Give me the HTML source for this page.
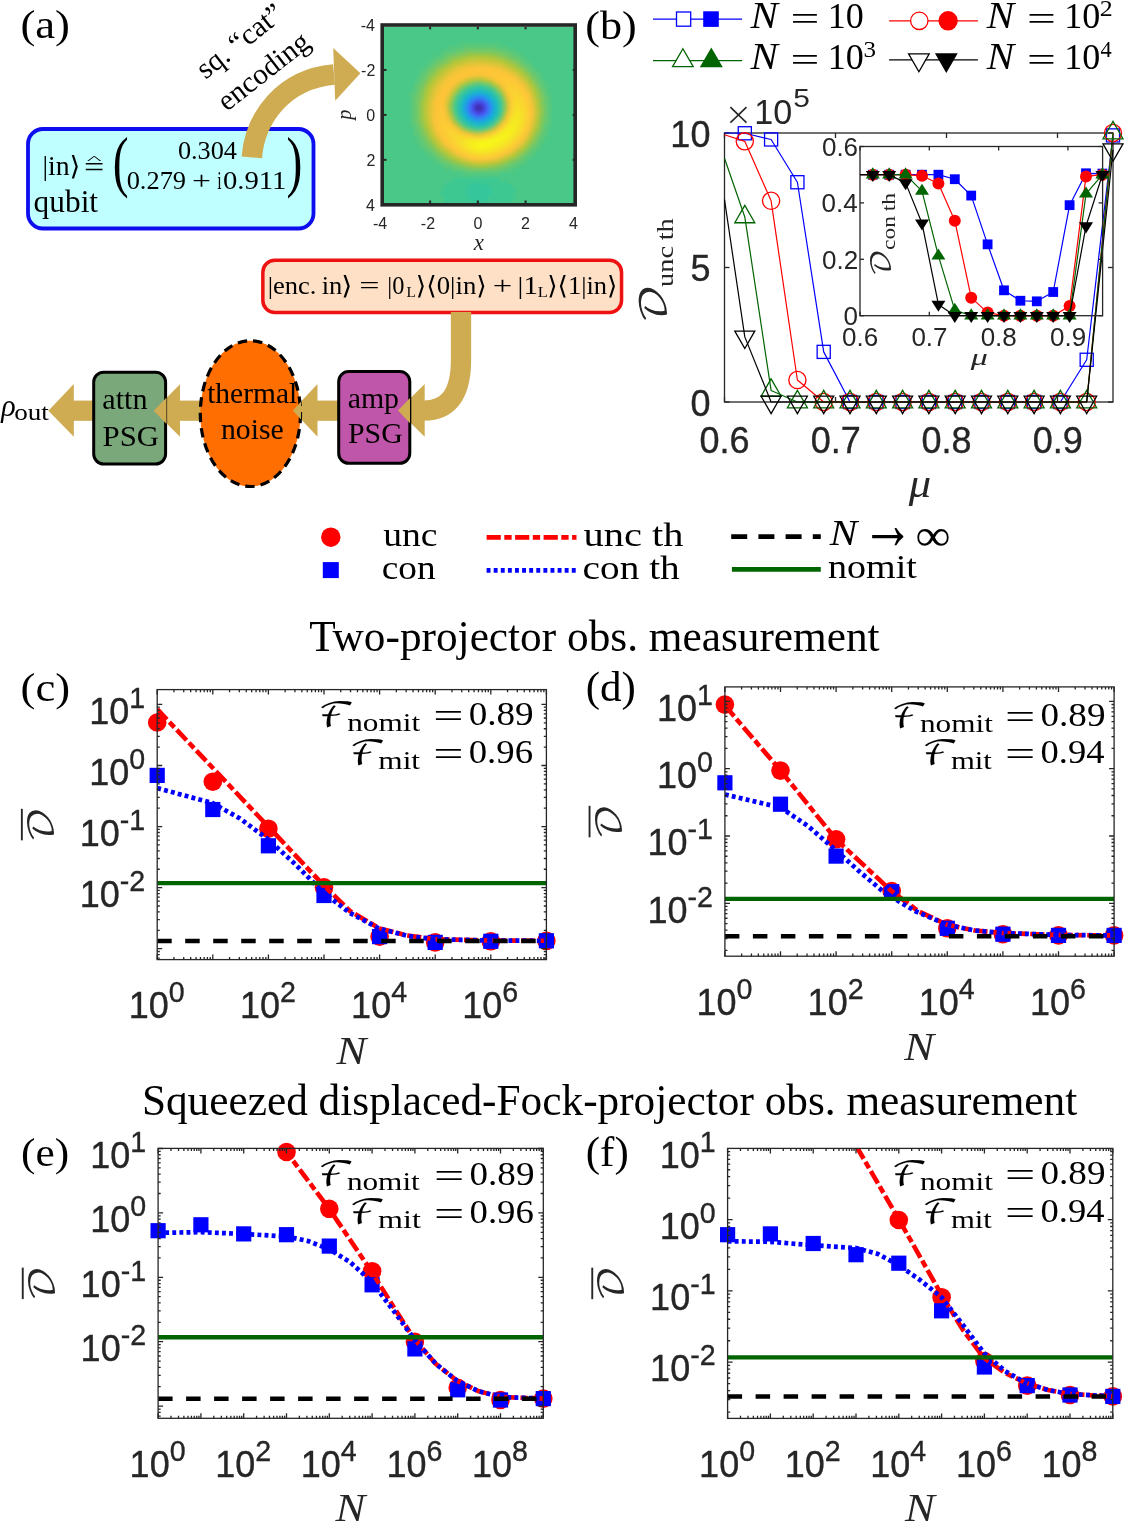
<!DOCTYPE html>
<html><head><meta charset="utf-8"><title>figure</title>
<style>html,body{margin:0;padding:0;background:#fff;overflow:hidden;}svg{display:block;}</style>
</head><body>
<svg width="1125" height="1522" viewBox="0 0 1125 1522">
<rect width="1125" height="1522" fill="#fff"/>
<text transform="translate(20.41 38.36) scale(1.099 1.000)" font-family="'Liberation Serif','DejaVu Serif',serif" font-size="40.66">(a)</text>
<defs><clipPath id="hmclip"><rect x="384" y="26.8" width="191.2" height="178.1"/></clipPath><filter id="hmblur" x="-5%" y="-5%" width="110%" height="110%"><feGaussianBlur stdDeviation="1.6"/></filter></defs>
<g clip-path="url(#hmclip)"><g filter="url(#hmblur)">
<path fill="#3e26a8" d="M476 106h3.5v3.5h-3.5z"/>
<path fill="#3f2bb1" d="M479 106h3.5v3.5h-3.5z"/>
<path fill="#4030b9" d="M476 103h3.5v3.5h-3.5zM476 109h3.5v3.5h-3.5zM479 109h3.5v3.5h-3.5z"/>
<path fill="#4135c2" d="M479 103h3.5v3.5h-3.5zM473 106h3.5v3.5h-3.5z"/>
<path fill="#433aca" d="M482 106h3.5v3.5h-3.5z"/>
<path fill="#443fd3" d="M473 103h3.5v3.5h-3.5zM473 109h3.5v3.5h-3.5zM482 109h3.5v3.5h-3.5z"/>
<path fill="#4544db" d="M482 103h3.5v3.5h-3.5z"/>
<path fill="#4649e4" d="M476 100h3.5v3.5h-3.5zM476 112h3.5v3.5h-3.5zM479 112h3.5v3.5h-3.5z"/>
<path fill="#474eec" d="M479 100h3.5v3.5h-3.5z"/>
<path fill="#4853f4" d="M470 106h3.5v3.5h-3.5zM485 106h3.5v3.5h-3.5zM473 112h3.5v3.5h-3.5zM482 112h3.5v3.5h-3.5z"/>
<path fill="#4559f4" d="M473 100h3.5v3.5h-3.5zM482 100h3.5v3.5h-3.5zM470 103h3.5v3.5h-3.5zM470 109h3.5v3.5h-3.5z"/>
<path fill="#425ff5" d="M485 103h3.5v3.5h-3.5zM485 109h3.5v3.5h-3.5z"/>
<path fill="#3c6bf5" d="M470 112h3.5v3.5h-3.5zM476 115h3.5v3.5h-3.5zM479 115h3.5v3.5h-3.5z"/>
<path fill="#3971f6" d="M476 97h3.5v3.5h-3.5zM479 97h3.5v3.5h-3.5zM470 100h3.5v3.5h-3.5zM485 112h3.5v3.5h-3.5z"/>
<path fill="#3677f6" d="M485 100h3.5v3.5h-3.5zM467 106h3.5v3.5h-3.5zM473 115h3.5v3.5h-3.5zM482 115h3.5v3.5h-3.5z"/>
<path fill="#337cf6" d="M473 97h3.5v3.5h-3.5zM482 97h3.5v3.5h-3.5zM467 103h3.5v3.5h-3.5zM488 106h3.5v3.5h-3.5zM467 109h3.5v3.5h-3.5z"/>
<path fill="#3082f7" d="M488 103h3.5v3.5h-3.5zM488 109h3.5v3.5h-3.5z"/>
<path fill="#2d88f6" d="M470 115h3.5v3.5h-3.5z"/>
<path fill="#2a8df2" d="M470 97h3.5v3.5h-3.5zM467 100h3.5v3.5h-3.5zM467 112h3.5v3.5h-3.5zM488 112h3.5v3.5h-3.5zM485 115h3.5v3.5h-3.5z"/>
<path fill="#2792ef" d="M485 97h3.5v3.5h-3.5zM488 100h3.5v3.5h-3.5zM476 118h3.5v3.5h-3.5zM479 118h3.5v3.5h-3.5z"/>
<path fill="#2496eb" d="M476 94h3.5v3.5h-3.5zM479 94h3.5v3.5h-3.5zM464 106h3.5v3.5h-3.5zM473 118h3.5v3.5h-3.5z"/>
<path fill="#219be7" d="M473 94h3.5v3.5h-3.5zM482 94h3.5v3.5h-3.5zM464 103h3.5v3.5h-3.5zM491 106h3.5v3.5h-3.5zM464 109h3.5v3.5h-3.5zM482 118h3.5v3.5h-3.5z"/>
<path fill="#1da0e4" d="M467 97h3.5v3.5h-3.5zM491 103h3.5v3.5h-3.5zM491 109h3.5v3.5h-3.5zM467 115h3.5v3.5h-3.5zM488 115h3.5v3.5h-3.5z"/>
<path fill="#1aa5e0" d="M470 94h3.5v3.5h-3.5zM488 97h3.5v3.5h-3.5zM464 100h3.5v3.5h-3.5zM464 112h3.5v3.5h-3.5zM470 118h3.5v3.5h-3.5zM485 118h3.5v3.5h-3.5z"/>
<path fill="#17a9dc" d="M485 94h3.5v3.5h-3.5zM491 100h3.5v3.5h-3.5zM491 112h3.5v3.5h-3.5z"/>
<path fill="#14aed8" d="M476 121h3.5v3.5h-3.5zM479 121h3.5v3.5h-3.5z"/>
<path fill="#14b2d3" d="M476 91h3.5v3.5h-3.5zM479 91h3.5v3.5h-3.5zM467 94h3.5v3.5h-3.5zM464 97h3.5v3.5h-3.5zM461 103h3.5v3.5h-3.5zM461 106h3.5v3.5h-3.5zM461 109h3.5v3.5h-3.5zM464 115h3.5v3.5h-3.5zM491 115h3.5v3.5h-3.5zM467 118h3.5v3.5h-3.5zM488 118h3.5v3.5h-3.5zM473 121h3.5v3.5h-3.5zM482 121h3.5v3.5h-3.5z"/>
<path fill="#18b5cc" d="M473 91h3.5v3.5h-3.5zM482 91h3.5v3.5h-3.5zM488 94h3.5v3.5h-3.5zM491 97h3.5v3.5h-3.5zM494 103h3.5v3.5h-3.5zM494 106h3.5v3.5h-3.5zM494 109h3.5v3.5h-3.5z"/>
<path fill="#1cb7c5" d="M470 91h3.5v3.5h-3.5zM485 91h3.5v3.5h-3.5zM461 100h3.5v3.5h-3.5zM494 100h3.5v3.5h-3.5zM461 112h3.5v3.5h-3.5zM494 112h3.5v3.5h-3.5zM470 121h3.5v3.5h-3.5zM485 121h3.5v3.5h-3.5z"/>
<path fill="#20babe" d="M464 94h3.5v3.5h-3.5zM464 118h3.5v3.5h-3.5zM491 118h3.5v3.5h-3.5z"/>
<path fill="#24bcb7" d="M476 88h3.5v3.5h-3.5zM479 88h3.5v3.5h-3.5zM467 91h3.5v3.5h-3.5zM488 91h3.5v3.5h-3.5zM491 94h3.5v3.5h-3.5zM461 97h3.5v3.5h-3.5zM494 97h3.5v3.5h-3.5zM458 106h3.5v3.5h-3.5zM458 109h3.5v3.5h-3.5zM461 115h3.5v3.5h-3.5zM494 115h3.5v3.5h-3.5zM467 121h3.5v3.5h-3.5zM488 121h3.5v3.5h-3.5zM473 124h3.5v3.5h-3.5zM476 124h3.5v3.5h-3.5zM479 124h3.5v3.5h-3.5z"/>
<path fill="#28bfb0" d="M473 88h3.5v3.5h-3.5zM482 88h3.5v3.5h-3.5zM458 100h3.5v3.5h-3.5zM458 103h3.5v3.5h-3.5zM497 103h3.5v3.5h-3.5zM497 106h3.5v3.5h-3.5zM497 109h3.5v3.5h-3.5zM458 112h3.5v3.5h-3.5zM482 124h3.5v3.5h-3.5z"/>
<path fill="#2cc1a9" d="M470 88h3.5v3.5h-3.5zM485 88h3.5v3.5h-3.5zM464 91h3.5v3.5h-3.5zM491 91h3.5v3.5h-3.5zM461 94h3.5v3.5h-3.5zM494 94h3.5v3.5h-3.5zM497 100h3.5v3.5h-3.5zM497 112h3.5v3.5h-3.5zM461 118h3.5v3.5h-3.5zM464 121h3.5v3.5h-3.5zM470 124h3.5v3.5h-3.5zM485 124h3.5v3.5h-3.5z"/>
<path fill="#31c4a2" d="M467 88h3.5v3.5h-3.5zM488 88h3.5v3.5h-3.5zM458 97h3.5v3.5h-3.5zM458 115h3.5v3.5h-3.5zM494 118h3.5v3.5h-3.5zM491 121h3.5v3.5h-3.5zM467 124h3.5v3.5h-3.5z"/>
<path fill="#35c79b" d="M473 85h3.5v3.5h-3.5zM476 85h3.5v3.5h-3.5zM479 85h3.5v3.5h-3.5zM482 85h3.5v3.5h-3.5zM461 91h3.5v3.5h-3.5zM458 94h3.5v3.5h-3.5zM497 97h3.5v3.5h-3.5zM455 100h3.5v3.5h-3.5zM455 103h3.5v3.5h-3.5zM455 106h3.5v3.5h-3.5zM455 109h3.5v3.5h-3.5zM497 115h3.5v3.5h-3.5zM461 121h3.5v3.5h-3.5zM488 124h3.5v3.5h-3.5zM476 127h3.5v3.5h-3.5zM479 127h3.5v3.5h-3.5zM476 181h3.5v3.5h-3.5zM467 184h3.5v3.5h-3.5zM470 184h3.5v3.5h-3.5zM473 184h3.5v3.5h-3.5zM476 184h3.5v3.5h-3.5zM479 184h3.5v3.5h-3.5zM482 184h3.5v3.5h-3.5zM485 184h3.5v3.5h-3.5zM467 187h3.5v3.5h-3.5zM470 187h3.5v3.5h-3.5zM473 187h3.5v3.5h-3.5zM476 187h3.5v3.5h-3.5zM479 187h3.5v3.5h-3.5zM482 187h3.5v3.5h-3.5zM485 187h3.5v3.5h-3.5zM488 187h3.5v3.5h-3.5zM464 190h3.5v3.5h-3.5zM467 190h3.5v3.5h-3.5zM470 190h3.5v3.5h-3.5zM473 190h3.5v3.5h-3.5zM476 190h3.5v3.5h-3.5zM479 190h3.5v3.5h-3.5zM482 190h3.5v3.5h-3.5zM485 190h3.5v3.5h-3.5zM488 190h3.5v3.5h-3.5zM467 193h3.5v3.5h-3.5zM470 193h3.5v3.5h-3.5zM473 193h3.5v3.5h-3.5zM476 193h3.5v3.5h-3.5zM479 193h3.5v3.5h-3.5zM482 193h3.5v3.5h-3.5zM485 193h3.5v3.5h-3.5zM488 193h3.5v3.5h-3.5zM467 196h3.5v3.5h-3.5zM470 196h3.5v3.5h-3.5zM473 196h3.5v3.5h-3.5zM476 196h3.5v3.5h-3.5zM479 196h3.5v3.5h-3.5zM482 196h3.5v3.5h-3.5zM485 196h3.5v3.5h-3.5zM470 199h3.5v3.5h-3.5zM473 199h3.5v3.5h-3.5zM476 199h3.5v3.5h-3.5zM479 199h3.5v3.5h-3.5zM482 199h3.5v3.5h-3.5z"/>
<path fill="#3dc892" d="M470 85h3.5v3.5h-3.5zM485 85h3.5v3.5h-3.5zM464 88h3.5v3.5h-3.5zM491 88h3.5v3.5h-3.5zM494 91h3.5v3.5h-3.5zM497 94h3.5v3.5h-3.5zM500 103h3.5v3.5h-3.5zM500 106h3.5v3.5h-3.5zM500 109h3.5v3.5h-3.5zM455 112h3.5v3.5h-3.5zM458 118h3.5v3.5h-3.5zM464 124h3.5v3.5h-3.5zM473 127h3.5v3.5h-3.5zM482 127h3.5v3.5h-3.5zM452 178h3.5v3.5h-3.5zM455 178h3.5v3.5h-3.5zM458 178h3.5v3.5h-3.5zM461 178h3.5v3.5h-3.5zM464 178h3.5v3.5h-3.5zM467 178h3.5v3.5h-3.5zM470 178h3.5v3.5h-3.5zM473 178h3.5v3.5h-3.5zM476 178h3.5v3.5h-3.5zM479 178h3.5v3.5h-3.5zM482 178h3.5v3.5h-3.5zM485 178h3.5v3.5h-3.5zM488 178h3.5v3.5h-3.5zM491 178h3.5v3.5h-3.5zM494 178h3.5v3.5h-3.5zM497 178h3.5v3.5h-3.5zM446 181h3.5v3.5h-3.5zM449 181h3.5v3.5h-3.5zM452 181h3.5v3.5h-3.5zM455 181h3.5v3.5h-3.5zM458 181h3.5v3.5h-3.5zM461 181h3.5v3.5h-3.5zM464 181h3.5v3.5h-3.5zM467 181h3.5v3.5h-3.5zM470 181h3.5v3.5h-3.5zM473 181h3.5v3.5h-3.5zM479 181h3.5v3.5h-3.5zM482 181h3.5v3.5h-3.5zM485 181h3.5v3.5h-3.5zM488 181h3.5v3.5h-3.5zM491 181h3.5v3.5h-3.5zM494 181h3.5v3.5h-3.5zM497 181h3.5v3.5h-3.5zM500 181h3.5v3.5h-3.5zM503 181h3.5v3.5h-3.5zM506 181h3.5v3.5h-3.5zM443 184h3.5v3.5h-3.5zM446 184h3.5v3.5h-3.5zM449 184h3.5v3.5h-3.5zM452 184h3.5v3.5h-3.5zM455 184h3.5v3.5h-3.5zM458 184h3.5v3.5h-3.5zM461 184h3.5v3.5h-3.5zM464 184h3.5v3.5h-3.5zM488 184h3.5v3.5h-3.5zM491 184h3.5v3.5h-3.5zM494 184h3.5v3.5h-3.5zM497 184h3.5v3.5h-3.5zM500 184h3.5v3.5h-3.5zM503 184h3.5v3.5h-3.5zM506 184h3.5v3.5h-3.5zM509 184h3.5v3.5h-3.5zM443 187h3.5v3.5h-3.5zM446 187h3.5v3.5h-3.5zM449 187h3.5v3.5h-3.5zM452 187h3.5v3.5h-3.5zM455 187h3.5v3.5h-3.5zM458 187h3.5v3.5h-3.5zM461 187h3.5v3.5h-3.5zM464 187h3.5v3.5h-3.5zM491 187h3.5v3.5h-3.5zM494 187h3.5v3.5h-3.5zM497 187h3.5v3.5h-3.5zM500 187h3.5v3.5h-3.5zM503 187h3.5v3.5h-3.5zM506 187h3.5v3.5h-3.5zM509 187h3.5v3.5h-3.5zM512 187h3.5v3.5h-3.5zM440 190h3.5v3.5h-3.5zM443 190h3.5v3.5h-3.5zM446 190h3.5v3.5h-3.5zM449 190h3.5v3.5h-3.5zM452 190h3.5v3.5h-3.5zM455 190h3.5v3.5h-3.5zM458 190h3.5v3.5h-3.5zM461 190h3.5v3.5h-3.5zM491 190h3.5v3.5h-3.5zM494 190h3.5v3.5h-3.5zM497 190h3.5v3.5h-3.5zM500 190h3.5v3.5h-3.5zM503 190h3.5v3.5h-3.5zM506 190h3.5v3.5h-3.5zM509 190h3.5v3.5h-3.5zM512 190h3.5v3.5h-3.5zM440 193h3.5v3.5h-3.5zM443 193h3.5v3.5h-3.5zM446 193h3.5v3.5h-3.5zM449 193h3.5v3.5h-3.5zM452 193h3.5v3.5h-3.5zM455 193h3.5v3.5h-3.5zM458 193h3.5v3.5h-3.5zM461 193h3.5v3.5h-3.5zM464 193h3.5v3.5h-3.5zM491 193h3.5v3.5h-3.5zM494 193h3.5v3.5h-3.5zM497 193h3.5v3.5h-3.5zM500 193h3.5v3.5h-3.5zM503 193h3.5v3.5h-3.5zM506 193h3.5v3.5h-3.5zM509 193h3.5v3.5h-3.5zM512 193h3.5v3.5h-3.5zM443 196h3.5v3.5h-3.5zM446 196h3.5v3.5h-3.5zM449 196h3.5v3.5h-3.5zM452 196h3.5v3.5h-3.5zM455 196h3.5v3.5h-3.5zM458 196h3.5v3.5h-3.5zM461 196h3.5v3.5h-3.5zM464 196h3.5v3.5h-3.5zM488 196h3.5v3.5h-3.5zM491 196h3.5v3.5h-3.5zM494 196h3.5v3.5h-3.5zM497 196h3.5v3.5h-3.5zM500 196h3.5v3.5h-3.5zM503 196h3.5v3.5h-3.5zM506 196h3.5v3.5h-3.5zM509 196h3.5v3.5h-3.5zM512 196h3.5v3.5h-3.5zM443 199h3.5v3.5h-3.5zM446 199h3.5v3.5h-3.5zM449 199h3.5v3.5h-3.5zM452 199h3.5v3.5h-3.5zM455 199h3.5v3.5h-3.5zM458 199h3.5v3.5h-3.5zM461 199h3.5v3.5h-3.5zM464 199h3.5v3.5h-3.5zM467 199h3.5v3.5h-3.5zM485 199h3.5v3.5h-3.5zM488 199h3.5v3.5h-3.5zM491 199h3.5v3.5h-3.5zM494 199h3.5v3.5h-3.5zM497 199h3.5v3.5h-3.5zM500 199h3.5v3.5h-3.5zM503 199h3.5v3.5h-3.5zM506 199h3.5v3.5h-3.5zM509 199h3.5v3.5h-3.5zM443 202h3.5v3.5h-3.5zM446 202h3.5v3.5h-3.5zM449 202h3.5v3.5h-3.5zM452 202h3.5v3.5h-3.5zM455 202h3.5v3.5h-3.5zM458 202h3.5v3.5h-3.5zM461 202h3.5v3.5h-3.5zM464 202h3.5v3.5h-3.5zM467 202h3.5v3.5h-3.5zM470 202h3.5v3.5h-3.5zM473 202h3.5v3.5h-3.5zM476 202h3.5v3.5h-3.5zM479 202h3.5v3.5h-3.5zM482 202h3.5v3.5h-3.5zM485 202h3.5v3.5h-3.5zM488 202h3.5v3.5h-3.5zM491 202h3.5v3.5h-3.5zM494 202h3.5v3.5h-3.5zM497 202h3.5v3.5h-3.5zM500 202h3.5v3.5h-3.5zM503 202h3.5v3.5h-3.5zM506 202h3.5v3.5h-3.5zM509 202h3.5v3.5h-3.5zM446 205h3.5v3.5h-3.5zM449 205h3.5v3.5h-3.5zM452 205h3.5v3.5h-3.5zM455 205h3.5v3.5h-3.5zM458 205h3.5v3.5h-3.5zM461 205h3.5v3.5h-3.5zM464 205h3.5v3.5h-3.5zM467 205h3.5v3.5h-3.5zM470 205h3.5v3.5h-3.5zM473 205h3.5v3.5h-3.5zM476 205h3.5v3.5h-3.5zM479 205h3.5v3.5h-3.5zM482 205h3.5v3.5h-3.5zM485 205h3.5v3.5h-3.5zM488 205h3.5v3.5h-3.5zM491 205h3.5v3.5h-3.5zM494 205h3.5v3.5h-3.5zM497 205h3.5v3.5h-3.5zM500 205h3.5v3.5h-3.5zM503 205h3.5v3.5h-3.5zM506 205h3.5v3.5h-3.5z"/>
<path fill="#4ac887" d="M380 22h3.5v3.5h-3.5zM383 22h3.5v3.5h-3.5zM386 22h3.5v3.5h-3.5zM389 22h3.5v3.5h-3.5zM392 22h3.5v3.5h-3.5zM395 22h3.5v3.5h-3.5zM398 22h3.5v3.5h-3.5zM401 22h3.5v3.5h-3.5zM404 22h3.5v3.5h-3.5zM407 22h3.5v3.5h-3.5zM410 22h3.5v3.5h-3.5zM413 22h3.5v3.5h-3.5zM416 22h3.5v3.5h-3.5zM419 22h3.5v3.5h-3.5zM422 22h3.5v3.5h-3.5zM425 22h3.5v3.5h-3.5zM428 22h3.5v3.5h-3.5zM431 22h3.5v3.5h-3.5zM434 22h3.5v3.5h-3.5zM437 22h3.5v3.5h-3.5zM440 22h3.5v3.5h-3.5zM443 22h3.5v3.5h-3.5zM446 22h3.5v3.5h-3.5zM449 22h3.5v3.5h-3.5zM452 22h3.5v3.5h-3.5zM455 22h3.5v3.5h-3.5zM458 22h3.5v3.5h-3.5zM461 22h3.5v3.5h-3.5zM464 22h3.5v3.5h-3.5zM467 22h3.5v3.5h-3.5zM470 22h3.5v3.5h-3.5zM473 22h3.5v3.5h-3.5zM476 22h3.5v3.5h-3.5zM479 22h3.5v3.5h-3.5zM482 22h3.5v3.5h-3.5zM485 22h3.5v3.5h-3.5zM488 22h3.5v3.5h-3.5zM491 22h3.5v3.5h-3.5zM494 22h3.5v3.5h-3.5zM497 22h3.5v3.5h-3.5zM500 22h3.5v3.5h-3.5zM503 22h3.5v3.5h-3.5zM506 22h3.5v3.5h-3.5zM509 22h3.5v3.5h-3.5zM512 22h3.5v3.5h-3.5zM515 22h3.5v3.5h-3.5zM518 22h3.5v3.5h-3.5zM521 22h3.5v3.5h-3.5zM524 22h3.5v3.5h-3.5zM527 22h3.5v3.5h-3.5zM530 22h3.5v3.5h-3.5zM533 22h3.5v3.5h-3.5zM536 22h3.5v3.5h-3.5zM539 22h3.5v3.5h-3.5zM542 22h3.5v3.5h-3.5zM545 22h3.5v3.5h-3.5zM548 22h3.5v3.5h-3.5zM551 22h3.5v3.5h-3.5zM554 22h3.5v3.5h-3.5zM557 22h3.5v3.5h-3.5zM560 22h3.5v3.5h-3.5zM563 22h3.5v3.5h-3.5zM566 22h3.5v3.5h-3.5zM569 22h3.5v3.5h-3.5zM572 22h3.5v3.5h-3.5zM575 22h3.5v3.5h-3.5zM380 25h3.5v3.5h-3.5zM383 25h3.5v3.5h-3.5zM386 25h3.5v3.5h-3.5zM389 25h3.5v3.5h-3.5zM392 25h3.5v3.5h-3.5zM395 25h3.5v3.5h-3.5zM398 25h3.5v3.5h-3.5zM401 25h3.5v3.5h-3.5zM404 25h3.5v3.5h-3.5zM407 25h3.5v3.5h-3.5zM410 25h3.5v3.5h-3.5zM413 25h3.5v3.5h-3.5zM416 25h3.5v3.5h-3.5zM419 25h3.5v3.5h-3.5zM422 25h3.5v3.5h-3.5zM425 25h3.5v3.5h-3.5zM428 25h3.5v3.5h-3.5zM431 25h3.5v3.5h-3.5zM434 25h3.5v3.5h-3.5zM437 25h3.5v3.5h-3.5zM440 25h3.5v3.5h-3.5zM443 25h3.5v3.5h-3.5zM446 25h3.5v3.5h-3.5zM449 25h3.5v3.5h-3.5zM452 25h3.5v3.5h-3.5zM455 25h3.5v3.5h-3.5zM458 25h3.5v3.5h-3.5zM461 25h3.5v3.5h-3.5zM464 25h3.5v3.5h-3.5zM467 25h3.5v3.5h-3.5zM470 25h3.5v3.5h-3.5zM473 25h3.5v3.5h-3.5zM476 25h3.5v3.5h-3.5zM479 25h3.5v3.5h-3.5zM482 25h3.5v3.5h-3.5zM485 25h3.5v3.5h-3.5zM488 25h3.5v3.5h-3.5zM491 25h3.5v3.5h-3.5zM494 25h3.5v3.5h-3.5zM497 25h3.5v3.5h-3.5zM500 25h3.5v3.5h-3.5zM503 25h3.5v3.5h-3.5zM506 25h3.5v3.5h-3.5zM509 25h3.5v3.5h-3.5zM512 25h3.5v3.5h-3.5zM515 25h3.5v3.5h-3.5zM518 25h3.5v3.5h-3.5zM521 25h3.5v3.5h-3.5zM524 25h3.5v3.5h-3.5zM527 25h3.5v3.5h-3.5zM530 25h3.5v3.5h-3.5zM533 25h3.5v3.5h-3.5zM536 25h3.5v3.5h-3.5zM539 25h3.5v3.5h-3.5zM542 25h3.5v3.5h-3.5zM545 25h3.5v3.5h-3.5zM548 25h3.5v3.5h-3.5zM551 25h3.5v3.5h-3.5zM554 25h3.5v3.5h-3.5zM557 25h3.5v3.5h-3.5zM560 25h3.5v3.5h-3.5zM563 25h3.5v3.5h-3.5zM566 25h3.5v3.5h-3.5zM569 25h3.5v3.5h-3.5zM572 25h3.5v3.5h-3.5zM575 25h3.5v3.5h-3.5zM380 28h3.5v3.5h-3.5zM383 28h3.5v3.5h-3.5zM386 28h3.5v3.5h-3.5zM389 28h3.5v3.5h-3.5zM392 28h3.5v3.5h-3.5zM395 28h3.5v3.5h-3.5zM398 28h3.5v3.5h-3.5zM401 28h3.5v3.5h-3.5zM404 28h3.5v3.5h-3.5zM407 28h3.5v3.5h-3.5zM410 28h3.5v3.5h-3.5zM413 28h3.5v3.5h-3.5zM416 28h3.5v3.5h-3.5zM419 28h3.5v3.5h-3.5zM422 28h3.5v3.5h-3.5zM425 28h3.5v3.5h-3.5zM428 28h3.5v3.5h-3.5zM431 28h3.5v3.5h-3.5zM434 28h3.5v3.5h-3.5zM437 28h3.5v3.5h-3.5zM440 28h3.5v3.5h-3.5zM443 28h3.5v3.5h-3.5zM446 28h3.5v3.5h-3.5zM449 28h3.5v3.5h-3.5zM452 28h3.5v3.5h-3.5zM455 28h3.5v3.5h-3.5zM458 28h3.5v3.5h-3.5zM461 28h3.5v3.5h-3.5zM464 28h3.5v3.5h-3.5zM467 28h3.5v3.5h-3.5zM470 28h3.5v3.5h-3.5zM473 28h3.5v3.5h-3.5zM476 28h3.5v3.5h-3.5zM479 28h3.5v3.5h-3.5zM482 28h3.5v3.5h-3.5zM485 28h3.5v3.5h-3.5zM488 28h3.5v3.5h-3.5zM491 28h3.5v3.5h-3.5zM494 28h3.5v3.5h-3.5zM497 28h3.5v3.5h-3.5zM500 28h3.5v3.5h-3.5zM503 28h3.5v3.5h-3.5zM506 28h3.5v3.5h-3.5zM509 28h3.5v3.5h-3.5zM512 28h3.5v3.5h-3.5zM515 28h3.5v3.5h-3.5zM518 28h3.5v3.5h-3.5zM521 28h3.5v3.5h-3.5zM524 28h3.5v3.5h-3.5zM527 28h3.5v3.5h-3.5zM530 28h3.5v3.5h-3.5zM533 28h3.5v3.5h-3.5zM536 28h3.5v3.5h-3.5zM539 28h3.5v3.5h-3.5zM542 28h3.5v3.5h-3.5zM545 28h3.5v3.5h-3.5zM548 28h3.5v3.5h-3.5zM551 28h3.5v3.5h-3.5zM554 28h3.5v3.5h-3.5zM557 28h3.5v3.5h-3.5zM560 28h3.5v3.5h-3.5zM563 28h3.5v3.5h-3.5zM566 28h3.5v3.5h-3.5zM569 28h3.5v3.5h-3.5zM572 28h3.5v3.5h-3.5zM575 28h3.5v3.5h-3.5zM380 31h3.5v3.5h-3.5zM383 31h3.5v3.5h-3.5zM386 31h3.5v3.5h-3.5zM389 31h3.5v3.5h-3.5zM392 31h3.5v3.5h-3.5zM395 31h3.5v3.5h-3.5zM398 31h3.5v3.5h-3.5zM401 31h3.5v3.5h-3.5zM404 31h3.5v3.5h-3.5zM407 31h3.5v3.5h-3.5zM410 31h3.5v3.5h-3.5zM413 31h3.5v3.5h-3.5zM416 31h3.5v3.5h-3.5zM419 31h3.5v3.5h-3.5zM422 31h3.5v3.5h-3.5zM425 31h3.5v3.5h-3.5zM428 31h3.5v3.5h-3.5zM431 31h3.5v3.5h-3.5zM434 31h3.5v3.5h-3.5zM437 31h3.5v3.5h-3.5zM440 31h3.5v3.5h-3.5zM443 31h3.5v3.5h-3.5zM446 31h3.5v3.5h-3.5zM449 31h3.5v3.5h-3.5zM452 31h3.5v3.5h-3.5zM455 31h3.5v3.5h-3.5zM458 31h3.5v3.5h-3.5zM461 31h3.5v3.5h-3.5zM464 31h3.5v3.5h-3.5zM467 31h3.5v3.5h-3.5zM470 31h3.5v3.5h-3.5zM473 31h3.5v3.5h-3.5zM476 31h3.5v3.5h-3.5zM479 31h3.5v3.5h-3.5zM482 31h3.5v3.5h-3.5zM485 31h3.5v3.5h-3.5zM488 31h3.5v3.5h-3.5zM491 31h3.5v3.5h-3.5zM494 31h3.5v3.5h-3.5zM497 31h3.5v3.5h-3.5zM500 31h3.5v3.5h-3.5zM503 31h3.5v3.5h-3.5zM506 31h3.5v3.5h-3.5zM509 31h3.5v3.5h-3.5zM512 31h3.5v3.5h-3.5zM515 31h3.5v3.5h-3.5zM518 31h3.5v3.5h-3.5zM521 31h3.5v3.5h-3.5zM524 31h3.5v3.5h-3.5zM527 31h3.5v3.5h-3.5zM530 31h3.5v3.5h-3.5zM533 31h3.5v3.5h-3.5zM536 31h3.5v3.5h-3.5zM539 31h3.5v3.5h-3.5zM542 31h3.5v3.5h-3.5zM545 31h3.5v3.5h-3.5zM548 31h3.5v3.5h-3.5zM551 31h3.5v3.5h-3.5zM554 31h3.5v3.5h-3.5zM557 31h3.5v3.5h-3.5zM560 31h3.5v3.5h-3.5zM563 31h3.5v3.5h-3.5zM566 31h3.5v3.5h-3.5zM569 31h3.5v3.5h-3.5zM572 31h3.5v3.5h-3.5zM575 31h3.5v3.5h-3.5zM380 34h3.5v3.5h-3.5zM383 34h3.5v3.5h-3.5zM386 34h3.5v3.5h-3.5zM389 34h3.5v3.5h-3.5zM392 34h3.5v3.5h-3.5zM395 34h3.5v3.5h-3.5zM398 34h3.5v3.5h-3.5zM401 34h3.5v3.5h-3.5zM404 34h3.5v3.5h-3.5zM407 34h3.5v3.5h-3.5zM410 34h3.5v3.5h-3.5zM413 34h3.5v3.5h-3.5zM416 34h3.5v3.5h-3.5zM419 34h3.5v3.5h-3.5zM422 34h3.5v3.5h-3.5zM425 34h3.5v3.5h-3.5zM428 34h3.5v3.5h-3.5zM431 34h3.5v3.5h-3.5zM434 34h3.5v3.5h-3.5zM437 34h3.5v3.5h-3.5zM440 34h3.5v3.5h-3.5zM443 34h3.5v3.5h-3.5zM446 34h3.5v3.5h-3.5zM449 34h3.5v3.5h-3.5zM452 34h3.5v3.5h-3.5zM455 34h3.5v3.5h-3.5zM458 34h3.5v3.5h-3.5zM461 34h3.5v3.5h-3.5zM464 34h3.5v3.5h-3.5zM467 34h3.5v3.5h-3.5zM470 34h3.5v3.5h-3.5zM473 34h3.5v3.5h-3.5zM476 34h3.5v3.5h-3.5zM479 34h3.5v3.5h-3.5zM482 34h3.5v3.5h-3.5zM485 34h3.5v3.5h-3.5zM488 34h3.5v3.5h-3.5zM491 34h3.5v3.5h-3.5zM494 34h3.5v3.5h-3.5zM497 34h3.5v3.5h-3.5zM500 34h3.5v3.5h-3.5zM503 34h3.5v3.5h-3.5zM506 34h3.5v3.5h-3.5zM509 34h3.5v3.5h-3.5zM512 34h3.5v3.5h-3.5zM515 34h3.5v3.5h-3.5zM518 34h3.5v3.5h-3.5zM521 34h3.5v3.5h-3.5zM524 34h3.5v3.5h-3.5zM527 34h3.5v3.5h-3.5zM530 34h3.5v3.5h-3.5zM533 34h3.5v3.5h-3.5zM536 34h3.5v3.5h-3.5zM539 34h3.5v3.5h-3.5zM542 34h3.5v3.5h-3.5zM545 34h3.5v3.5h-3.5zM548 34h3.5v3.5h-3.5zM551 34h3.5v3.5h-3.5zM554 34h3.5v3.5h-3.5zM557 34h3.5v3.5h-3.5zM560 34h3.5v3.5h-3.5zM563 34h3.5v3.5h-3.5zM566 34h3.5v3.5h-3.5zM569 34h3.5v3.5h-3.5zM572 34h3.5v3.5h-3.5zM575 34h3.5v3.5h-3.5zM380 37h3.5v3.5h-3.5zM383 37h3.5v3.5h-3.5zM386 37h3.5v3.5h-3.5zM389 37h3.5v3.5h-3.5zM392 37h3.5v3.5h-3.5zM395 37h3.5v3.5h-3.5zM398 37h3.5v3.5h-3.5zM401 37h3.5v3.5h-3.5zM404 37h3.5v3.5h-3.5zM407 37h3.5v3.5h-3.5zM410 37h3.5v3.5h-3.5zM413 37h3.5v3.5h-3.5zM416 37h3.5v3.5h-3.5zM419 37h3.5v3.5h-3.5zM422 37h3.5v3.5h-3.5zM425 37h3.5v3.5h-3.5zM428 37h3.5v3.5h-3.5zM431 37h3.5v3.5h-3.5zM434 37h3.5v3.5h-3.5zM437 37h3.5v3.5h-3.5zM440 37h3.5v3.5h-3.5zM443 37h3.5v3.5h-3.5zM446 37h3.5v3.5h-3.5zM449 37h3.5v3.5h-3.5zM452 37h3.5v3.5h-3.5zM455 37h3.5v3.5h-3.5zM458 37h3.5v3.5h-3.5zM461 37h3.5v3.5h-3.5zM464 37h3.5v3.5h-3.5zM467 37h3.5v3.5h-3.5zM470 37h3.5v3.5h-3.5zM473 37h3.5v3.5h-3.5zM476 37h3.5v3.5h-3.5zM479 37h3.5v3.5h-3.5zM482 37h3.5v3.5h-3.5zM485 37h3.5v3.5h-3.5zM488 37h3.5v3.5h-3.5zM491 37h3.5v3.5h-3.5zM494 37h3.5v3.5h-3.5zM497 37h3.5v3.5h-3.5zM500 37h3.5v3.5h-3.5zM503 37h3.5v3.5h-3.5zM506 37h3.5v3.5h-3.5zM509 37h3.5v3.5h-3.5zM512 37h3.5v3.5h-3.5zM515 37h3.5v3.5h-3.5zM518 37h3.5v3.5h-3.5zM521 37h3.5v3.5h-3.5zM524 37h3.5v3.5h-3.5zM527 37h3.5v3.5h-3.5zM530 37h3.5v3.5h-3.5zM533 37h3.5v3.5h-3.5zM536 37h3.5v3.5h-3.5zM539 37h3.5v3.5h-3.5zM542 37h3.5v3.5h-3.5zM545 37h3.5v3.5h-3.5zM548 37h3.5v3.5h-3.5zM551 37h3.5v3.5h-3.5zM554 37h3.5v3.5h-3.5zM557 37h3.5v3.5h-3.5zM560 37h3.5v3.5h-3.5zM563 37h3.5v3.5h-3.5zM566 37h3.5v3.5h-3.5zM569 37h3.5v3.5h-3.5zM572 37h3.5v3.5h-3.5zM575 37h3.5v3.5h-3.5zM380 40h3.5v3.5h-3.5zM383 40h3.5v3.5h-3.5zM386 40h3.5v3.5h-3.5zM389 40h3.5v3.5h-3.5zM392 40h3.5v3.5h-3.5zM395 40h3.5v3.5h-3.5zM398 40h3.5v3.5h-3.5zM401 40h3.5v3.5h-3.5zM404 40h3.5v3.5h-3.5zM407 40h3.5v3.5h-3.5zM410 40h3.5v3.5h-3.5zM413 40h3.5v3.5h-3.5zM416 40h3.5v3.5h-3.5zM419 40h3.5v3.5h-3.5zM422 40h3.5v3.5h-3.5zM425 40h3.5v3.5h-3.5zM428 40h3.5v3.5h-3.5zM431 40h3.5v3.5h-3.5zM434 40h3.5v3.5h-3.5zM437 40h3.5v3.5h-3.5zM440 40h3.5v3.5h-3.5zM443 40h3.5v3.5h-3.5zM446 40h3.5v3.5h-3.5zM449 40h3.5v3.5h-3.5zM452 40h3.5v3.5h-3.5zM455 40h3.5v3.5h-3.5zM458 40h3.5v3.5h-3.5zM461 40h3.5v3.5h-3.5zM464 40h3.5v3.5h-3.5zM467 40h3.5v3.5h-3.5zM470 40h3.5v3.5h-3.5zM473 40h3.5v3.5h-3.5zM476 40h3.5v3.5h-3.5zM479 40h3.5v3.5h-3.5zM482 40h3.5v3.5h-3.5zM485 40h3.5v3.5h-3.5zM488 40h3.5v3.5h-3.5zM491 40h3.5v3.5h-3.5zM494 40h3.5v3.5h-3.5zM497 40h3.5v3.5h-3.5zM500 40h3.5v3.5h-3.5zM503 40h3.5v3.5h-3.5zM506 40h3.5v3.5h-3.5zM509 40h3.5v3.5h-3.5zM512 40h3.5v3.5h-3.5zM515 40h3.5v3.5h-3.5zM518 40h3.5v3.5h-3.5zM521 40h3.5v3.5h-3.5zM524 40h3.5v3.5h-3.5zM527 40h3.5v3.5h-3.5zM530 40h3.5v3.5h-3.5zM533 40h3.5v3.5h-3.5zM536 40h3.5v3.5h-3.5zM539 40h3.5v3.5h-3.5zM542 40h3.5v3.5h-3.5zM545 40h3.5v3.5h-3.5zM548 40h3.5v3.5h-3.5zM551 40h3.5v3.5h-3.5zM554 40h3.5v3.5h-3.5zM557 40h3.5v3.5h-3.5zM560 40h3.5v3.5h-3.5zM563 40h3.5v3.5h-3.5zM566 40h3.5v3.5h-3.5zM569 40h3.5v3.5h-3.5zM572 40h3.5v3.5h-3.5zM575 40h3.5v3.5h-3.5zM380 43h3.5v3.5h-3.5zM383 43h3.5v3.5h-3.5zM386 43h3.5v3.5h-3.5zM389 43h3.5v3.5h-3.5zM392 43h3.5v3.5h-3.5zM395 43h3.5v3.5h-3.5zM398 43h3.5v3.5h-3.5zM401 43h3.5v3.5h-3.5zM404 43h3.5v3.5h-3.5zM407 43h3.5v3.5h-3.5zM410 43h3.5v3.5h-3.5zM413 43h3.5v3.5h-3.5zM416 43h3.5v3.5h-3.5zM419 43h3.5v3.5h-3.5zM422 43h3.5v3.5h-3.5zM425 43h3.5v3.5h-3.5zM428 43h3.5v3.5h-3.5zM431 43h3.5v3.5h-3.5zM434 43h3.5v3.5h-3.5zM437 43h3.5v3.5h-3.5zM440 43h3.5v3.5h-3.5zM443 43h3.5v3.5h-3.5zM446 43h3.5v3.5h-3.5zM449 43h3.5v3.5h-3.5zM452 43h3.5v3.5h-3.5zM455 43h3.5v3.5h-3.5zM500 43h3.5v3.5h-3.5zM503 43h3.5v3.5h-3.5zM506 43h3.5v3.5h-3.5zM509 43h3.5v3.5h-3.5zM512 43h3.5v3.5h-3.5zM515 43h3.5v3.5h-3.5zM518 43h3.5v3.5h-3.5zM521 43h3.5v3.5h-3.5zM524 43h3.5v3.5h-3.5zM527 43h3.5v3.5h-3.5zM530 43h3.5v3.5h-3.5zM533 43h3.5v3.5h-3.5zM536 43h3.5v3.5h-3.5zM539 43h3.5v3.5h-3.5zM542 43h3.5v3.5h-3.5zM545 43h3.5v3.5h-3.5zM548 43h3.5v3.5h-3.5zM551 43h3.5v3.5h-3.5zM554 43h3.5v3.5h-3.5zM557 43h3.5v3.5h-3.5zM560 43h3.5v3.5h-3.5zM563 43h3.5v3.5h-3.5zM566 43h3.5v3.5h-3.5zM569 43h3.5v3.5h-3.5zM572 43h3.5v3.5h-3.5zM575 43h3.5v3.5h-3.5zM380 46h3.5v3.5h-3.5zM383 46h3.5v3.5h-3.5zM386 46h3.5v3.5h-3.5zM389 46h3.5v3.5h-3.5zM392 46h3.5v3.5h-3.5zM395 46h3.5v3.5h-3.5zM398 46h3.5v3.5h-3.5zM401 46h3.5v3.5h-3.5zM404 46h3.5v3.5h-3.5zM407 46h3.5v3.5h-3.5zM410 46h3.5v3.5h-3.5zM413 46h3.5v3.5h-3.5zM416 46h3.5v3.5h-3.5zM419 46h3.5v3.5h-3.5zM422 46h3.5v3.5h-3.5zM425 46h3.5v3.5h-3.5zM428 46h3.5v3.5h-3.5zM431 46h3.5v3.5h-3.5zM434 46h3.5v3.5h-3.5zM437 46h3.5v3.5h-3.5zM440 46h3.5v3.5h-3.5zM443 46h3.5v3.5h-3.5zM446 46h3.5v3.5h-3.5zM509 46h3.5v3.5h-3.5zM512 46h3.5v3.5h-3.5zM515 46h3.5v3.5h-3.5zM518 46h3.5v3.5h-3.5zM521 46h3.5v3.5h-3.5zM524 46h3.5v3.5h-3.5zM527 46h3.5v3.5h-3.5zM530 46h3.5v3.5h-3.5zM533 46h3.5v3.5h-3.5zM536 46h3.5v3.5h-3.5zM539 46h3.5v3.5h-3.5zM542 46h3.5v3.5h-3.5zM545 46h3.5v3.5h-3.5zM548 46h3.5v3.5h-3.5zM551 46h3.5v3.5h-3.5zM554 46h3.5v3.5h-3.5zM557 46h3.5v3.5h-3.5zM560 46h3.5v3.5h-3.5zM563 46h3.5v3.5h-3.5zM566 46h3.5v3.5h-3.5zM569 46h3.5v3.5h-3.5zM572 46h3.5v3.5h-3.5zM575 46h3.5v3.5h-3.5zM380 49h3.5v3.5h-3.5zM383 49h3.5v3.5h-3.5zM386 49h3.5v3.5h-3.5zM389 49h3.5v3.5h-3.5zM392 49h3.5v3.5h-3.5zM395 49h3.5v3.5h-3.5zM398 49h3.5v3.5h-3.5zM401 49h3.5v3.5h-3.5zM404 49h3.5v3.5h-3.5zM407 49h3.5v3.5h-3.5zM410 49h3.5v3.5h-3.5zM413 49h3.5v3.5h-3.5zM416 49h3.5v3.5h-3.5zM419 49h3.5v3.5h-3.5zM422 49h3.5v3.5h-3.5zM425 49h3.5v3.5h-3.5zM428 49h3.5v3.5h-3.5zM431 49h3.5v3.5h-3.5zM434 49h3.5v3.5h-3.5zM437 49h3.5v3.5h-3.5zM440 49h3.5v3.5h-3.5zM515 49h3.5v3.5h-3.5zM518 49h3.5v3.5h-3.5zM521 49h3.5v3.5h-3.5zM524 49h3.5v3.5h-3.5zM527 49h3.5v3.5h-3.5zM530 49h3.5v3.5h-3.5zM533 49h3.5v3.5h-3.5zM536 49h3.5v3.5h-3.5zM539 49h3.5v3.5h-3.5zM542 49h3.5v3.5h-3.5zM545 49h3.5v3.5h-3.5zM548 49h3.5v3.5h-3.5zM551 49h3.5v3.5h-3.5zM554 49h3.5v3.5h-3.5zM557 49h3.5v3.5h-3.5zM560 49h3.5v3.5h-3.5zM563 49h3.5v3.5h-3.5zM566 49h3.5v3.5h-3.5zM569 49h3.5v3.5h-3.5zM572 49h3.5v3.5h-3.5zM575 49h3.5v3.5h-3.5zM380 52h3.5v3.5h-3.5zM383 52h3.5v3.5h-3.5zM386 52h3.5v3.5h-3.5zM389 52h3.5v3.5h-3.5zM392 52h3.5v3.5h-3.5zM395 52h3.5v3.5h-3.5zM398 52h3.5v3.5h-3.5zM401 52h3.5v3.5h-3.5zM404 52h3.5v3.5h-3.5zM407 52h3.5v3.5h-3.5zM410 52h3.5v3.5h-3.5zM413 52h3.5v3.5h-3.5zM416 52h3.5v3.5h-3.5zM419 52h3.5v3.5h-3.5zM422 52h3.5v3.5h-3.5zM425 52h3.5v3.5h-3.5zM428 52h3.5v3.5h-3.5zM431 52h3.5v3.5h-3.5zM434 52h3.5v3.5h-3.5zM437 52h3.5v3.5h-3.5zM521 52h3.5v3.5h-3.5zM524 52h3.5v3.5h-3.5zM527 52h3.5v3.5h-3.5zM530 52h3.5v3.5h-3.5zM533 52h3.5v3.5h-3.5zM536 52h3.5v3.5h-3.5zM539 52h3.5v3.5h-3.5zM542 52h3.5v3.5h-3.5zM545 52h3.5v3.5h-3.5zM548 52h3.5v3.5h-3.5zM551 52h3.5v3.5h-3.5zM554 52h3.5v3.5h-3.5zM557 52h3.5v3.5h-3.5zM560 52h3.5v3.5h-3.5zM563 52h3.5v3.5h-3.5zM566 52h3.5v3.5h-3.5zM569 52h3.5v3.5h-3.5zM572 52h3.5v3.5h-3.5zM575 52h3.5v3.5h-3.5zM380 55h3.5v3.5h-3.5zM383 55h3.5v3.5h-3.5zM386 55h3.5v3.5h-3.5zM389 55h3.5v3.5h-3.5zM392 55h3.5v3.5h-3.5zM395 55h3.5v3.5h-3.5zM398 55h3.5v3.5h-3.5zM401 55h3.5v3.5h-3.5zM404 55h3.5v3.5h-3.5zM407 55h3.5v3.5h-3.5zM410 55h3.5v3.5h-3.5zM413 55h3.5v3.5h-3.5zM416 55h3.5v3.5h-3.5zM419 55h3.5v3.5h-3.5zM422 55h3.5v3.5h-3.5zM425 55h3.5v3.5h-3.5zM428 55h3.5v3.5h-3.5zM431 55h3.5v3.5h-3.5zM524 55h3.5v3.5h-3.5zM527 55h3.5v3.5h-3.5zM530 55h3.5v3.5h-3.5zM533 55h3.5v3.5h-3.5zM536 55h3.5v3.5h-3.5zM539 55h3.5v3.5h-3.5zM542 55h3.5v3.5h-3.5zM545 55h3.5v3.5h-3.5zM548 55h3.5v3.5h-3.5zM551 55h3.5v3.5h-3.5zM554 55h3.5v3.5h-3.5zM557 55h3.5v3.5h-3.5zM560 55h3.5v3.5h-3.5zM563 55h3.5v3.5h-3.5zM566 55h3.5v3.5h-3.5zM569 55h3.5v3.5h-3.5zM572 55h3.5v3.5h-3.5zM575 55h3.5v3.5h-3.5zM380 58h3.5v3.5h-3.5zM383 58h3.5v3.5h-3.5zM386 58h3.5v3.5h-3.5zM389 58h3.5v3.5h-3.5zM392 58h3.5v3.5h-3.5zM395 58h3.5v3.5h-3.5zM398 58h3.5v3.5h-3.5zM401 58h3.5v3.5h-3.5zM404 58h3.5v3.5h-3.5zM407 58h3.5v3.5h-3.5zM410 58h3.5v3.5h-3.5zM413 58h3.5v3.5h-3.5zM416 58h3.5v3.5h-3.5zM419 58h3.5v3.5h-3.5zM422 58h3.5v3.5h-3.5zM425 58h3.5v3.5h-3.5zM428 58h3.5v3.5h-3.5zM527 58h3.5v3.5h-3.5zM530 58h3.5v3.5h-3.5zM533 58h3.5v3.5h-3.5zM536 58h3.5v3.5h-3.5zM539 58h3.5v3.5h-3.5zM542 58h3.5v3.5h-3.5zM545 58h3.5v3.5h-3.5zM548 58h3.5v3.5h-3.5zM551 58h3.5v3.5h-3.5zM554 58h3.5v3.5h-3.5zM557 58h3.5v3.5h-3.5zM560 58h3.5v3.5h-3.5zM563 58h3.5v3.5h-3.5zM566 58h3.5v3.5h-3.5zM569 58h3.5v3.5h-3.5zM572 58h3.5v3.5h-3.5zM575 58h3.5v3.5h-3.5zM380 61h3.5v3.5h-3.5zM383 61h3.5v3.5h-3.5zM386 61h3.5v3.5h-3.5zM389 61h3.5v3.5h-3.5zM392 61h3.5v3.5h-3.5zM395 61h3.5v3.5h-3.5zM398 61h3.5v3.5h-3.5zM401 61h3.5v3.5h-3.5zM404 61h3.5v3.5h-3.5zM407 61h3.5v3.5h-3.5zM410 61h3.5v3.5h-3.5zM413 61h3.5v3.5h-3.5zM416 61h3.5v3.5h-3.5zM419 61h3.5v3.5h-3.5zM422 61h3.5v3.5h-3.5zM425 61h3.5v3.5h-3.5zM530 61h3.5v3.5h-3.5zM533 61h3.5v3.5h-3.5zM536 61h3.5v3.5h-3.5zM539 61h3.5v3.5h-3.5zM542 61h3.5v3.5h-3.5zM545 61h3.5v3.5h-3.5zM548 61h3.5v3.5h-3.5zM551 61h3.5v3.5h-3.5zM554 61h3.5v3.5h-3.5zM557 61h3.5v3.5h-3.5zM560 61h3.5v3.5h-3.5zM563 61h3.5v3.5h-3.5zM566 61h3.5v3.5h-3.5zM569 61h3.5v3.5h-3.5zM572 61h3.5v3.5h-3.5zM575 61h3.5v3.5h-3.5zM380 64h3.5v3.5h-3.5zM383 64h3.5v3.5h-3.5zM386 64h3.5v3.5h-3.5zM389 64h3.5v3.5h-3.5zM392 64h3.5v3.5h-3.5zM395 64h3.5v3.5h-3.5zM398 64h3.5v3.5h-3.5zM401 64h3.5v3.5h-3.5zM404 64h3.5v3.5h-3.5zM407 64h3.5v3.5h-3.5zM410 64h3.5v3.5h-3.5zM413 64h3.5v3.5h-3.5zM416 64h3.5v3.5h-3.5zM419 64h3.5v3.5h-3.5zM422 64h3.5v3.5h-3.5zM533 64h3.5v3.5h-3.5zM536 64h3.5v3.5h-3.5zM539 64h3.5v3.5h-3.5zM542 64h3.5v3.5h-3.5zM545 64h3.5v3.5h-3.5zM548 64h3.5v3.5h-3.5zM551 64h3.5v3.5h-3.5zM554 64h3.5v3.5h-3.5zM557 64h3.5v3.5h-3.5zM560 64h3.5v3.5h-3.5zM563 64h3.5v3.5h-3.5zM566 64h3.5v3.5h-3.5zM569 64h3.5v3.5h-3.5zM572 64h3.5v3.5h-3.5zM575 64h3.5v3.5h-3.5zM380 67h3.5v3.5h-3.5zM383 67h3.5v3.5h-3.5zM386 67h3.5v3.5h-3.5zM389 67h3.5v3.5h-3.5zM392 67h3.5v3.5h-3.5zM395 67h3.5v3.5h-3.5zM398 67h3.5v3.5h-3.5zM401 67h3.5v3.5h-3.5zM404 67h3.5v3.5h-3.5zM407 67h3.5v3.5h-3.5zM410 67h3.5v3.5h-3.5zM413 67h3.5v3.5h-3.5zM416 67h3.5v3.5h-3.5zM419 67h3.5v3.5h-3.5zM536 67h3.5v3.5h-3.5zM539 67h3.5v3.5h-3.5zM542 67h3.5v3.5h-3.5zM545 67h3.5v3.5h-3.5zM548 67h3.5v3.5h-3.5zM551 67h3.5v3.5h-3.5zM554 67h3.5v3.5h-3.5zM557 67h3.5v3.5h-3.5zM560 67h3.5v3.5h-3.5zM563 67h3.5v3.5h-3.5zM566 67h3.5v3.5h-3.5zM569 67h3.5v3.5h-3.5zM572 67h3.5v3.5h-3.5zM575 67h3.5v3.5h-3.5zM380 70h3.5v3.5h-3.5zM383 70h3.5v3.5h-3.5zM386 70h3.5v3.5h-3.5zM389 70h3.5v3.5h-3.5zM392 70h3.5v3.5h-3.5zM395 70h3.5v3.5h-3.5zM398 70h3.5v3.5h-3.5zM401 70h3.5v3.5h-3.5zM404 70h3.5v3.5h-3.5zM407 70h3.5v3.5h-3.5zM410 70h3.5v3.5h-3.5zM413 70h3.5v3.5h-3.5zM416 70h3.5v3.5h-3.5zM539 70h3.5v3.5h-3.5zM542 70h3.5v3.5h-3.5zM545 70h3.5v3.5h-3.5zM548 70h3.5v3.5h-3.5zM551 70h3.5v3.5h-3.5zM554 70h3.5v3.5h-3.5zM557 70h3.5v3.5h-3.5zM560 70h3.5v3.5h-3.5zM563 70h3.5v3.5h-3.5zM566 70h3.5v3.5h-3.5zM569 70h3.5v3.5h-3.5zM572 70h3.5v3.5h-3.5zM575 70h3.5v3.5h-3.5zM380 73h3.5v3.5h-3.5zM383 73h3.5v3.5h-3.5zM386 73h3.5v3.5h-3.5zM389 73h3.5v3.5h-3.5zM392 73h3.5v3.5h-3.5zM395 73h3.5v3.5h-3.5zM398 73h3.5v3.5h-3.5zM401 73h3.5v3.5h-3.5zM404 73h3.5v3.5h-3.5zM407 73h3.5v3.5h-3.5zM410 73h3.5v3.5h-3.5zM413 73h3.5v3.5h-3.5zM416 73h3.5v3.5h-3.5zM542 73h3.5v3.5h-3.5zM545 73h3.5v3.5h-3.5zM548 73h3.5v3.5h-3.5zM551 73h3.5v3.5h-3.5zM554 73h3.5v3.5h-3.5zM557 73h3.5v3.5h-3.5zM560 73h3.5v3.5h-3.5zM563 73h3.5v3.5h-3.5zM566 73h3.5v3.5h-3.5zM569 73h3.5v3.5h-3.5zM572 73h3.5v3.5h-3.5zM575 73h3.5v3.5h-3.5zM380 76h3.5v3.5h-3.5zM383 76h3.5v3.5h-3.5zM386 76h3.5v3.5h-3.5zM389 76h3.5v3.5h-3.5zM392 76h3.5v3.5h-3.5zM395 76h3.5v3.5h-3.5zM398 76h3.5v3.5h-3.5zM401 76h3.5v3.5h-3.5zM404 76h3.5v3.5h-3.5zM407 76h3.5v3.5h-3.5zM410 76h3.5v3.5h-3.5zM413 76h3.5v3.5h-3.5zM542 76h3.5v3.5h-3.5zM545 76h3.5v3.5h-3.5zM548 76h3.5v3.5h-3.5zM551 76h3.5v3.5h-3.5zM554 76h3.5v3.5h-3.5zM557 76h3.5v3.5h-3.5zM560 76h3.5v3.5h-3.5zM563 76h3.5v3.5h-3.5zM566 76h3.5v3.5h-3.5zM569 76h3.5v3.5h-3.5zM572 76h3.5v3.5h-3.5zM575 76h3.5v3.5h-3.5zM380 79h3.5v3.5h-3.5zM383 79h3.5v3.5h-3.5zM386 79h3.5v3.5h-3.5zM389 79h3.5v3.5h-3.5zM392 79h3.5v3.5h-3.5zM395 79h3.5v3.5h-3.5zM398 79h3.5v3.5h-3.5zM401 79h3.5v3.5h-3.5zM404 79h3.5v3.5h-3.5zM407 79h3.5v3.5h-3.5zM410 79h3.5v3.5h-3.5zM413 79h3.5v3.5h-3.5zM545 79h3.5v3.5h-3.5zM548 79h3.5v3.5h-3.5zM551 79h3.5v3.5h-3.5zM554 79h3.5v3.5h-3.5zM557 79h3.5v3.5h-3.5zM560 79h3.5v3.5h-3.5zM563 79h3.5v3.5h-3.5zM566 79h3.5v3.5h-3.5zM569 79h3.5v3.5h-3.5zM572 79h3.5v3.5h-3.5zM575 79h3.5v3.5h-3.5zM380 82h3.5v3.5h-3.5zM383 82h3.5v3.5h-3.5zM386 82h3.5v3.5h-3.5zM389 82h3.5v3.5h-3.5zM392 82h3.5v3.5h-3.5zM395 82h3.5v3.5h-3.5zM398 82h3.5v3.5h-3.5zM401 82h3.5v3.5h-3.5zM404 82h3.5v3.5h-3.5zM407 82h3.5v3.5h-3.5zM410 82h3.5v3.5h-3.5zM545 82h3.5v3.5h-3.5zM548 82h3.5v3.5h-3.5zM551 82h3.5v3.5h-3.5zM554 82h3.5v3.5h-3.5zM557 82h3.5v3.5h-3.5zM560 82h3.5v3.5h-3.5zM563 82h3.5v3.5h-3.5zM566 82h3.5v3.5h-3.5zM569 82h3.5v3.5h-3.5zM572 82h3.5v3.5h-3.5zM575 82h3.5v3.5h-3.5zM380 85h3.5v3.5h-3.5zM383 85h3.5v3.5h-3.5zM386 85h3.5v3.5h-3.5zM389 85h3.5v3.5h-3.5zM392 85h3.5v3.5h-3.5zM395 85h3.5v3.5h-3.5zM398 85h3.5v3.5h-3.5zM401 85h3.5v3.5h-3.5zM404 85h3.5v3.5h-3.5zM407 85h3.5v3.5h-3.5zM410 85h3.5v3.5h-3.5zM467 85h3.5v3.5h-3.5zM548 85h3.5v3.5h-3.5zM551 85h3.5v3.5h-3.5zM554 85h3.5v3.5h-3.5zM557 85h3.5v3.5h-3.5zM560 85h3.5v3.5h-3.5zM563 85h3.5v3.5h-3.5zM566 85h3.5v3.5h-3.5zM569 85h3.5v3.5h-3.5zM572 85h3.5v3.5h-3.5zM575 85h3.5v3.5h-3.5zM380 88h3.5v3.5h-3.5zM383 88h3.5v3.5h-3.5zM386 88h3.5v3.5h-3.5zM389 88h3.5v3.5h-3.5zM392 88h3.5v3.5h-3.5zM395 88h3.5v3.5h-3.5zM398 88h3.5v3.5h-3.5zM401 88h3.5v3.5h-3.5zM404 88h3.5v3.5h-3.5zM407 88h3.5v3.5h-3.5zM410 88h3.5v3.5h-3.5zM548 88h3.5v3.5h-3.5zM551 88h3.5v3.5h-3.5zM554 88h3.5v3.5h-3.5zM557 88h3.5v3.5h-3.5zM560 88h3.5v3.5h-3.5zM563 88h3.5v3.5h-3.5zM566 88h3.5v3.5h-3.5zM569 88h3.5v3.5h-3.5zM572 88h3.5v3.5h-3.5zM575 88h3.5v3.5h-3.5zM380 91h3.5v3.5h-3.5zM383 91h3.5v3.5h-3.5zM386 91h3.5v3.5h-3.5zM389 91h3.5v3.5h-3.5zM392 91h3.5v3.5h-3.5zM395 91h3.5v3.5h-3.5zM398 91h3.5v3.5h-3.5zM401 91h3.5v3.5h-3.5zM404 91h3.5v3.5h-3.5zM407 91h3.5v3.5h-3.5zM548 91h3.5v3.5h-3.5zM551 91h3.5v3.5h-3.5zM554 91h3.5v3.5h-3.5zM557 91h3.5v3.5h-3.5zM560 91h3.5v3.5h-3.5zM563 91h3.5v3.5h-3.5zM566 91h3.5v3.5h-3.5zM569 91h3.5v3.5h-3.5zM572 91h3.5v3.5h-3.5zM575 91h3.5v3.5h-3.5zM380 94h3.5v3.5h-3.5zM383 94h3.5v3.5h-3.5zM386 94h3.5v3.5h-3.5zM389 94h3.5v3.5h-3.5zM392 94h3.5v3.5h-3.5zM395 94h3.5v3.5h-3.5zM398 94h3.5v3.5h-3.5zM401 94h3.5v3.5h-3.5zM404 94h3.5v3.5h-3.5zM407 94h3.5v3.5h-3.5zM551 94h3.5v3.5h-3.5zM554 94h3.5v3.5h-3.5zM557 94h3.5v3.5h-3.5zM560 94h3.5v3.5h-3.5zM563 94h3.5v3.5h-3.5zM566 94h3.5v3.5h-3.5zM569 94h3.5v3.5h-3.5zM572 94h3.5v3.5h-3.5zM575 94h3.5v3.5h-3.5zM380 97h3.5v3.5h-3.5zM383 97h3.5v3.5h-3.5zM386 97h3.5v3.5h-3.5zM389 97h3.5v3.5h-3.5zM392 97h3.5v3.5h-3.5zM395 97h3.5v3.5h-3.5zM398 97h3.5v3.5h-3.5zM401 97h3.5v3.5h-3.5zM404 97h3.5v3.5h-3.5zM407 97h3.5v3.5h-3.5zM455 97h3.5v3.5h-3.5zM551 97h3.5v3.5h-3.5zM554 97h3.5v3.5h-3.5zM557 97h3.5v3.5h-3.5zM560 97h3.5v3.5h-3.5zM563 97h3.5v3.5h-3.5zM566 97h3.5v3.5h-3.5zM569 97h3.5v3.5h-3.5zM572 97h3.5v3.5h-3.5zM575 97h3.5v3.5h-3.5zM380 100h3.5v3.5h-3.5zM383 100h3.5v3.5h-3.5zM386 100h3.5v3.5h-3.5zM389 100h3.5v3.5h-3.5zM392 100h3.5v3.5h-3.5zM395 100h3.5v3.5h-3.5zM398 100h3.5v3.5h-3.5zM401 100h3.5v3.5h-3.5zM404 100h3.5v3.5h-3.5zM407 100h3.5v3.5h-3.5zM500 100h3.5v3.5h-3.5zM551 100h3.5v3.5h-3.5zM554 100h3.5v3.5h-3.5zM557 100h3.5v3.5h-3.5zM560 100h3.5v3.5h-3.5zM563 100h3.5v3.5h-3.5zM566 100h3.5v3.5h-3.5zM569 100h3.5v3.5h-3.5zM572 100h3.5v3.5h-3.5zM575 100h3.5v3.5h-3.5zM380 103h3.5v3.5h-3.5zM383 103h3.5v3.5h-3.5zM386 103h3.5v3.5h-3.5zM389 103h3.5v3.5h-3.5zM392 103h3.5v3.5h-3.5zM395 103h3.5v3.5h-3.5zM398 103h3.5v3.5h-3.5zM401 103h3.5v3.5h-3.5zM404 103h3.5v3.5h-3.5zM407 103h3.5v3.5h-3.5zM551 103h3.5v3.5h-3.5zM554 103h3.5v3.5h-3.5zM557 103h3.5v3.5h-3.5zM560 103h3.5v3.5h-3.5zM563 103h3.5v3.5h-3.5zM566 103h3.5v3.5h-3.5zM569 103h3.5v3.5h-3.5zM572 103h3.5v3.5h-3.5zM575 103h3.5v3.5h-3.5zM380 106h3.5v3.5h-3.5zM383 106h3.5v3.5h-3.5zM386 106h3.5v3.5h-3.5zM389 106h3.5v3.5h-3.5zM392 106h3.5v3.5h-3.5zM395 106h3.5v3.5h-3.5zM398 106h3.5v3.5h-3.5zM401 106h3.5v3.5h-3.5zM404 106h3.5v3.5h-3.5zM407 106h3.5v3.5h-3.5zM551 106h3.5v3.5h-3.5zM554 106h3.5v3.5h-3.5zM557 106h3.5v3.5h-3.5zM560 106h3.5v3.5h-3.5zM563 106h3.5v3.5h-3.5zM566 106h3.5v3.5h-3.5zM569 106h3.5v3.5h-3.5zM572 106h3.5v3.5h-3.5zM575 106h3.5v3.5h-3.5zM380 109h3.5v3.5h-3.5zM383 109h3.5v3.5h-3.5zM386 109h3.5v3.5h-3.5zM389 109h3.5v3.5h-3.5zM392 109h3.5v3.5h-3.5zM395 109h3.5v3.5h-3.5zM398 109h3.5v3.5h-3.5zM401 109h3.5v3.5h-3.5zM404 109h3.5v3.5h-3.5zM407 109h3.5v3.5h-3.5zM551 109h3.5v3.5h-3.5zM554 109h3.5v3.5h-3.5zM557 109h3.5v3.5h-3.5zM560 109h3.5v3.5h-3.5zM563 109h3.5v3.5h-3.5zM566 109h3.5v3.5h-3.5zM569 109h3.5v3.5h-3.5zM572 109h3.5v3.5h-3.5zM575 109h3.5v3.5h-3.5zM380 112h3.5v3.5h-3.5zM383 112h3.5v3.5h-3.5zM386 112h3.5v3.5h-3.5zM389 112h3.5v3.5h-3.5zM392 112h3.5v3.5h-3.5zM395 112h3.5v3.5h-3.5zM398 112h3.5v3.5h-3.5zM401 112h3.5v3.5h-3.5zM404 112h3.5v3.5h-3.5zM407 112h3.5v3.5h-3.5zM500 112h3.5v3.5h-3.5zM551 112h3.5v3.5h-3.5zM554 112h3.5v3.5h-3.5zM557 112h3.5v3.5h-3.5zM560 112h3.5v3.5h-3.5zM563 112h3.5v3.5h-3.5zM566 112h3.5v3.5h-3.5zM569 112h3.5v3.5h-3.5zM572 112h3.5v3.5h-3.5zM575 112h3.5v3.5h-3.5zM380 115h3.5v3.5h-3.5zM383 115h3.5v3.5h-3.5zM386 115h3.5v3.5h-3.5zM389 115h3.5v3.5h-3.5zM392 115h3.5v3.5h-3.5zM395 115h3.5v3.5h-3.5zM398 115h3.5v3.5h-3.5zM401 115h3.5v3.5h-3.5zM404 115h3.5v3.5h-3.5zM407 115h3.5v3.5h-3.5zM455 115h3.5v3.5h-3.5zM551 115h3.5v3.5h-3.5zM554 115h3.5v3.5h-3.5zM557 115h3.5v3.5h-3.5zM560 115h3.5v3.5h-3.5zM563 115h3.5v3.5h-3.5zM566 115h3.5v3.5h-3.5zM569 115h3.5v3.5h-3.5zM572 115h3.5v3.5h-3.5zM575 115h3.5v3.5h-3.5zM380 118h3.5v3.5h-3.5zM383 118h3.5v3.5h-3.5zM386 118h3.5v3.5h-3.5zM389 118h3.5v3.5h-3.5zM392 118h3.5v3.5h-3.5zM395 118h3.5v3.5h-3.5zM398 118h3.5v3.5h-3.5zM401 118h3.5v3.5h-3.5zM404 118h3.5v3.5h-3.5zM407 118h3.5v3.5h-3.5zM497 118h3.5v3.5h-3.5zM551 118h3.5v3.5h-3.5zM554 118h3.5v3.5h-3.5zM557 118h3.5v3.5h-3.5zM560 118h3.5v3.5h-3.5zM563 118h3.5v3.5h-3.5zM566 118h3.5v3.5h-3.5zM569 118h3.5v3.5h-3.5zM572 118h3.5v3.5h-3.5zM575 118h3.5v3.5h-3.5zM380 121h3.5v3.5h-3.5zM383 121h3.5v3.5h-3.5zM386 121h3.5v3.5h-3.5zM389 121h3.5v3.5h-3.5zM392 121h3.5v3.5h-3.5zM395 121h3.5v3.5h-3.5zM398 121h3.5v3.5h-3.5zM401 121h3.5v3.5h-3.5zM404 121h3.5v3.5h-3.5zM407 121h3.5v3.5h-3.5zM494 121h3.5v3.5h-3.5zM551 121h3.5v3.5h-3.5zM554 121h3.5v3.5h-3.5zM557 121h3.5v3.5h-3.5zM560 121h3.5v3.5h-3.5zM563 121h3.5v3.5h-3.5zM566 121h3.5v3.5h-3.5zM569 121h3.5v3.5h-3.5zM572 121h3.5v3.5h-3.5zM575 121h3.5v3.5h-3.5zM380 124h3.5v3.5h-3.5zM383 124h3.5v3.5h-3.5zM386 124h3.5v3.5h-3.5zM389 124h3.5v3.5h-3.5zM392 124h3.5v3.5h-3.5zM395 124h3.5v3.5h-3.5zM398 124h3.5v3.5h-3.5zM401 124h3.5v3.5h-3.5zM404 124h3.5v3.5h-3.5zM407 124h3.5v3.5h-3.5zM491 124h3.5v3.5h-3.5zM551 124h3.5v3.5h-3.5zM554 124h3.5v3.5h-3.5zM557 124h3.5v3.5h-3.5zM560 124h3.5v3.5h-3.5zM563 124h3.5v3.5h-3.5zM566 124h3.5v3.5h-3.5zM569 124h3.5v3.5h-3.5zM572 124h3.5v3.5h-3.5zM575 124h3.5v3.5h-3.5zM380 127h3.5v3.5h-3.5zM383 127h3.5v3.5h-3.5zM386 127h3.5v3.5h-3.5zM389 127h3.5v3.5h-3.5zM392 127h3.5v3.5h-3.5zM395 127h3.5v3.5h-3.5zM398 127h3.5v3.5h-3.5zM401 127h3.5v3.5h-3.5zM404 127h3.5v3.5h-3.5zM407 127h3.5v3.5h-3.5zM410 127h3.5v3.5h-3.5zM470 127h3.5v3.5h-3.5zM485 127h3.5v3.5h-3.5zM548 127h3.5v3.5h-3.5zM551 127h3.5v3.5h-3.5zM554 127h3.5v3.5h-3.5zM557 127h3.5v3.5h-3.5zM560 127h3.5v3.5h-3.5zM563 127h3.5v3.5h-3.5zM566 127h3.5v3.5h-3.5zM569 127h3.5v3.5h-3.5zM572 127h3.5v3.5h-3.5zM575 127h3.5v3.5h-3.5zM380 130h3.5v3.5h-3.5zM383 130h3.5v3.5h-3.5zM386 130h3.5v3.5h-3.5zM389 130h3.5v3.5h-3.5zM392 130h3.5v3.5h-3.5zM395 130h3.5v3.5h-3.5zM398 130h3.5v3.5h-3.5zM401 130h3.5v3.5h-3.5zM404 130h3.5v3.5h-3.5zM407 130h3.5v3.5h-3.5zM410 130h3.5v3.5h-3.5zM548 130h3.5v3.5h-3.5zM551 130h3.5v3.5h-3.5zM554 130h3.5v3.5h-3.5zM557 130h3.5v3.5h-3.5zM560 130h3.5v3.5h-3.5zM563 130h3.5v3.5h-3.5zM566 130h3.5v3.5h-3.5zM569 130h3.5v3.5h-3.5zM572 130h3.5v3.5h-3.5zM575 130h3.5v3.5h-3.5zM380 133h3.5v3.5h-3.5zM383 133h3.5v3.5h-3.5zM386 133h3.5v3.5h-3.5zM389 133h3.5v3.5h-3.5zM392 133h3.5v3.5h-3.5zM395 133h3.5v3.5h-3.5zM398 133h3.5v3.5h-3.5zM401 133h3.5v3.5h-3.5zM404 133h3.5v3.5h-3.5zM407 133h3.5v3.5h-3.5zM410 133h3.5v3.5h-3.5zM548 133h3.5v3.5h-3.5zM551 133h3.5v3.5h-3.5zM554 133h3.5v3.5h-3.5zM557 133h3.5v3.5h-3.5zM560 133h3.5v3.5h-3.5zM563 133h3.5v3.5h-3.5zM566 133h3.5v3.5h-3.5zM569 133h3.5v3.5h-3.5zM572 133h3.5v3.5h-3.5zM575 133h3.5v3.5h-3.5zM380 136h3.5v3.5h-3.5zM383 136h3.5v3.5h-3.5zM386 136h3.5v3.5h-3.5zM389 136h3.5v3.5h-3.5zM392 136h3.5v3.5h-3.5zM395 136h3.5v3.5h-3.5zM398 136h3.5v3.5h-3.5zM401 136h3.5v3.5h-3.5zM404 136h3.5v3.5h-3.5zM407 136h3.5v3.5h-3.5zM410 136h3.5v3.5h-3.5zM413 136h3.5v3.5h-3.5zM545 136h3.5v3.5h-3.5zM548 136h3.5v3.5h-3.5zM551 136h3.5v3.5h-3.5zM554 136h3.5v3.5h-3.5zM557 136h3.5v3.5h-3.5zM560 136h3.5v3.5h-3.5zM563 136h3.5v3.5h-3.5zM566 136h3.5v3.5h-3.5zM569 136h3.5v3.5h-3.5zM572 136h3.5v3.5h-3.5zM575 136h3.5v3.5h-3.5zM380 139h3.5v3.5h-3.5zM383 139h3.5v3.5h-3.5zM386 139h3.5v3.5h-3.5zM389 139h3.5v3.5h-3.5zM392 139h3.5v3.5h-3.5zM395 139h3.5v3.5h-3.5zM398 139h3.5v3.5h-3.5zM401 139h3.5v3.5h-3.5zM404 139h3.5v3.5h-3.5zM407 139h3.5v3.5h-3.5zM410 139h3.5v3.5h-3.5zM413 139h3.5v3.5h-3.5zM545 139h3.5v3.5h-3.5zM548 139h3.5v3.5h-3.5zM551 139h3.5v3.5h-3.5zM554 139h3.5v3.5h-3.5zM557 139h3.5v3.5h-3.5zM560 139h3.5v3.5h-3.5zM563 139h3.5v3.5h-3.5zM566 139h3.5v3.5h-3.5zM569 139h3.5v3.5h-3.5zM572 139h3.5v3.5h-3.5zM575 139h3.5v3.5h-3.5zM380 142h3.5v3.5h-3.5zM383 142h3.5v3.5h-3.5zM386 142h3.5v3.5h-3.5zM389 142h3.5v3.5h-3.5zM392 142h3.5v3.5h-3.5zM395 142h3.5v3.5h-3.5zM398 142h3.5v3.5h-3.5zM401 142h3.5v3.5h-3.5zM404 142h3.5v3.5h-3.5zM407 142h3.5v3.5h-3.5zM410 142h3.5v3.5h-3.5zM413 142h3.5v3.5h-3.5zM416 142h3.5v3.5h-3.5zM542 142h3.5v3.5h-3.5zM545 142h3.5v3.5h-3.5zM548 142h3.5v3.5h-3.5zM551 142h3.5v3.5h-3.5zM554 142h3.5v3.5h-3.5zM557 142h3.5v3.5h-3.5zM560 142h3.5v3.5h-3.5zM563 142h3.5v3.5h-3.5zM566 142h3.5v3.5h-3.5zM569 142h3.5v3.5h-3.5zM572 142h3.5v3.5h-3.5zM575 142h3.5v3.5h-3.5zM380 145h3.5v3.5h-3.5zM383 145h3.5v3.5h-3.5zM386 145h3.5v3.5h-3.5zM389 145h3.5v3.5h-3.5zM392 145h3.5v3.5h-3.5zM395 145h3.5v3.5h-3.5zM398 145h3.5v3.5h-3.5zM401 145h3.5v3.5h-3.5zM404 145h3.5v3.5h-3.5zM407 145h3.5v3.5h-3.5zM410 145h3.5v3.5h-3.5zM413 145h3.5v3.5h-3.5zM416 145h3.5v3.5h-3.5zM539 145h3.5v3.5h-3.5zM542 145h3.5v3.5h-3.5zM545 145h3.5v3.5h-3.5zM548 145h3.5v3.5h-3.5zM551 145h3.5v3.5h-3.5zM554 145h3.5v3.5h-3.5zM557 145h3.5v3.5h-3.5zM560 145h3.5v3.5h-3.5zM563 145h3.5v3.5h-3.5zM566 145h3.5v3.5h-3.5zM569 145h3.5v3.5h-3.5zM572 145h3.5v3.5h-3.5zM575 145h3.5v3.5h-3.5zM380 148h3.5v3.5h-3.5zM383 148h3.5v3.5h-3.5zM386 148h3.5v3.5h-3.5zM389 148h3.5v3.5h-3.5zM392 148h3.5v3.5h-3.5zM395 148h3.5v3.5h-3.5zM398 148h3.5v3.5h-3.5zM401 148h3.5v3.5h-3.5zM404 148h3.5v3.5h-3.5zM407 148h3.5v3.5h-3.5zM410 148h3.5v3.5h-3.5zM413 148h3.5v3.5h-3.5zM416 148h3.5v3.5h-3.5zM419 148h3.5v3.5h-3.5zM539 148h3.5v3.5h-3.5zM542 148h3.5v3.5h-3.5zM545 148h3.5v3.5h-3.5zM548 148h3.5v3.5h-3.5zM551 148h3.5v3.5h-3.5zM554 148h3.5v3.5h-3.5zM557 148h3.5v3.5h-3.5zM560 148h3.5v3.5h-3.5zM563 148h3.5v3.5h-3.5zM566 148h3.5v3.5h-3.5zM569 148h3.5v3.5h-3.5zM572 148h3.5v3.5h-3.5zM575 148h3.5v3.5h-3.5zM380 151h3.5v3.5h-3.5zM383 151h3.5v3.5h-3.5zM386 151h3.5v3.5h-3.5zM389 151h3.5v3.5h-3.5zM392 151h3.5v3.5h-3.5zM395 151h3.5v3.5h-3.5zM398 151h3.5v3.5h-3.5zM401 151h3.5v3.5h-3.5zM404 151h3.5v3.5h-3.5zM407 151h3.5v3.5h-3.5zM410 151h3.5v3.5h-3.5zM413 151h3.5v3.5h-3.5zM416 151h3.5v3.5h-3.5zM419 151h3.5v3.5h-3.5zM422 151h3.5v3.5h-3.5zM536 151h3.5v3.5h-3.5zM539 151h3.5v3.5h-3.5zM542 151h3.5v3.5h-3.5zM545 151h3.5v3.5h-3.5zM548 151h3.5v3.5h-3.5zM551 151h3.5v3.5h-3.5zM554 151h3.5v3.5h-3.5zM557 151h3.5v3.5h-3.5zM560 151h3.5v3.5h-3.5zM563 151h3.5v3.5h-3.5zM566 151h3.5v3.5h-3.5zM569 151h3.5v3.5h-3.5zM572 151h3.5v3.5h-3.5zM575 151h3.5v3.5h-3.5zM380 154h3.5v3.5h-3.5zM383 154h3.5v3.5h-3.5zM386 154h3.5v3.5h-3.5zM389 154h3.5v3.5h-3.5zM392 154h3.5v3.5h-3.5zM395 154h3.5v3.5h-3.5zM398 154h3.5v3.5h-3.5zM401 154h3.5v3.5h-3.5zM404 154h3.5v3.5h-3.5zM407 154h3.5v3.5h-3.5zM410 154h3.5v3.5h-3.5zM413 154h3.5v3.5h-3.5zM416 154h3.5v3.5h-3.5zM419 154h3.5v3.5h-3.5zM422 154h3.5v3.5h-3.5zM425 154h3.5v3.5h-3.5zM533 154h3.5v3.5h-3.5zM536 154h3.5v3.5h-3.5zM539 154h3.5v3.5h-3.5zM542 154h3.5v3.5h-3.5zM545 154h3.5v3.5h-3.5zM548 154h3.5v3.5h-3.5zM551 154h3.5v3.5h-3.5zM554 154h3.5v3.5h-3.5zM557 154h3.5v3.5h-3.5zM560 154h3.5v3.5h-3.5zM563 154h3.5v3.5h-3.5zM566 154h3.5v3.5h-3.5zM569 154h3.5v3.5h-3.5zM572 154h3.5v3.5h-3.5zM575 154h3.5v3.5h-3.5zM380 157h3.5v3.5h-3.5zM383 157h3.5v3.5h-3.5zM386 157h3.5v3.5h-3.5zM389 157h3.5v3.5h-3.5zM392 157h3.5v3.5h-3.5zM395 157h3.5v3.5h-3.5zM398 157h3.5v3.5h-3.5zM401 157h3.5v3.5h-3.5zM404 157h3.5v3.5h-3.5zM407 157h3.5v3.5h-3.5zM410 157h3.5v3.5h-3.5zM413 157h3.5v3.5h-3.5zM416 157h3.5v3.5h-3.5zM419 157h3.5v3.5h-3.5zM422 157h3.5v3.5h-3.5zM425 157h3.5v3.5h-3.5zM428 157h3.5v3.5h-3.5zM530 157h3.5v3.5h-3.5zM533 157h3.5v3.5h-3.5zM536 157h3.5v3.5h-3.5zM539 157h3.5v3.5h-3.5zM542 157h3.5v3.5h-3.5zM545 157h3.5v3.5h-3.5zM548 157h3.5v3.5h-3.5zM551 157h3.5v3.5h-3.5zM554 157h3.5v3.5h-3.5zM557 157h3.5v3.5h-3.5zM560 157h3.5v3.5h-3.5zM563 157h3.5v3.5h-3.5zM566 157h3.5v3.5h-3.5zM569 157h3.5v3.5h-3.5zM572 157h3.5v3.5h-3.5zM575 157h3.5v3.5h-3.5zM380 160h3.5v3.5h-3.5zM383 160h3.5v3.5h-3.5zM386 160h3.5v3.5h-3.5zM389 160h3.5v3.5h-3.5zM392 160h3.5v3.5h-3.5zM395 160h3.5v3.5h-3.5zM398 160h3.5v3.5h-3.5zM401 160h3.5v3.5h-3.5zM404 160h3.5v3.5h-3.5zM407 160h3.5v3.5h-3.5zM410 160h3.5v3.5h-3.5zM413 160h3.5v3.5h-3.5zM416 160h3.5v3.5h-3.5zM419 160h3.5v3.5h-3.5zM422 160h3.5v3.5h-3.5zM425 160h3.5v3.5h-3.5zM428 160h3.5v3.5h-3.5zM431 160h3.5v3.5h-3.5zM527 160h3.5v3.5h-3.5zM530 160h3.5v3.5h-3.5zM533 160h3.5v3.5h-3.5zM536 160h3.5v3.5h-3.5zM539 160h3.5v3.5h-3.5zM542 160h3.5v3.5h-3.5zM545 160h3.5v3.5h-3.5zM548 160h3.5v3.5h-3.5zM551 160h3.5v3.5h-3.5zM554 160h3.5v3.5h-3.5zM557 160h3.5v3.5h-3.5zM560 160h3.5v3.5h-3.5zM563 160h3.5v3.5h-3.5zM566 160h3.5v3.5h-3.5zM569 160h3.5v3.5h-3.5zM572 160h3.5v3.5h-3.5zM575 160h3.5v3.5h-3.5zM380 163h3.5v3.5h-3.5zM383 163h3.5v3.5h-3.5zM386 163h3.5v3.5h-3.5zM389 163h3.5v3.5h-3.5zM392 163h3.5v3.5h-3.5zM395 163h3.5v3.5h-3.5zM398 163h3.5v3.5h-3.5zM401 163h3.5v3.5h-3.5zM404 163h3.5v3.5h-3.5zM407 163h3.5v3.5h-3.5zM410 163h3.5v3.5h-3.5zM413 163h3.5v3.5h-3.5zM416 163h3.5v3.5h-3.5zM419 163h3.5v3.5h-3.5zM422 163h3.5v3.5h-3.5zM425 163h3.5v3.5h-3.5zM428 163h3.5v3.5h-3.5zM431 163h3.5v3.5h-3.5zM434 163h3.5v3.5h-3.5zM437 163h3.5v3.5h-3.5zM521 163h3.5v3.5h-3.5zM524 163h3.5v3.5h-3.5zM527 163h3.5v3.5h-3.5zM530 163h3.5v3.5h-3.5zM533 163h3.5v3.5h-3.5zM536 163h3.5v3.5h-3.5zM539 163h3.5v3.5h-3.5zM542 163h3.5v3.5h-3.5zM545 163h3.5v3.5h-3.5zM548 163h3.5v3.5h-3.5zM551 163h3.5v3.5h-3.5zM554 163h3.5v3.5h-3.5zM557 163h3.5v3.5h-3.5zM560 163h3.5v3.5h-3.5zM563 163h3.5v3.5h-3.5zM566 163h3.5v3.5h-3.5zM569 163h3.5v3.5h-3.5zM572 163h3.5v3.5h-3.5zM575 163h3.5v3.5h-3.5zM380 166h3.5v3.5h-3.5zM383 166h3.5v3.5h-3.5zM386 166h3.5v3.5h-3.5zM389 166h3.5v3.5h-3.5zM392 166h3.5v3.5h-3.5zM395 166h3.5v3.5h-3.5zM398 166h3.5v3.5h-3.5zM401 166h3.5v3.5h-3.5zM404 166h3.5v3.5h-3.5zM407 166h3.5v3.5h-3.5zM410 166h3.5v3.5h-3.5zM413 166h3.5v3.5h-3.5zM416 166h3.5v3.5h-3.5zM419 166h3.5v3.5h-3.5zM422 166h3.5v3.5h-3.5zM425 166h3.5v3.5h-3.5zM428 166h3.5v3.5h-3.5zM431 166h3.5v3.5h-3.5zM434 166h3.5v3.5h-3.5zM437 166h3.5v3.5h-3.5zM440 166h3.5v3.5h-3.5zM518 166h3.5v3.5h-3.5zM521 166h3.5v3.5h-3.5zM524 166h3.5v3.5h-3.5zM527 166h3.5v3.5h-3.5zM530 166h3.5v3.5h-3.5zM533 166h3.5v3.5h-3.5zM536 166h3.5v3.5h-3.5zM539 166h3.5v3.5h-3.5zM542 166h3.5v3.5h-3.5zM545 166h3.5v3.5h-3.5zM548 166h3.5v3.5h-3.5zM551 166h3.5v3.5h-3.5zM554 166h3.5v3.5h-3.5zM557 166h3.5v3.5h-3.5zM560 166h3.5v3.5h-3.5zM563 166h3.5v3.5h-3.5zM566 166h3.5v3.5h-3.5zM569 166h3.5v3.5h-3.5zM572 166h3.5v3.5h-3.5zM575 166h3.5v3.5h-3.5zM380 169h3.5v3.5h-3.5zM383 169h3.5v3.5h-3.5zM386 169h3.5v3.5h-3.5zM389 169h3.5v3.5h-3.5zM392 169h3.5v3.5h-3.5zM395 169h3.5v3.5h-3.5zM398 169h3.5v3.5h-3.5zM401 169h3.5v3.5h-3.5zM404 169h3.5v3.5h-3.5zM407 169h3.5v3.5h-3.5zM410 169h3.5v3.5h-3.5zM413 169h3.5v3.5h-3.5zM416 169h3.5v3.5h-3.5zM419 169h3.5v3.5h-3.5zM422 169h3.5v3.5h-3.5zM425 169h3.5v3.5h-3.5zM428 169h3.5v3.5h-3.5zM431 169h3.5v3.5h-3.5zM434 169h3.5v3.5h-3.5zM437 169h3.5v3.5h-3.5zM440 169h3.5v3.5h-3.5zM443 169h3.5v3.5h-3.5zM446 169h3.5v3.5h-3.5zM449 169h3.5v3.5h-3.5zM512 169h3.5v3.5h-3.5zM515 169h3.5v3.5h-3.5zM518 169h3.5v3.5h-3.5zM521 169h3.5v3.5h-3.5zM524 169h3.5v3.5h-3.5zM527 169h3.5v3.5h-3.5zM530 169h3.5v3.5h-3.5zM533 169h3.5v3.5h-3.5zM536 169h3.5v3.5h-3.5zM539 169h3.5v3.5h-3.5zM542 169h3.5v3.5h-3.5zM545 169h3.5v3.5h-3.5zM548 169h3.5v3.5h-3.5zM551 169h3.5v3.5h-3.5zM554 169h3.5v3.5h-3.5zM557 169h3.5v3.5h-3.5zM560 169h3.5v3.5h-3.5zM563 169h3.5v3.5h-3.5zM566 169h3.5v3.5h-3.5zM569 169h3.5v3.5h-3.5zM572 169h3.5v3.5h-3.5zM575 169h3.5v3.5h-3.5zM380 172h3.5v3.5h-3.5zM383 172h3.5v3.5h-3.5zM386 172h3.5v3.5h-3.5zM389 172h3.5v3.5h-3.5zM392 172h3.5v3.5h-3.5zM395 172h3.5v3.5h-3.5zM398 172h3.5v3.5h-3.5zM401 172h3.5v3.5h-3.5zM404 172h3.5v3.5h-3.5zM407 172h3.5v3.5h-3.5zM410 172h3.5v3.5h-3.5zM413 172h3.5v3.5h-3.5zM416 172h3.5v3.5h-3.5zM419 172h3.5v3.5h-3.5zM422 172h3.5v3.5h-3.5zM425 172h3.5v3.5h-3.5zM428 172h3.5v3.5h-3.5zM431 172h3.5v3.5h-3.5zM434 172h3.5v3.5h-3.5zM437 172h3.5v3.5h-3.5zM440 172h3.5v3.5h-3.5zM443 172h3.5v3.5h-3.5zM446 172h3.5v3.5h-3.5zM449 172h3.5v3.5h-3.5zM452 172h3.5v3.5h-3.5zM455 172h3.5v3.5h-3.5zM458 172h3.5v3.5h-3.5zM461 172h3.5v3.5h-3.5zM500 172h3.5v3.5h-3.5zM503 172h3.5v3.5h-3.5zM506 172h3.5v3.5h-3.5zM509 172h3.5v3.5h-3.5zM512 172h3.5v3.5h-3.5zM515 172h3.5v3.5h-3.5zM518 172h3.5v3.5h-3.5zM521 172h3.5v3.5h-3.5zM524 172h3.5v3.5h-3.5zM527 172h3.5v3.5h-3.5zM530 172h3.5v3.5h-3.5zM533 172h3.5v3.5h-3.5zM536 172h3.5v3.5h-3.5zM539 172h3.5v3.5h-3.5zM542 172h3.5v3.5h-3.5zM545 172h3.5v3.5h-3.5zM548 172h3.5v3.5h-3.5zM551 172h3.5v3.5h-3.5zM554 172h3.5v3.5h-3.5zM557 172h3.5v3.5h-3.5zM560 172h3.5v3.5h-3.5zM563 172h3.5v3.5h-3.5zM566 172h3.5v3.5h-3.5zM569 172h3.5v3.5h-3.5zM572 172h3.5v3.5h-3.5zM575 172h3.5v3.5h-3.5zM380 175h3.5v3.5h-3.5zM383 175h3.5v3.5h-3.5zM386 175h3.5v3.5h-3.5zM389 175h3.5v3.5h-3.5zM392 175h3.5v3.5h-3.5zM395 175h3.5v3.5h-3.5zM398 175h3.5v3.5h-3.5zM401 175h3.5v3.5h-3.5zM404 175h3.5v3.5h-3.5zM407 175h3.5v3.5h-3.5zM410 175h3.5v3.5h-3.5zM413 175h3.5v3.5h-3.5zM416 175h3.5v3.5h-3.5zM419 175h3.5v3.5h-3.5zM422 175h3.5v3.5h-3.5zM425 175h3.5v3.5h-3.5zM428 175h3.5v3.5h-3.5zM431 175h3.5v3.5h-3.5zM434 175h3.5v3.5h-3.5zM437 175h3.5v3.5h-3.5zM440 175h3.5v3.5h-3.5zM443 175h3.5v3.5h-3.5zM446 175h3.5v3.5h-3.5zM449 175h3.5v3.5h-3.5zM452 175h3.5v3.5h-3.5zM455 175h3.5v3.5h-3.5zM458 175h3.5v3.5h-3.5zM461 175h3.5v3.5h-3.5zM464 175h3.5v3.5h-3.5zM467 175h3.5v3.5h-3.5zM470 175h3.5v3.5h-3.5zM473 175h3.5v3.5h-3.5zM476 175h3.5v3.5h-3.5zM479 175h3.5v3.5h-3.5zM482 175h3.5v3.5h-3.5zM485 175h3.5v3.5h-3.5zM488 175h3.5v3.5h-3.5zM491 175h3.5v3.5h-3.5zM494 175h3.5v3.5h-3.5zM497 175h3.5v3.5h-3.5zM500 175h3.5v3.5h-3.5zM503 175h3.5v3.5h-3.5zM506 175h3.5v3.5h-3.5zM509 175h3.5v3.5h-3.5zM512 175h3.5v3.5h-3.5zM515 175h3.5v3.5h-3.5zM518 175h3.5v3.5h-3.5zM521 175h3.5v3.5h-3.5zM524 175h3.5v3.5h-3.5zM527 175h3.5v3.5h-3.5zM530 175h3.5v3.5h-3.5zM533 175h3.5v3.5h-3.5zM536 175h3.5v3.5h-3.5zM539 175h3.5v3.5h-3.5zM542 175h3.5v3.5h-3.5zM545 175h3.5v3.5h-3.5zM548 175h3.5v3.5h-3.5zM551 175h3.5v3.5h-3.5zM554 175h3.5v3.5h-3.5zM557 175h3.5v3.5h-3.5zM560 175h3.5v3.5h-3.5zM563 175h3.5v3.5h-3.5zM566 175h3.5v3.5h-3.5zM569 175h3.5v3.5h-3.5zM572 175h3.5v3.5h-3.5zM575 175h3.5v3.5h-3.5zM380 178h3.5v3.5h-3.5zM383 178h3.5v3.5h-3.5zM386 178h3.5v3.5h-3.5zM389 178h3.5v3.5h-3.5zM392 178h3.5v3.5h-3.5zM395 178h3.5v3.5h-3.5zM398 178h3.5v3.5h-3.5zM401 178h3.5v3.5h-3.5zM404 178h3.5v3.5h-3.5zM407 178h3.5v3.5h-3.5zM410 178h3.5v3.5h-3.5zM413 178h3.5v3.5h-3.5zM416 178h3.5v3.5h-3.5zM419 178h3.5v3.5h-3.5zM422 178h3.5v3.5h-3.5zM425 178h3.5v3.5h-3.5zM428 178h3.5v3.5h-3.5zM431 178h3.5v3.5h-3.5zM434 178h3.5v3.5h-3.5zM437 178h3.5v3.5h-3.5zM440 178h3.5v3.5h-3.5zM443 178h3.5v3.5h-3.5zM446 178h3.5v3.5h-3.5zM449 178h3.5v3.5h-3.5zM500 178h3.5v3.5h-3.5zM503 178h3.5v3.5h-3.5zM506 178h3.5v3.5h-3.5zM509 178h3.5v3.5h-3.5zM512 178h3.5v3.5h-3.5zM515 178h3.5v3.5h-3.5zM518 178h3.5v3.5h-3.5zM521 178h3.5v3.5h-3.5zM524 178h3.5v3.5h-3.5zM527 178h3.5v3.5h-3.5zM530 178h3.5v3.5h-3.5zM533 178h3.5v3.5h-3.5zM536 178h3.5v3.5h-3.5zM539 178h3.5v3.5h-3.5zM542 178h3.5v3.5h-3.5zM545 178h3.5v3.5h-3.5zM548 178h3.5v3.5h-3.5zM551 178h3.5v3.5h-3.5zM554 178h3.5v3.5h-3.5zM557 178h3.5v3.5h-3.5zM560 178h3.5v3.5h-3.5zM563 178h3.5v3.5h-3.5zM566 178h3.5v3.5h-3.5zM569 178h3.5v3.5h-3.5zM572 178h3.5v3.5h-3.5zM575 178h3.5v3.5h-3.5zM380 181h3.5v3.5h-3.5zM383 181h3.5v3.5h-3.5zM386 181h3.5v3.5h-3.5zM389 181h3.5v3.5h-3.5zM392 181h3.5v3.5h-3.5zM395 181h3.5v3.5h-3.5zM398 181h3.5v3.5h-3.5zM401 181h3.5v3.5h-3.5zM404 181h3.5v3.5h-3.5zM407 181h3.5v3.5h-3.5zM410 181h3.5v3.5h-3.5zM413 181h3.5v3.5h-3.5zM416 181h3.5v3.5h-3.5zM419 181h3.5v3.5h-3.5zM422 181h3.5v3.5h-3.5zM425 181h3.5v3.5h-3.5zM428 181h3.5v3.5h-3.5zM431 181h3.5v3.5h-3.5zM434 181h3.5v3.5h-3.5zM437 181h3.5v3.5h-3.5zM440 181h3.5v3.5h-3.5zM443 181h3.5v3.5h-3.5zM509 181h3.5v3.5h-3.5zM512 181h3.5v3.5h-3.5zM515 181h3.5v3.5h-3.5zM518 181h3.5v3.5h-3.5zM521 181h3.5v3.5h-3.5zM524 181h3.5v3.5h-3.5zM527 181h3.5v3.5h-3.5zM530 181h3.5v3.5h-3.5zM533 181h3.5v3.5h-3.5zM536 181h3.5v3.5h-3.5zM539 181h3.5v3.5h-3.5zM542 181h3.5v3.5h-3.5zM545 181h3.5v3.5h-3.5zM548 181h3.5v3.5h-3.5zM551 181h3.5v3.5h-3.5zM554 181h3.5v3.5h-3.5zM557 181h3.5v3.5h-3.5zM560 181h3.5v3.5h-3.5zM563 181h3.5v3.5h-3.5zM566 181h3.5v3.5h-3.5zM569 181h3.5v3.5h-3.5zM572 181h3.5v3.5h-3.5zM575 181h3.5v3.5h-3.5zM380 184h3.5v3.5h-3.5zM383 184h3.5v3.5h-3.5zM386 184h3.5v3.5h-3.5zM389 184h3.5v3.5h-3.5zM392 184h3.5v3.5h-3.5zM395 184h3.5v3.5h-3.5zM398 184h3.5v3.5h-3.5zM401 184h3.5v3.5h-3.5zM404 184h3.5v3.5h-3.5zM407 184h3.5v3.5h-3.5zM410 184h3.5v3.5h-3.5zM413 184h3.5v3.5h-3.5zM416 184h3.5v3.5h-3.5zM419 184h3.5v3.5h-3.5zM422 184h3.5v3.5h-3.5zM425 184h3.5v3.5h-3.5zM428 184h3.5v3.5h-3.5zM431 184h3.5v3.5h-3.5zM434 184h3.5v3.5h-3.5zM437 184h3.5v3.5h-3.5zM440 184h3.5v3.5h-3.5zM512 184h3.5v3.5h-3.5zM515 184h3.5v3.5h-3.5zM518 184h3.5v3.5h-3.5zM521 184h3.5v3.5h-3.5zM524 184h3.5v3.5h-3.5zM527 184h3.5v3.5h-3.5zM530 184h3.5v3.5h-3.5zM533 184h3.5v3.5h-3.5zM536 184h3.5v3.5h-3.5zM539 184h3.5v3.5h-3.5zM542 184h3.5v3.5h-3.5zM545 184h3.5v3.5h-3.5zM548 184h3.5v3.5h-3.5zM551 184h3.5v3.5h-3.5zM554 184h3.5v3.5h-3.5zM557 184h3.5v3.5h-3.5zM560 184h3.5v3.5h-3.5zM563 184h3.5v3.5h-3.5zM566 184h3.5v3.5h-3.5zM569 184h3.5v3.5h-3.5zM572 184h3.5v3.5h-3.5zM575 184h3.5v3.5h-3.5zM380 187h3.5v3.5h-3.5zM383 187h3.5v3.5h-3.5zM386 187h3.5v3.5h-3.5zM389 187h3.5v3.5h-3.5zM392 187h3.5v3.5h-3.5zM395 187h3.5v3.5h-3.5zM398 187h3.5v3.5h-3.5zM401 187h3.5v3.5h-3.5zM404 187h3.5v3.5h-3.5zM407 187h3.5v3.5h-3.5zM410 187h3.5v3.5h-3.5zM413 187h3.5v3.5h-3.5zM416 187h3.5v3.5h-3.5zM419 187h3.5v3.5h-3.5zM422 187h3.5v3.5h-3.5zM425 187h3.5v3.5h-3.5zM428 187h3.5v3.5h-3.5zM431 187h3.5v3.5h-3.5zM434 187h3.5v3.5h-3.5zM437 187h3.5v3.5h-3.5zM440 187h3.5v3.5h-3.5zM515 187h3.5v3.5h-3.5zM518 187h3.5v3.5h-3.5zM521 187h3.5v3.5h-3.5zM524 187h3.5v3.5h-3.5zM527 187h3.5v3.5h-3.5zM530 187h3.5v3.5h-3.5zM533 187h3.5v3.5h-3.5zM536 187h3.5v3.5h-3.5zM539 187h3.5v3.5h-3.5zM542 187h3.5v3.5h-3.5zM545 187h3.5v3.5h-3.5zM548 187h3.5v3.5h-3.5zM551 187h3.5v3.5h-3.5zM554 187h3.5v3.5h-3.5zM557 187h3.5v3.5h-3.5zM560 187h3.5v3.5h-3.5zM563 187h3.5v3.5h-3.5zM566 187h3.5v3.5h-3.5zM569 187h3.5v3.5h-3.5zM572 187h3.5v3.5h-3.5zM575 187h3.5v3.5h-3.5zM380 190h3.5v3.5h-3.5zM383 190h3.5v3.5h-3.5zM386 190h3.5v3.5h-3.5zM389 190h3.5v3.5h-3.5zM392 190h3.5v3.5h-3.5zM395 190h3.5v3.5h-3.5zM398 190h3.5v3.5h-3.5zM401 190h3.5v3.5h-3.5zM404 190h3.5v3.5h-3.5zM407 190h3.5v3.5h-3.5zM410 190h3.5v3.5h-3.5zM413 190h3.5v3.5h-3.5zM416 190h3.5v3.5h-3.5zM419 190h3.5v3.5h-3.5zM422 190h3.5v3.5h-3.5zM425 190h3.5v3.5h-3.5zM428 190h3.5v3.5h-3.5zM431 190h3.5v3.5h-3.5zM434 190h3.5v3.5h-3.5zM437 190h3.5v3.5h-3.5zM515 190h3.5v3.5h-3.5zM518 190h3.5v3.5h-3.5zM521 190h3.5v3.5h-3.5zM524 190h3.5v3.5h-3.5zM527 190h3.5v3.5h-3.5zM530 190h3.5v3.5h-3.5zM533 190h3.5v3.5h-3.5zM536 190h3.5v3.5h-3.5zM539 190h3.5v3.5h-3.5zM542 190h3.5v3.5h-3.5zM545 190h3.5v3.5h-3.5zM548 190h3.5v3.5h-3.5zM551 190h3.5v3.5h-3.5zM554 190h3.5v3.5h-3.5zM557 190h3.5v3.5h-3.5zM560 190h3.5v3.5h-3.5zM563 190h3.5v3.5h-3.5zM566 190h3.5v3.5h-3.5zM569 190h3.5v3.5h-3.5zM572 190h3.5v3.5h-3.5zM575 190h3.5v3.5h-3.5zM380 193h3.5v3.5h-3.5zM383 193h3.5v3.5h-3.5zM386 193h3.5v3.5h-3.5zM389 193h3.5v3.5h-3.5zM392 193h3.5v3.5h-3.5zM395 193h3.5v3.5h-3.5zM398 193h3.5v3.5h-3.5zM401 193h3.5v3.5h-3.5zM404 193h3.5v3.5h-3.5zM407 193h3.5v3.5h-3.5zM410 193h3.5v3.5h-3.5zM413 193h3.5v3.5h-3.5zM416 193h3.5v3.5h-3.5zM419 193h3.5v3.5h-3.5zM422 193h3.5v3.5h-3.5zM425 193h3.5v3.5h-3.5zM428 193h3.5v3.5h-3.5zM431 193h3.5v3.5h-3.5zM434 193h3.5v3.5h-3.5zM437 193h3.5v3.5h-3.5zM515 193h3.5v3.5h-3.5zM518 193h3.5v3.5h-3.5zM521 193h3.5v3.5h-3.5zM524 193h3.5v3.5h-3.5zM527 193h3.5v3.5h-3.5zM530 193h3.5v3.5h-3.5zM533 193h3.5v3.5h-3.5zM536 193h3.5v3.5h-3.5zM539 193h3.5v3.5h-3.5zM542 193h3.5v3.5h-3.5zM545 193h3.5v3.5h-3.5zM548 193h3.5v3.5h-3.5zM551 193h3.5v3.5h-3.5zM554 193h3.5v3.5h-3.5zM557 193h3.5v3.5h-3.5zM560 193h3.5v3.5h-3.5zM563 193h3.5v3.5h-3.5zM566 193h3.5v3.5h-3.5zM569 193h3.5v3.5h-3.5zM572 193h3.5v3.5h-3.5zM575 193h3.5v3.5h-3.5zM380 196h3.5v3.5h-3.5zM383 196h3.5v3.5h-3.5zM386 196h3.5v3.5h-3.5zM389 196h3.5v3.5h-3.5zM392 196h3.5v3.5h-3.5zM395 196h3.5v3.5h-3.5zM398 196h3.5v3.5h-3.5zM401 196h3.5v3.5h-3.5zM404 196h3.5v3.5h-3.5zM407 196h3.5v3.5h-3.5zM410 196h3.5v3.5h-3.5zM413 196h3.5v3.5h-3.5zM416 196h3.5v3.5h-3.5zM419 196h3.5v3.5h-3.5zM422 196h3.5v3.5h-3.5zM425 196h3.5v3.5h-3.5zM428 196h3.5v3.5h-3.5zM431 196h3.5v3.5h-3.5zM434 196h3.5v3.5h-3.5zM437 196h3.5v3.5h-3.5zM440 196h3.5v3.5h-3.5zM515 196h3.5v3.5h-3.5zM518 196h3.5v3.5h-3.5zM521 196h3.5v3.5h-3.5zM524 196h3.5v3.5h-3.5zM527 196h3.5v3.5h-3.5zM530 196h3.5v3.5h-3.5zM533 196h3.5v3.5h-3.5zM536 196h3.5v3.5h-3.5zM539 196h3.5v3.5h-3.5zM542 196h3.5v3.5h-3.5zM545 196h3.5v3.5h-3.5zM548 196h3.5v3.5h-3.5zM551 196h3.5v3.5h-3.5zM554 196h3.5v3.5h-3.5zM557 196h3.5v3.5h-3.5zM560 196h3.5v3.5h-3.5zM563 196h3.5v3.5h-3.5zM566 196h3.5v3.5h-3.5zM569 196h3.5v3.5h-3.5zM572 196h3.5v3.5h-3.5zM575 196h3.5v3.5h-3.5zM380 199h3.5v3.5h-3.5zM383 199h3.5v3.5h-3.5zM386 199h3.5v3.5h-3.5zM389 199h3.5v3.5h-3.5zM392 199h3.5v3.5h-3.5zM395 199h3.5v3.5h-3.5zM398 199h3.5v3.5h-3.5zM401 199h3.5v3.5h-3.5zM404 199h3.5v3.5h-3.5zM407 199h3.5v3.5h-3.5zM410 199h3.5v3.5h-3.5zM413 199h3.5v3.5h-3.5zM416 199h3.5v3.5h-3.5zM419 199h3.5v3.5h-3.5zM422 199h3.5v3.5h-3.5zM425 199h3.5v3.5h-3.5zM428 199h3.5v3.5h-3.5zM431 199h3.5v3.5h-3.5zM434 199h3.5v3.5h-3.5zM437 199h3.5v3.5h-3.5zM440 199h3.5v3.5h-3.5zM512 199h3.5v3.5h-3.5zM515 199h3.5v3.5h-3.5zM518 199h3.5v3.5h-3.5zM521 199h3.5v3.5h-3.5zM524 199h3.5v3.5h-3.5zM527 199h3.5v3.5h-3.5zM530 199h3.5v3.5h-3.5zM533 199h3.5v3.5h-3.5zM536 199h3.5v3.5h-3.5zM539 199h3.5v3.5h-3.5zM542 199h3.5v3.5h-3.5zM545 199h3.5v3.5h-3.5zM548 199h3.5v3.5h-3.5zM551 199h3.5v3.5h-3.5zM554 199h3.5v3.5h-3.5zM557 199h3.5v3.5h-3.5zM560 199h3.5v3.5h-3.5zM563 199h3.5v3.5h-3.5zM566 199h3.5v3.5h-3.5zM569 199h3.5v3.5h-3.5zM572 199h3.5v3.5h-3.5zM575 199h3.5v3.5h-3.5zM380 202h3.5v3.5h-3.5zM383 202h3.5v3.5h-3.5zM386 202h3.5v3.5h-3.5zM389 202h3.5v3.5h-3.5zM392 202h3.5v3.5h-3.5zM395 202h3.5v3.5h-3.5zM398 202h3.5v3.5h-3.5zM401 202h3.5v3.5h-3.5zM404 202h3.5v3.5h-3.5zM407 202h3.5v3.5h-3.5zM410 202h3.5v3.5h-3.5zM413 202h3.5v3.5h-3.5zM416 202h3.5v3.5h-3.5zM419 202h3.5v3.5h-3.5zM422 202h3.5v3.5h-3.5zM425 202h3.5v3.5h-3.5zM428 202h3.5v3.5h-3.5zM431 202h3.5v3.5h-3.5zM434 202h3.5v3.5h-3.5zM437 202h3.5v3.5h-3.5zM440 202h3.5v3.5h-3.5zM512 202h3.5v3.5h-3.5zM515 202h3.5v3.5h-3.5zM518 202h3.5v3.5h-3.5zM521 202h3.5v3.5h-3.5zM524 202h3.5v3.5h-3.5zM527 202h3.5v3.5h-3.5zM530 202h3.5v3.5h-3.5zM533 202h3.5v3.5h-3.5zM536 202h3.5v3.5h-3.5zM539 202h3.5v3.5h-3.5zM542 202h3.5v3.5h-3.5zM545 202h3.5v3.5h-3.5zM548 202h3.5v3.5h-3.5zM551 202h3.5v3.5h-3.5zM554 202h3.5v3.5h-3.5zM557 202h3.5v3.5h-3.5zM560 202h3.5v3.5h-3.5zM563 202h3.5v3.5h-3.5zM566 202h3.5v3.5h-3.5zM569 202h3.5v3.5h-3.5zM572 202h3.5v3.5h-3.5zM575 202h3.5v3.5h-3.5zM380 205h3.5v3.5h-3.5zM383 205h3.5v3.5h-3.5zM386 205h3.5v3.5h-3.5zM389 205h3.5v3.5h-3.5zM392 205h3.5v3.5h-3.5zM395 205h3.5v3.5h-3.5zM398 205h3.5v3.5h-3.5zM401 205h3.5v3.5h-3.5zM404 205h3.5v3.5h-3.5zM407 205h3.5v3.5h-3.5zM410 205h3.5v3.5h-3.5zM413 205h3.5v3.5h-3.5zM416 205h3.5v3.5h-3.5zM419 205h3.5v3.5h-3.5zM422 205h3.5v3.5h-3.5zM425 205h3.5v3.5h-3.5zM428 205h3.5v3.5h-3.5zM431 205h3.5v3.5h-3.5zM434 205h3.5v3.5h-3.5zM437 205h3.5v3.5h-3.5zM440 205h3.5v3.5h-3.5zM443 205h3.5v3.5h-3.5zM509 205h3.5v3.5h-3.5zM512 205h3.5v3.5h-3.5zM515 205h3.5v3.5h-3.5zM518 205h3.5v3.5h-3.5zM521 205h3.5v3.5h-3.5zM524 205h3.5v3.5h-3.5zM527 205h3.5v3.5h-3.5zM530 205h3.5v3.5h-3.5zM533 205h3.5v3.5h-3.5zM536 205h3.5v3.5h-3.5zM539 205h3.5v3.5h-3.5zM542 205h3.5v3.5h-3.5zM545 205h3.5v3.5h-3.5zM548 205h3.5v3.5h-3.5zM551 205h3.5v3.5h-3.5zM554 205h3.5v3.5h-3.5zM557 205h3.5v3.5h-3.5zM560 205h3.5v3.5h-3.5zM563 205h3.5v3.5h-3.5zM566 205h3.5v3.5h-3.5zM569 205h3.5v3.5h-3.5zM572 205h3.5v3.5h-3.5zM575 205h3.5v3.5h-3.5z"/>
<path fill="#57c87d" d="M458 43h3.5v3.5h-3.5zM461 43h3.5v3.5h-3.5zM464 43h3.5v3.5h-3.5zM467 43h3.5v3.5h-3.5zM470 43h3.5v3.5h-3.5zM473 43h3.5v3.5h-3.5zM476 43h3.5v3.5h-3.5zM479 43h3.5v3.5h-3.5zM482 43h3.5v3.5h-3.5zM485 43h3.5v3.5h-3.5zM488 43h3.5v3.5h-3.5zM491 43h3.5v3.5h-3.5zM494 43h3.5v3.5h-3.5zM497 43h3.5v3.5h-3.5zM449 46h3.5v3.5h-3.5zM452 46h3.5v3.5h-3.5zM455 46h3.5v3.5h-3.5zM458 46h3.5v3.5h-3.5zM461 46h3.5v3.5h-3.5zM494 46h3.5v3.5h-3.5zM497 46h3.5v3.5h-3.5zM500 46h3.5v3.5h-3.5zM503 46h3.5v3.5h-3.5zM506 46h3.5v3.5h-3.5zM443 49h3.5v3.5h-3.5zM446 49h3.5v3.5h-3.5zM449 49h3.5v3.5h-3.5zM452 49h3.5v3.5h-3.5zM506 49h3.5v3.5h-3.5zM509 49h3.5v3.5h-3.5zM512 49h3.5v3.5h-3.5zM440 52h3.5v3.5h-3.5zM443 52h3.5v3.5h-3.5zM512 52h3.5v3.5h-3.5zM515 52h3.5v3.5h-3.5zM518 52h3.5v3.5h-3.5zM434 55h3.5v3.5h-3.5zM437 55h3.5v3.5h-3.5zM440 55h3.5v3.5h-3.5zM518 55h3.5v3.5h-3.5zM521 55h3.5v3.5h-3.5zM431 58h3.5v3.5h-3.5zM434 58h3.5v3.5h-3.5zM521 58h3.5v3.5h-3.5zM524 58h3.5v3.5h-3.5zM428 61h3.5v3.5h-3.5zM431 61h3.5v3.5h-3.5zM524 61h3.5v3.5h-3.5zM527 61h3.5v3.5h-3.5zM425 64h3.5v3.5h-3.5zM428 64h3.5v3.5h-3.5zM530 64h3.5v3.5h-3.5zM422 67h3.5v3.5h-3.5zM425 67h3.5v3.5h-3.5zM530 67h3.5v3.5h-3.5zM533 67h3.5v3.5h-3.5zM419 70h3.5v3.5h-3.5zM422 70h3.5v3.5h-3.5zM533 70h3.5v3.5h-3.5zM536 70h3.5v3.5h-3.5zM419 73h3.5v3.5h-3.5zM536 73h3.5v3.5h-3.5zM539 73h3.5v3.5h-3.5zM416 76h3.5v3.5h-3.5zM419 76h3.5v3.5h-3.5zM539 76h3.5v3.5h-3.5zM416 79h3.5v3.5h-3.5zM539 79h3.5v3.5h-3.5zM542 79h3.5v3.5h-3.5zM413 82h3.5v3.5h-3.5zM416 82h3.5v3.5h-3.5zM476 82h3.5v3.5h-3.5zM479 82h3.5v3.5h-3.5zM542 82h3.5v3.5h-3.5zM413 85h3.5v3.5h-3.5zM488 85h3.5v3.5h-3.5zM542 85h3.5v3.5h-3.5zM545 85h3.5v3.5h-3.5zM413 88h3.5v3.5h-3.5zM461 88h3.5v3.5h-3.5zM545 88h3.5v3.5h-3.5zM410 91h3.5v3.5h-3.5zM413 91h3.5v3.5h-3.5zM458 91h3.5v3.5h-3.5zM545 91h3.5v3.5h-3.5zM410 94h3.5v3.5h-3.5zM455 94h3.5v3.5h-3.5zM545 94h3.5v3.5h-3.5zM548 94h3.5v3.5h-3.5zM410 97h3.5v3.5h-3.5zM500 97h3.5v3.5h-3.5zM548 97h3.5v3.5h-3.5zM410 100h3.5v3.5h-3.5zM548 100h3.5v3.5h-3.5zM410 103h3.5v3.5h-3.5zM452 103h3.5v3.5h-3.5zM548 103h3.5v3.5h-3.5zM410 106h3.5v3.5h-3.5zM452 106h3.5v3.5h-3.5zM548 106h3.5v3.5h-3.5zM410 109h3.5v3.5h-3.5zM452 109h3.5v3.5h-3.5zM548 109h3.5v3.5h-3.5zM410 112h3.5v3.5h-3.5zM548 112h3.5v3.5h-3.5zM410 115h3.5v3.5h-3.5zM548 115h3.5v3.5h-3.5zM410 118h3.5v3.5h-3.5zM548 118h3.5v3.5h-3.5zM410 121h3.5v3.5h-3.5zM458 121h3.5v3.5h-3.5zM548 121h3.5v3.5h-3.5zM410 124h3.5v3.5h-3.5zM413 124h3.5v3.5h-3.5zM545 124h3.5v3.5h-3.5zM548 124h3.5v3.5h-3.5zM413 127h3.5v3.5h-3.5zM467 127h3.5v3.5h-3.5zM545 127h3.5v3.5h-3.5zM413 130h3.5v3.5h-3.5zM545 130h3.5v3.5h-3.5zM413 133h3.5v3.5h-3.5zM416 133h3.5v3.5h-3.5zM542 133h3.5v3.5h-3.5zM545 133h3.5v3.5h-3.5zM416 136h3.5v3.5h-3.5zM542 136h3.5v3.5h-3.5zM416 139h3.5v3.5h-3.5zM419 139h3.5v3.5h-3.5zM539 139h3.5v3.5h-3.5zM542 139h3.5v3.5h-3.5zM419 142h3.5v3.5h-3.5zM539 142h3.5v3.5h-3.5zM419 145h3.5v3.5h-3.5zM422 145h3.5v3.5h-3.5zM536 145h3.5v3.5h-3.5zM422 148h3.5v3.5h-3.5zM425 148h3.5v3.5h-3.5zM533 148h3.5v3.5h-3.5zM536 148h3.5v3.5h-3.5zM425 151h3.5v3.5h-3.5zM428 151h3.5v3.5h-3.5zM530 151h3.5v3.5h-3.5zM533 151h3.5v3.5h-3.5zM428 154h3.5v3.5h-3.5zM431 154h3.5v3.5h-3.5zM527 154h3.5v3.5h-3.5zM530 154h3.5v3.5h-3.5zM431 157h3.5v3.5h-3.5zM434 157h3.5v3.5h-3.5zM524 157h3.5v3.5h-3.5zM527 157h3.5v3.5h-3.5zM434 160h3.5v3.5h-3.5zM437 160h3.5v3.5h-3.5zM521 160h3.5v3.5h-3.5zM524 160h3.5v3.5h-3.5zM440 163h3.5v3.5h-3.5zM443 163h3.5v3.5h-3.5zM515 163h3.5v3.5h-3.5zM518 163h3.5v3.5h-3.5zM443 166h3.5v3.5h-3.5zM446 166h3.5v3.5h-3.5zM449 166h3.5v3.5h-3.5zM509 166h3.5v3.5h-3.5zM512 166h3.5v3.5h-3.5zM515 166h3.5v3.5h-3.5zM452 169h3.5v3.5h-3.5zM455 169h3.5v3.5h-3.5zM458 169h3.5v3.5h-3.5zM461 169h3.5v3.5h-3.5zM500 169h3.5v3.5h-3.5zM503 169h3.5v3.5h-3.5zM506 169h3.5v3.5h-3.5zM509 169h3.5v3.5h-3.5zM464 172h3.5v3.5h-3.5zM467 172h3.5v3.5h-3.5zM470 172h3.5v3.5h-3.5zM473 172h3.5v3.5h-3.5zM476 172h3.5v3.5h-3.5zM479 172h3.5v3.5h-3.5zM482 172h3.5v3.5h-3.5zM485 172h3.5v3.5h-3.5zM488 172h3.5v3.5h-3.5zM491 172h3.5v3.5h-3.5zM494 172h3.5v3.5h-3.5zM497 172h3.5v3.5h-3.5z"/>
<path fill="#64c872" d="M464 46h3.5v3.5h-3.5zM467 46h3.5v3.5h-3.5zM470 46h3.5v3.5h-3.5zM473 46h3.5v3.5h-3.5zM476 46h3.5v3.5h-3.5zM479 46h3.5v3.5h-3.5zM482 46h3.5v3.5h-3.5zM485 46h3.5v3.5h-3.5zM488 46h3.5v3.5h-3.5zM491 46h3.5v3.5h-3.5zM455 49h3.5v3.5h-3.5zM458 49h3.5v3.5h-3.5zM461 49h3.5v3.5h-3.5zM497 49h3.5v3.5h-3.5zM500 49h3.5v3.5h-3.5zM503 49h3.5v3.5h-3.5zM446 52h3.5v3.5h-3.5zM449 52h3.5v3.5h-3.5zM452 52h3.5v3.5h-3.5zM506 52h3.5v3.5h-3.5zM509 52h3.5v3.5h-3.5zM443 55h3.5v3.5h-3.5zM512 55h3.5v3.5h-3.5zM515 55h3.5v3.5h-3.5zM437 58h3.5v3.5h-3.5zM440 58h3.5v3.5h-3.5zM518 58h3.5v3.5h-3.5zM434 61h3.5v3.5h-3.5zM521 61h3.5v3.5h-3.5zM431 64h3.5v3.5h-3.5zM524 64h3.5v3.5h-3.5zM527 64h3.5v3.5h-3.5zM428 67h3.5v3.5h-3.5zM527 67h3.5v3.5h-3.5zM425 70h3.5v3.5h-3.5zM530 70h3.5v3.5h-3.5zM422 73h3.5v3.5h-3.5zM425 73h3.5v3.5h-3.5zM533 73h3.5v3.5h-3.5zM422 76h3.5v3.5h-3.5zM536 76h3.5v3.5h-3.5zM419 79h3.5v3.5h-3.5zM536 79h3.5v3.5h-3.5zM419 82h3.5v3.5h-3.5zM473 82h3.5v3.5h-3.5zM482 82h3.5v3.5h-3.5zM539 82h3.5v3.5h-3.5zM416 85h3.5v3.5h-3.5zM464 85h3.5v3.5h-3.5zM491 85h3.5v3.5h-3.5zM539 85h3.5v3.5h-3.5zM416 88h3.5v3.5h-3.5zM494 88h3.5v3.5h-3.5zM542 88h3.5v3.5h-3.5zM416 91h3.5v3.5h-3.5zM497 91h3.5v3.5h-3.5zM542 91h3.5v3.5h-3.5zM413 94h3.5v3.5h-3.5zM413 97h3.5v3.5h-3.5zM545 97h3.5v3.5h-3.5zM413 100h3.5v3.5h-3.5zM452 100h3.5v3.5h-3.5zM545 100h3.5v3.5h-3.5zM413 103h3.5v3.5h-3.5zM545 103h3.5v3.5h-3.5zM413 106h3.5v3.5h-3.5zM545 106h3.5v3.5h-3.5zM413 109h3.5v3.5h-3.5zM545 109h3.5v3.5h-3.5zM413 112h3.5v3.5h-3.5zM452 112h3.5v3.5h-3.5zM545 112h3.5v3.5h-3.5zM413 115h3.5v3.5h-3.5zM500 115h3.5v3.5h-3.5zM545 115h3.5v3.5h-3.5zM413 118h3.5v3.5h-3.5zM455 118h3.5v3.5h-3.5zM545 118h3.5v3.5h-3.5zM413 121h3.5v3.5h-3.5zM545 121h3.5v3.5h-3.5zM416 124h3.5v3.5h-3.5zM461 124h3.5v3.5h-3.5zM542 124h3.5v3.5h-3.5zM416 127h3.5v3.5h-3.5zM542 127h3.5v3.5h-3.5zM416 130h3.5v3.5h-3.5zM542 130h3.5v3.5h-3.5zM419 133h3.5v3.5h-3.5zM539 133h3.5v3.5h-3.5zM419 136h3.5v3.5h-3.5zM539 136h3.5v3.5h-3.5zM422 139h3.5v3.5h-3.5zM536 139h3.5v3.5h-3.5zM422 142h3.5v3.5h-3.5zM536 142h3.5v3.5h-3.5zM425 145h3.5v3.5h-3.5zM533 145h3.5v3.5h-3.5zM428 148h3.5v3.5h-3.5zM530 148h3.5v3.5h-3.5zM431 151h3.5v3.5h-3.5zM527 151h3.5v3.5h-3.5zM434 154h3.5v3.5h-3.5zM524 154h3.5v3.5h-3.5zM437 157h3.5v3.5h-3.5zM521 157h3.5v3.5h-3.5zM440 160h3.5v3.5h-3.5zM443 160h3.5v3.5h-3.5zM515 160h3.5v3.5h-3.5zM518 160h3.5v3.5h-3.5zM446 163h3.5v3.5h-3.5zM449 163h3.5v3.5h-3.5zM509 163h3.5v3.5h-3.5zM512 163h3.5v3.5h-3.5zM452 166h3.5v3.5h-3.5zM455 166h3.5v3.5h-3.5zM503 166h3.5v3.5h-3.5zM506 166h3.5v3.5h-3.5zM464 169h3.5v3.5h-3.5zM467 169h3.5v3.5h-3.5zM470 169h3.5v3.5h-3.5zM473 169h3.5v3.5h-3.5zM476 169h3.5v3.5h-3.5zM479 169h3.5v3.5h-3.5zM482 169h3.5v3.5h-3.5zM485 169h3.5v3.5h-3.5zM488 169h3.5v3.5h-3.5zM491 169h3.5v3.5h-3.5zM494 169h3.5v3.5h-3.5zM497 169h3.5v3.5h-3.5z"/>
<path fill="#71c868" d="M464 49h3.5v3.5h-3.5zM467 49h3.5v3.5h-3.5zM470 49h3.5v3.5h-3.5zM473 49h3.5v3.5h-3.5zM476 49h3.5v3.5h-3.5zM479 49h3.5v3.5h-3.5zM482 49h3.5v3.5h-3.5zM485 49h3.5v3.5h-3.5zM488 49h3.5v3.5h-3.5zM491 49h3.5v3.5h-3.5zM494 49h3.5v3.5h-3.5zM455 52h3.5v3.5h-3.5zM458 52h3.5v3.5h-3.5zM500 52h3.5v3.5h-3.5zM503 52h3.5v3.5h-3.5zM446 55h3.5v3.5h-3.5zM449 55h3.5v3.5h-3.5zM506 55h3.5v3.5h-3.5zM509 55h3.5v3.5h-3.5zM443 58h3.5v3.5h-3.5zM512 58h3.5v3.5h-3.5zM515 58h3.5v3.5h-3.5zM437 61h3.5v3.5h-3.5zM440 61h3.5v3.5h-3.5zM518 61h3.5v3.5h-3.5zM434 64h3.5v3.5h-3.5zM521 64h3.5v3.5h-3.5zM431 67h3.5v3.5h-3.5zM524 67h3.5v3.5h-3.5zM428 70h3.5v3.5h-3.5zM527 70h3.5v3.5h-3.5zM530 73h3.5v3.5h-3.5zM425 76h3.5v3.5h-3.5zM533 76h3.5v3.5h-3.5zM422 79h3.5v3.5h-3.5zM422 82h3.5v3.5h-3.5zM470 82h3.5v3.5h-3.5zM485 82h3.5v3.5h-3.5zM536 82h3.5v3.5h-3.5zM419 85h3.5v3.5h-3.5zM419 88h3.5v3.5h-3.5zM458 88h3.5v3.5h-3.5zM539 88h3.5v3.5h-3.5zM416 94h3.5v3.5h-3.5zM500 94h3.5v3.5h-3.5zM542 94h3.5v3.5h-3.5zM416 97h3.5v3.5h-3.5zM452 97h3.5v3.5h-3.5zM542 97h3.5v3.5h-3.5zM416 100h3.5v3.5h-3.5zM542 100h3.5v3.5h-3.5zM416 103h3.5v3.5h-3.5zM542 103h3.5v3.5h-3.5zM416 106h3.5v3.5h-3.5zM416 109h3.5v3.5h-3.5zM416 112h3.5v3.5h-3.5zM416 115h3.5v3.5h-3.5zM542 115h3.5v3.5h-3.5zM416 118h3.5v3.5h-3.5zM542 118h3.5v3.5h-3.5zM416 121h3.5v3.5h-3.5zM542 121h3.5v3.5h-3.5zM419 127h3.5v3.5h-3.5zM464 127h3.5v3.5h-3.5zM488 127h3.5v3.5h-3.5zM419 130h3.5v3.5h-3.5zM539 130h3.5v3.5h-3.5zM422 136h3.5v3.5h-3.5zM536 136h3.5v3.5h-3.5zM425 139h3.5v3.5h-3.5zM425 142h3.5v3.5h-3.5zM533 142h3.5v3.5h-3.5zM428 145h3.5v3.5h-3.5zM530 145h3.5v3.5h-3.5zM431 148h3.5v3.5h-3.5zM527 148h3.5v3.5h-3.5zM434 151h3.5v3.5h-3.5zM524 151h3.5v3.5h-3.5zM437 154h3.5v3.5h-3.5zM521 154h3.5v3.5h-3.5zM440 157h3.5v3.5h-3.5zM518 157h3.5v3.5h-3.5zM446 160h3.5v3.5h-3.5zM512 160h3.5v3.5h-3.5zM452 163h3.5v3.5h-3.5zM506 163h3.5v3.5h-3.5zM458 166h3.5v3.5h-3.5zM461 166h3.5v3.5h-3.5zM464 166h3.5v3.5h-3.5zM497 166h3.5v3.5h-3.5zM500 166h3.5v3.5h-3.5z"/>
<path fill="#7ec75e" d="M461 52h3.5v3.5h-3.5zM464 52h3.5v3.5h-3.5zM491 52h3.5v3.5h-3.5zM494 52h3.5v3.5h-3.5zM497 52h3.5v3.5h-3.5zM452 55h3.5v3.5h-3.5zM503 55h3.5v3.5h-3.5zM446 58h3.5v3.5h-3.5zM509 58h3.5v3.5h-3.5zM443 61h3.5v3.5h-3.5zM515 61h3.5v3.5h-3.5zM437 64h3.5v3.5h-3.5zM518 64h3.5v3.5h-3.5zM434 67h3.5v3.5h-3.5zM431 70h3.5v3.5h-3.5zM428 73h3.5v3.5h-3.5zM530 76h3.5v3.5h-3.5zM425 79h3.5v3.5h-3.5zM533 79h3.5v3.5h-3.5zM467 82h3.5v3.5h-3.5zM488 82h3.5v3.5h-3.5zM422 85h3.5v3.5h-3.5zM461 85h3.5v3.5h-3.5zM536 85h3.5v3.5h-3.5zM419 91h3.5v3.5h-3.5zM455 91h3.5v3.5h-3.5zM539 91h3.5v3.5h-3.5zM419 94h3.5v3.5h-3.5zM539 94h3.5v3.5h-3.5zM419 97h3.5v3.5h-3.5zM503 100h3.5v3.5h-3.5zM503 103h3.5v3.5h-3.5zM503 106h3.5v3.5h-3.5zM542 106h3.5v3.5h-3.5zM503 109h3.5v3.5h-3.5zM542 109h3.5v3.5h-3.5zM542 112h3.5v3.5h-3.5zM452 115h3.5v3.5h-3.5zM419 121h3.5v3.5h-3.5zM497 121h3.5v3.5h-3.5zM419 124h3.5v3.5h-3.5zM494 124h3.5v3.5h-3.5zM539 124h3.5v3.5h-3.5zM539 127h3.5v3.5h-3.5zM422 130h3.5v3.5h-3.5zM473 130h3.5v3.5h-3.5zM476 130h3.5v3.5h-3.5zM479 130h3.5v3.5h-3.5zM422 133h3.5v3.5h-3.5zM536 133h3.5v3.5h-3.5zM425 136h3.5v3.5h-3.5zM533 139h3.5v3.5h-3.5zM428 142h3.5v3.5h-3.5zM530 142h3.5v3.5h-3.5zM431 145h3.5v3.5h-3.5zM434 148h3.5v3.5h-3.5zM437 151h3.5v3.5h-3.5zM440 154h3.5v3.5h-3.5zM518 154h3.5v3.5h-3.5zM443 157h3.5v3.5h-3.5zM515 157h3.5v3.5h-3.5zM449 160h3.5v3.5h-3.5zM509 160h3.5v3.5h-3.5zM455 163h3.5v3.5h-3.5zM458 163h3.5v3.5h-3.5zM503 163h3.5v3.5h-3.5zM467 166h3.5v3.5h-3.5zM470 166h3.5v3.5h-3.5zM488 166h3.5v3.5h-3.5zM491 166h3.5v3.5h-3.5zM494 166h3.5v3.5h-3.5z"/>
<path fill="#8bc753" d="M467 52h3.5v3.5h-3.5zM470 52h3.5v3.5h-3.5zM473 52h3.5v3.5h-3.5zM476 52h3.5v3.5h-3.5zM479 52h3.5v3.5h-3.5zM482 52h3.5v3.5h-3.5zM485 52h3.5v3.5h-3.5zM488 52h3.5v3.5h-3.5zM455 55h3.5v3.5h-3.5zM458 55h3.5v3.5h-3.5zM497 55h3.5v3.5h-3.5zM500 55h3.5v3.5h-3.5zM449 58h3.5v3.5h-3.5zM506 58h3.5v3.5h-3.5zM446 61h3.5v3.5h-3.5zM512 61h3.5v3.5h-3.5zM440 64h3.5v3.5h-3.5zM437 67h3.5v3.5h-3.5zM521 67h3.5v3.5h-3.5zM434 70h3.5v3.5h-3.5zM524 70h3.5v3.5h-3.5zM431 73h3.5v3.5h-3.5zM527 73h3.5v3.5h-3.5zM428 76h3.5v3.5h-3.5zM530 79h3.5v3.5h-3.5zM425 82h3.5v3.5h-3.5zM533 82h3.5v3.5h-3.5zM494 85h3.5v3.5h-3.5zM422 88h3.5v3.5h-3.5zM497 88h3.5v3.5h-3.5zM536 88h3.5v3.5h-3.5zM422 91h3.5v3.5h-3.5zM452 94h3.5v3.5h-3.5zM539 97h3.5v3.5h-3.5zM419 100h3.5v3.5h-3.5zM539 100h3.5v3.5h-3.5zM419 103h3.5v3.5h-3.5zM449 103h3.5v3.5h-3.5zM539 103h3.5v3.5h-3.5zM419 106h3.5v3.5h-3.5zM449 106h3.5v3.5h-3.5zM419 109h3.5v3.5h-3.5zM419 112h3.5v3.5h-3.5zM419 115h3.5v3.5h-3.5zM539 115h3.5v3.5h-3.5zM419 118h3.5v3.5h-3.5zM500 118h3.5v3.5h-3.5zM539 118h3.5v3.5h-3.5zM455 121h3.5v3.5h-3.5zM539 121h3.5v3.5h-3.5zM458 124h3.5v3.5h-3.5zM422 127h3.5v3.5h-3.5zM470 130h3.5v3.5h-3.5zM482 130h3.5v3.5h-3.5zM536 130h3.5v3.5h-3.5zM425 133h3.5v3.5h-3.5zM533 136h3.5v3.5h-3.5zM428 139h3.5v3.5h-3.5zM431 142h3.5v3.5h-3.5zM527 145h3.5v3.5h-3.5zM524 148h3.5v3.5h-3.5zM521 151h3.5v3.5h-3.5zM443 154h3.5v3.5h-3.5zM446 157h3.5v3.5h-3.5zM512 157h3.5v3.5h-3.5zM452 160h3.5v3.5h-3.5zM506 160h3.5v3.5h-3.5zM461 163h3.5v3.5h-3.5zM497 163h3.5v3.5h-3.5zM500 163h3.5v3.5h-3.5zM473 166h3.5v3.5h-3.5zM476 166h3.5v3.5h-3.5zM479 166h3.5v3.5h-3.5zM482 166h3.5v3.5h-3.5zM485 166h3.5v3.5h-3.5z"/>
<path fill="#98c749" d="M461 55h3.5v3.5h-3.5zM464 55h3.5v3.5h-3.5zM494 55h3.5v3.5h-3.5zM452 58h3.5v3.5h-3.5zM455 58h3.5v3.5h-3.5zM503 58h3.5v3.5h-3.5zM449 61h3.5v3.5h-3.5zM509 61h3.5v3.5h-3.5zM443 64h3.5v3.5h-3.5zM515 64h3.5v3.5h-3.5zM440 67h3.5v3.5h-3.5zM518 67h3.5v3.5h-3.5zM521 70h3.5v3.5h-3.5zM434 73h3.5v3.5h-3.5zM524 73h3.5v3.5h-3.5zM431 76h3.5v3.5h-3.5zM527 76h3.5v3.5h-3.5zM428 79h3.5v3.5h-3.5zM473 79h3.5v3.5h-3.5zM476 79h3.5v3.5h-3.5zM479 79h3.5v3.5h-3.5zM464 82h3.5v3.5h-3.5zM425 85h3.5v3.5h-3.5zM533 85h3.5v3.5h-3.5zM500 91h3.5v3.5h-3.5zM536 91h3.5v3.5h-3.5zM422 94h3.5v3.5h-3.5zM536 94h3.5v3.5h-3.5zM422 97h3.5v3.5h-3.5zM503 97h3.5v3.5h-3.5zM449 100h3.5v3.5h-3.5zM539 106h3.5v3.5h-3.5zM449 109h3.5v3.5h-3.5zM539 109h3.5v3.5h-3.5zM503 112h3.5v3.5h-3.5zM539 112h3.5v3.5h-3.5zM452 118h3.5v3.5h-3.5zM422 121h3.5v3.5h-3.5zM422 124h3.5v3.5h-3.5zM461 127h3.5v3.5h-3.5zM491 127h3.5v3.5h-3.5zM536 127h3.5v3.5h-3.5zM425 130h3.5v3.5h-3.5zM533 133h3.5v3.5h-3.5zM428 136h3.5v3.5h-3.5zM530 139h3.5v3.5h-3.5zM527 142h3.5v3.5h-3.5zM434 145h3.5v3.5h-3.5zM437 148h3.5v3.5h-3.5zM440 151h3.5v3.5h-3.5zM518 151h3.5v3.5h-3.5zM515 154h3.5v3.5h-3.5zM449 157h3.5v3.5h-3.5zM509 157h3.5v3.5h-3.5zM455 160h3.5v3.5h-3.5zM503 160h3.5v3.5h-3.5zM464 163h3.5v3.5h-3.5zM494 163h3.5v3.5h-3.5z"/>
<path fill="#a5c73e" d="M467 55h3.5v3.5h-3.5zM470 55h3.5v3.5h-3.5zM473 55h3.5v3.5h-3.5zM482 55h3.5v3.5h-3.5zM485 55h3.5v3.5h-3.5zM488 55h3.5v3.5h-3.5zM491 55h3.5v3.5h-3.5zM458 58h3.5v3.5h-3.5zM500 58h3.5v3.5h-3.5zM506 61h3.5v3.5h-3.5zM446 64h3.5v3.5h-3.5zM512 64h3.5v3.5h-3.5zM515 67h3.5v3.5h-3.5zM437 70h3.5v3.5h-3.5zM431 79h3.5v3.5h-3.5zM470 79h3.5v3.5h-3.5zM482 79h3.5v3.5h-3.5zM527 79h3.5v3.5h-3.5zM428 82h3.5v3.5h-3.5zM491 82h3.5v3.5h-3.5zM530 82h3.5v3.5h-3.5zM458 85h3.5v3.5h-3.5zM425 88h3.5v3.5h-3.5zM455 88h3.5v3.5h-3.5zM533 88h3.5v3.5h-3.5zM425 91h3.5v3.5h-3.5zM536 97h3.5v3.5h-3.5zM422 100h3.5v3.5h-3.5zM422 103h3.5v3.5h-3.5zM422 106h3.5v3.5h-3.5zM422 109h3.5v3.5h-3.5zM422 112h3.5v3.5h-3.5zM449 112h3.5v3.5h-3.5zM422 115h3.5v3.5h-3.5zM422 118h3.5v3.5h-3.5zM536 121h3.5v3.5h-3.5zM536 124h3.5v3.5h-3.5zM425 127h3.5v3.5h-3.5zM467 130h3.5v3.5h-3.5zM485 130h3.5v3.5h-3.5zM533 130h3.5v3.5h-3.5zM428 133h3.5v3.5h-3.5zM530 136h3.5v3.5h-3.5zM431 139h3.5v3.5h-3.5zM434 142h3.5v3.5h-3.5zM524 145h3.5v3.5h-3.5zM521 148h3.5v3.5h-3.5zM443 151h3.5v3.5h-3.5zM446 154h3.5v3.5h-3.5zM452 157h3.5v3.5h-3.5zM458 160h3.5v3.5h-3.5zM500 160h3.5v3.5h-3.5zM467 163h3.5v3.5h-3.5zM470 163h3.5v3.5h-3.5zM488 163h3.5v3.5h-3.5zM491 163h3.5v3.5h-3.5z"/>
<path fill="#b0c739" d="M476 55h3.5v3.5h-3.5zM479 55h3.5v3.5h-3.5zM461 58h3.5v3.5h-3.5zM494 58h3.5v3.5h-3.5zM497 58h3.5v3.5h-3.5zM452 61h3.5v3.5h-3.5zM503 61h3.5v3.5h-3.5zM449 64h3.5v3.5h-3.5zM509 64h3.5v3.5h-3.5zM443 67h3.5v3.5h-3.5zM440 70h3.5v3.5h-3.5zM518 70h3.5v3.5h-3.5zM437 73h3.5v3.5h-3.5zM521 73h3.5v3.5h-3.5zM434 76h3.5v3.5h-3.5zM524 76h3.5v3.5h-3.5zM485 79h3.5v3.5h-3.5zM461 82h3.5v3.5h-3.5zM428 85h3.5v3.5h-3.5zM530 85h3.5v3.5h-3.5zM452 91h3.5v3.5h-3.5zM533 91h3.5v3.5h-3.5zM425 94h3.5v3.5h-3.5zM503 94h3.5v3.5h-3.5zM449 97h3.5v3.5h-3.5zM536 100h3.5v3.5h-3.5zM536 103h3.5v3.5h-3.5zM536 106h3.5v3.5h-3.5zM503 115h3.5v3.5h-3.5zM536 115h3.5v3.5h-3.5zM536 118h3.5v3.5h-3.5zM425 121h3.5v3.5h-3.5zM425 124h3.5v3.5h-3.5zM533 127h3.5v3.5h-3.5zM428 130h3.5v3.5h-3.5zM431 136h3.5v3.5h-3.5zM527 139h3.5v3.5h-3.5zM437 145h3.5v3.5h-3.5zM440 148h3.5v3.5h-3.5zM515 151h3.5v3.5h-3.5zM449 154h3.5v3.5h-3.5zM512 154h3.5v3.5h-3.5zM506 157h3.5v3.5h-3.5zM461 160h3.5v3.5h-3.5zM473 163h3.5v3.5h-3.5zM476 163h3.5v3.5h-3.5zM479 163h3.5v3.5h-3.5zM482 163h3.5v3.5h-3.5zM485 163h3.5v3.5h-3.5z"/>
<path fill="#b9c639" d="M464 58h3.5v3.5h-3.5zM467 58h3.5v3.5h-3.5zM488 58h3.5v3.5h-3.5zM491 58h3.5v3.5h-3.5zM455 61h3.5v3.5h-3.5zM458 61h3.5v3.5h-3.5zM500 61h3.5v3.5h-3.5zM506 64h3.5v3.5h-3.5zM446 67h3.5v3.5h-3.5zM512 67h3.5v3.5h-3.5zM434 79h3.5v3.5h-3.5zM467 79h3.5v3.5h-3.5zM488 79h3.5v3.5h-3.5zM431 82h3.5v3.5h-3.5zM527 82h3.5v3.5h-3.5zM497 85h3.5v3.5h-3.5zM428 88h3.5v3.5h-3.5zM500 88h3.5v3.5h-3.5zM428 91h3.5v3.5h-3.5zM533 94h3.5v3.5h-3.5zM425 97h3.5v3.5h-3.5zM425 100h3.5v3.5h-3.5zM425 103h3.5v3.5h-3.5zM536 109h3.5v3.5h-3.5zM536 112h3.5v3.5h-3.5zM425 115h3.5v3.5h-3.5zM449 115h3.5v3.5h-3.5zM425 118h3.5v3.5h-3.5zM452 121h3.5v3.5h-3.5zM455 124h3.5v3.5h-3.5zM497 124h3.5v3.5h-3.5zM428 127h3.5v3.5h-3.5zM530 133h3.5v3.5h-3.5zM434 139h3.5v3.5h-3.5zM524 142h3.5v3.5h-3.5zM521 145h3.5v3.5h-3.5zM518 148h3.5v3.5h-3.5zM446 151h3.5v3.5h-3.5zM509 154h3.5v3.5h-3.5zM455 157h3.5v3.5h-3.5zM503 157h3.5v3.5h-3.5zM464 160h3.5v3.5h-3.5zM497 160h3.5v3.5h-3.5z"/>
<path fill="#c3c639" d="M470 58h3.5v3.5h-3.5zM473 58h3.5v3.5h-3.5zM476 58h3.5v3.5h-3.5zM479 58h3.5v3.5h-3.5zM482 58h3.5v3.5h-3.5zM485 58h3.5v3.5h-3.5zM461 61h3.5v3.5h-3.5zM497 61h3.5v3.5h-3.5zM452 64h3.5v3.5h-3.5zM509 67h3.5v3.5h-3.5zM443 70h3.5v3.5h-3.5zM515 70h3.5v3.5h-3.5zM440 73h3.5v3.5h-3.5zM518 73h3.5v3.5h-3.5zM437 76h3.5v3.5h-3.5zM521 76h3.5v3.5h-3.5zM524 79h3.5v3.5h-3.5zM494 82h3.5v3.5h-3.5zM431 85h3.5v3.5h-3.5zM455 85h3.5v3.5h-3.5zM530 88h3.5v3.5h-3.5zM428 94h3.5v3.5h-3.5zM449 94h3.5v3.5h-3.5zM533 97h3.5v3.5h-3.5zM446 103h3.5v3.5h-3.5zM506 103h3.5v3.5h-3.5zM425 106h3.5v3.5h-3.5zM446 106h3.5v3.5h-3.5zM506 106h3.5v3.5h-3.5zM425 109h3.5v3.5h-3.5zM425 112h3.5v3.5h-3.5zM500 121h3.5v3.5h-3.5zM428 124h3.5v3.5h-3.5zM533 124h3.5v3.5h-3.5zM458 127h3.5v3.5h-3.5zM494 127h3.5v3.5h-3.5zM464 130h3.5v3.5h-3.5zM488 130h3.5v3.5h-3.5zM530 130h3.5v3.5h-3.5zM431 133h3.5v3.5h-3.5zM527 136h3.5v3.5h-3.5zM437 142h3.5v3.5h-3.5zM440 145h3.5v3.5h-3.5zM443 148h3.5v3.5h-3.5zM452 154h3.5v3.5h-3.5zM458 157h3.5v3.5h-3.5zM467 160h3.5v3.5h-3.5zM494 160h3.5v3.5h-3.5z"/>
<path fill="#ccc539" d="M464 61h3.5v3.5h-3.5zM491 61h3.5v3.5h-3.5zM494 61h3.5v3.5h-3.5zM455 64h3.5v3.5h-3.5zM503 64h3.5v3.5h-3.5zM449 67h3.5v3.5h-3.5zM446 70h3.5v3.5h-3.5zM512 70h3.5v3.5h-3.5zM443 73h3.5v3.5h-3.5zM440 76h3.5v3.5h-3.5zM476 76h3.5v3.5h-3.5zM479 76h3.5v3.5h-3.5zM437 79h3.5v3.5h-3.5zM464 79h3.5v3.5h-3.5zM434 82h3.5v3.5h-3.5zM458 82h3.5v3.5h-3.5zM527 85h3.5v3.5h-3.5zM431 88h3.5v3.5h-3.5zM452 88h3.5v3.5h-3.5zM503 91h3.5v3.5h-3.5zM530 91h3.5v3.5h-3.5zM428 97h3.5v3.5h-3.5zM428 100h3.5v3.5h-3.5zM446 100h3.5v3.5h-3.5zM506 100h3.5v3.5h-3.5zM533 100h3.5v3.5h-3.5zM533 103h3.5v3.5h-3.5zM446 109h3.5v3.5h-3.5zM506 109h3.5v3.5h-3.5zM449 118h3.5v3.5h-3.5zM533 118h3.5v3.5h-3.5zM428 121h3.5v3.5h-3.5zM533 121h3.5v3.5h-3.5zM431 130h3.5v3.5h-3.5zM434 136h3.5v3.5h-3.5zM524 139h3.5v3.5h-3.5zM515 148h3.5v3.5h-3.5zM449 151h3.5v3.5h-3.5zM512 151h3.5v3.5h-3.5zM506 154h3.5v3.5h-3.5zM500 157h3.5v3.5h-3.5zM470 160h3.5v3.5h-3.5zM488 160h3.5v3.5h-3.5zM491 160h3.5v3.5h-3.5z"/>
<path fill="#d5c538" d="M467 61h3.5v3.5h-3.5zM470 61h3.5v3.5h-3.5zM473 61h3.5v3.5h-3.5zM476 61h3.5v3.5h-3.5zM479 61h3.5v3.5h-3.5zM482 61h3.5v3.5h-3.5zM485 61h3.5v3.5h-3.5zM488 61h3.5v3.5h-3.5zM458 64h3.5v3.5h-3.5zM500 64h3.5v3.5h-3.5zM452 67h3.5v3.5h-3.5zM506 67h3.5v3.5h-3.5zM515 73h3.5v3.5h-3.5zM470 76h3.5v3.5h-3.5zM473 76h3.5v3.5h-3.5zM482 76h3.5v3.5h-3.5zM518 76h3.5v3.5h-3.5zM491 79h3.5v3.5h-3.5zM521 79h3.5v3.5h-3.5zM524 82h3.5v3.5h-3.5zM434 85h3.5v3.5h-3.5zM527 88h3.5v3.5h-3.5zM431 91h3.5v3.5h-3.5zM449 91h3.5v3.5h-3.5zM431 94h3.5v3.5h-3.5zM530 94h3.5v3.5h-3.5zM446 97h3.5v3.5h-3.5zM428 103h3.5v3.5h-3.5zM428 106h3.5v3.5h-3.5zM533 106h3.5v3.5h-3.5zM428 109h3.5v3.5h-3.5zM533 109h3.5v3.5h-3.5zM428 112h3.5v3.5h-3.5zM446 112h3.5v3.5h-3.5zM533 112h3.5v3.5h-3.5zM428 115h3.5v3.5h-3.5zM533 115h3.5v3.5h-3.5zM428 118h3.5v3.5h-3.5zM503 118h3.5v3.5h-3.5zM431 127h3.5v3.5h-3.5zM530 127h3.5v3.5h-3.5zM434 133h3.5v3.5h-3.5zM476 133h3.5v3.5h-3.5zM527 133h3.5v3.5h-3.5zM437 139h3.5v3.5h-3.5zM440 142h3.5v3.5h-3.5zM521 142h3.5v3.5h-3.5zM443 145h3.5v3.5h-3.5zM518 145h3.5v3.5h-3.5zM446 148h3.5v3.5h-3.5zM455 154h3.5v3.5h-3.5zM461 157h3.5v3.5h-3.5zM473 160h3.5v3.5h-3.5zM476 160h3.5v3.5h-3.5zM482 160h3.5v3.5h-3.5zM485 160h3.5v3.5h-3.5z"/>
<path fill="#dfc538" d="M461 64h3.5v3.5h-3.5zM464 64h3.5v3.5h-3.5zM494 64h3.5v3.5h-3.5zM497 64h3.5v3.5h-3.5zM455 67h3.5v3.5h-3.5zM503 67h3.5v3.5h-3.5zM449 70h3.5v3.5h-3.5zM509 70h3.5v3.5h-3.5zM446 73h3.5v3.5h-3.5zM443 76h3.5v3.5h-3.5zM485 76h3.5v3.5h-3.5zM440 79h3.5v3.5h-3.5zM461 79h3.5v3.5h-3.5zM437 82h3.5v3.5h-3.5zM497 82h3.5v3.5h-3.5zM500 85h3.5v3.5h-3.5zM434 88h3.5v3.5h-3.5zM431 97h3.5v3.5h-3.5zM506 97h3.5v3.5h-3.5zM530 97h3.5v3.5h-3.5zM506 112h3.5v3.5h-3.5zM431 124h3.5v3.5h-3.5zM530 124h3.5v3.5h-3.5zM461 130h3.5v3.5h-3.5zM473 133h3.5v3.5h-3.5zM479 133h3.5v3.5h-3.5zM437 136h3.5v3.5h-3.5zM452 151h3.5v3.5h-3.5zM509 151h3.5v3.5h-3.5zM503 154h3.5v3.5h-3.5zM464 157h3.5v3.5h-3.5zM497 157h3.5v3.5h-3.5zM479 160h3.5v3.5h-3.5z"/>
<path fill="#e8c438" d="M467 64h3.5v3.5h-3.5zM470 64h3.5v3.5h-3.5zM473 64h3.5v3.5h-3.5zM485 64h3.5v3.5h-3.5zM488 64h3.5v3.5h-3.5zM491 64h3.5v3.5h-3.5zM458 67h3.5v3.5h-3.5zM500 67h3.5v3.5h-3.5zM452 70h3.5v3.5h-3.5zM506 70h3.5v3.5h-3.5zM449 73h3.5v3.5h-3.5zM512 73h3.5v3.5h-3.5zM446 76h3.5v3.5h-3.5zM467 76h3.5v3.5h-3.5zM515 76h3.5v3.5h-3.5zM443 79h3.5v3.5h-3.5zM518 79h3.5v3.5h-3.5zM440 82h3.5v3.5h-3.5zM455 82h3.5v3.5h-3.5zM521 82h3.5v3.5h-3.5zM437 85h3.5v3.5h-3.5zM452 85h3.5v3.5h-3.5zM524 85h3.5v3.5h-3.5zM449 88h3.5v3.5h-3.5zM434 91h3.5v3.5h-3.5zM527 91h3.5v3.5h-3.5zM434 94h3.5v3.5h-3.5zM446 94h3.5v3.5h-3.5zM431 100h3.5v3.5h-3.5zM530 100h3.5v3.5h-3.5zM431 103h3.5v3.5h-3.5zM431 106h3.5v3.5h-3.5zM431 109h3.5v3.5h-3.5zM431 115h3.5v3.5h-3.5zM446 115h3.5v3.5h-3.5zM431 118h3.5v3.5h-3.5zM431 121h3.5v3.5h-3.5zM530 121h3.5v3.5h-3.5zM452 124h3.5v3.5h-3.5zM434 130h3.5v3.5h-3.5zM491 130h3.5v3.5h-3.5zM527 130h3.5v3.5h-3.5zM470 133h3.5v3.5h-3.5zM482 133h3.5v3.5h-3.5zM524 136h3.5v3.5h-3.5zM440 139h3.5v3.5h-3.5zM449 148h3.5v3.5h-3.5zM512 148h3.5v3.5h-3.5zM458 154h3.5v3.5h-3.5zM494 157h3.5v3.5h-3.5z"/>
<path fill="#f1c438" d="M476 64h3.5v3.5h-3.5zM479 64h3.5v3.5h-3.5zM482 64h3.5v3.5h-3.5zM461 67h3.5v3.5h-3.5zM464 67h3.5v3.5h-3.5zM494 67h3.5v3.5h-3.5zM497 67h3.5v3.5h-3.5zM455 70h3.5v3.5h-3.5zM458 70h3.5v3.5h-3.5zM503 70h3.5v3.5h-3.5zM452 73h3.5v3.5h-3.5zM509 73h3.5v3.5h-3.5zM464 76h3.5v3.5h-3.5zM488 76h3.5v3.5h-3.5zM458 79h3.5v3.5h-3.5zM494 79h3.5v3.5h-3.5zM440 85h3.5v3.5h-3.5zM437 88h3.5v3.5h-3.5zM503 88h3.5v3.5h-3.5zM524 88h3.5v3.5h-3.5zM437 91h3.5v3.5h-3.5zM506 94h3.5v3.5h-3.5zM434 97h3.5v3.5h-3.5zM443 103h3.5v3.5h-3.5zM530 103h3.5v3.5h-3.5zM443 106h3.5v3.5h-3.5zM431 112h3.5v3.5h-3.5zM530 118h3.5v3.5h-3.5zM449 121h3.5v3.5h-3.5zM434 127h3.5v3.5h-3.5zM455 127h3.5v3.5h-3.5zM437 133h3.5v3.5h-3.5zM521 139h3.5v3.5h-3.5zM443 142h3.5v3.5h-3.5zM518 142h3.5v3.5h-3.5zM446 145h3.5v3.5h-3.5zM515 145h3.5v3.5h-3.5zM500 154h3.5v3.5h-3.5zM467 157h3.5v3.5h-3.5zM491 157h3.5v3.5h-3.5z"/>
<path fill="#fbc338" d="M467 67h3.5v3.5h-3.5zM470 67h3.5v3.5h-3.5zM473 67h3.5v3.5h-3.5zM476 67h3.5v3.5h-3.5zM479 67h3.5v3.5h-3.5zM482 67h3.5v3.5h-3.5zM485 67h3.5v3.5h-3.5zM488 67h3.5v3.5h-3.5zM491 67h3.5v3.5h-3.5zM461 70h3.5v3.5h-3.5zM464 70h3.5v3.5h-3.5zM500 70h3.5v3.5h-3.5zM455 73h3.5v3.5h-3.5zM458 73h3.5v3.5h-3.5zM470 73h3.5v3.5h-3.5zM473 73h3.5v3.5h-3.5zM476 73h3.5v3.5h-3.5zM479 73h3.5v3.5h-3.5zM482 73h3.5v3.5h-3.5zM449 76h3.5v3.5h-3.5zM452 76h3.5v3.5h-3.5zM461 76h3.5v3.5h-3.5zM491 76h3.5v3.5h-3.5zM512 76h3.5v3.5h-3.5zM446 79h3.5v3.5h-3.5zM449 79h3.5v3.5h-3.5zM455 79h3.5v3.5h-3.5zM515 79h3.5v3.5h-3.5zM443 82h3.5v3.5h-3.5zM446 82h3.5v3.5h-3.5zM452 82h3.5v3.5h-3.5zM443 85h3.5v3.5h-3.5zM449 85h3.5v3.5h-3.5zM521 85h3.5v3.5h-3.5zM440 88h3.5v3.5h-3.5zM440 91h3.5v3.5h-3.5zM446 91h3.5v3.5h-3.5zM437 94h3.5v3.5h-3.5zM527 94h3.5v3.5h-3.5zM437 97h3.5v3.5h-3.5zM443 97h3.5v3.5h-3.5zM434 100h3.5v3.5h-3.5zM443 100h3.5v3.5h-3.5zM434 103h3.5v3.5h-3.5zM434 106h3.5v3.5h-3.5zM530 106h3.5v3.5h-3.5zM434 109h3.5v3.5h-3.5zM443 109h3.5v3.5h-3.5zM530 109h3.5v3.5h-3.5zM530 112h3.5v3.5h-3.5zM530 115h3.5v3.5h-3.5zM434 118h3.5v3.5h-3.5zM446 118h3.5v3.5h-3.5zM434 121h3.5v3.5h-3.5zM434 124h3.5v3.5h-3.5zM500 124h3.5v3.5h-3.5zM527 127h3.5v3.5h-3.5zM437 130h3.5v3.5h-3.5zM467 133h3.5v3.5h-3.5zM524 133h3.5v3.5h-3.5zM440 136h3.5v3.5h-3.5zM455 151h3.5v3.5h-3.5zM506 151h3.5v3.5h-3.5zM461 154h3.5v3.5h-3.5zM470 157h3.5v3.5h-3.5zM488 157h3.5v3.5h-3.5z"/>
<path fill="#fec437" d="M467 70h3.5v3.5h-3.5zM470 70h3.5v3.5h-3.5zM473 70h3.5v3.5h-3.5zM476 70h3.5v3.5h-3.5zM479 70h3.5v3.5h-3.5zM482 70h3.5v3.5h-3.5zM485 70h3.5v3.5h-3.5zM488 70h3.5v3.5h-3.5zM491 70h3.5v3.5h-3.5zM494 70h3.5v3.5h-3.5zM497 70h3.5v3.5h-3.5zM461 73h3.5v3.5h-3.5zM464 73h3.5v3.5h-3.5zM467 73h3.5v3.5h-3.5zM485 73h3.5v3.5h-3.5zM488 73h3.5v3.5h-3.5zM503 73h3.5v3.5h-3.5zM506 73h3.5v3.5h-3.5zM455 76h3.5v3.5h-3.5zM458 76h3.5v3.5h-3.5zM509 76h3.5v3.5h-3.5zM452 79h3.5v3.5h-3.5zM497 79h3.5v3.5h-3.5zM449 82h3.5v3.5h-3.5zM500 82h3.5v3.5h-3.5zM518 82h3.5v3.5h-3.5zM446 85h3.5v3.5h-3.5zM443 88h3.5v3.5h-3.5zM446 88h3.5v3.5h-3.5zM443 91h3.5v3.5h-3.5zM506 91h3.5v3.5h-3.5zM524 91h3.5v3.5h-3.5zM440 94h3.5v3.5h-3.5zM443 94h3.5v3.5h-3.5zM440 97h3.5v3.5h-3.5zM527 97h3.5v3.5h-3.5zM437 100h3.5v3.5h-3.5zM440 100h3.5v3.5h-3.5zM437 103h3.5v3.5h-3.5zM440 103h3.5v3.5h-3.5zM437 106h3.5v3.5h-3.5zM434 112h3.5v3.5h-3.5zM443 112h3.5v3.5h-3.5zM434 115h3.5v3.5h-3.5zM506 115h3.5v3.5h-3.5zM437 127h3.5v3.5h-3.5zM497 127h3.5v3.5h-3.5zM458 130h3.5v3.5h-3.5zM485 133h3.5v3.5h-3.5zM443 139h3.5v3.5h-3.5zM446 142h3.5v3.5h-3.5zM449 145h3.5v3.5h-3.5zM452 148h3.5v3.5h-3.5zM509 148h3.5v3.5h-3.5zM497 154h3.5v3.5h-3.5zM473 157h3.5v3.5h-3.5zM485 157h3.5v3.5h-3.5z"/>
<path fill="#fdc637" d="M491 73h3.5v3.5h-3.5zM494 73h3.5v3.5h-3.5zM497 73h3.5v3.5h-3.5zM500 73h3.5v3.5h-3.5zM494 76h3.5v3.5h-3.5zM506 76h3.5v3.5h-3.5zM512 79h3.5v3.5h-3.5zM503 85h3.5v3.5h-3.5zM521 88h3.5v3.5h-3.5zM527 100h3.5v3.5h-3.5zM440 106h3.5v3.5h-3.5zM437 109h3.5v3.5h-3.5zM440 109h3.5v3.5h-3.5zM437 112h3.5v3.5h-3.5zM440 112h3.5v3.5h-3.5zM437 115h3.5v3.5h-3.5zM443 115h3.5v3.5h-3.5zM437 118h3.5v3.5h-3.5zM437 121h3.5v3.5h-3.5zM503 121h3.5v3.5h-3.5zM437 124h3.5v3.5h-3.5zM449 124h3.5v3.5h-3.5zM527 124h3.5v3.5h-3.5zM524 130h3.5v3.5h-3.5zM440 133h3.5v3.5h-3.5zM464 133h3.5v3.5h-3.5zM521 136h3.5v3.5h-3.5zM518 139h3.5v3.5h-3.5zM512 145h3.5v3.5h-3.5zM458 151h3.5v3.5h-3.5zM503 151h3.5v3.5h-3.5zM464 154h3.5v3.5h-3.5zM476 157h3.5v3.5h-3.5zM479 157h3.5v3.5h-3.5zM482 157h3.5v3.5h-3.5z"/>
<path fill="#fdc836" d="M497 76h3.5v3.5h-3.5zM500 76h3.5v3.5h-3.5zM503 76h3.5v3.5h-3.5zM500 79h3.5v3.5h-3.5zM509 79h3.5v3.5h-3.5zM515 82h3.5v3.5h-3.5zM518 85h3.5v3.5h-3.5zM524 94h3.5v3.5h-3.5zM509 100h3.5v3.5h-3.5zM509 103h3.5v3.5h-3.5zM527 103h3.5v3.5h-3.5zM509 106h3.5v3.5h-3.5zM440 115h3.5v3.5h-3.5zM440 118h3.5v3.5h-3.5zM443 118h3.5v3.5h-3.5zM446 121h3.5v3.5h-3.5zM527 121h3.5v3.5h-3.5zM452 127h3.5v3.5h-3.5zM440 130h3.5v3.5h-3.5zM494 130h3.5v3.5h-3.5zM443 136h3.5v3.5h-3.5zM515 142h3.5v3.5h-3.5zM455 148h3.5v3.5h-3.5zM494 154h3.5v3.5h-3.5z"/>
<path fill="#fcca35" d="M503 79h3.5v3.5h-3.5zM506 79h3.5v3.5h-3.5zM503 82h3.5v3.5h-3.5zM512 82h3.5v3.5h-3.5zM506 88h3.5v3.5h-3.5zM521 91h3.5v3.5h-3.5zM509 97h3.5v3.5h-3.5zM524 97h3.5v3.5h-3.5zM527 106h3.5v3.5h-3.5zM509 109h3.5v3.5h-3.5zM527 109h3.5v3.5h-3.5zM527 115h3.5v3.5h-3.5zM527 118h3.5v3.5h-3.5zM440 121h3.5v3.5h-3.5zM443 121h3.5v3.5h-3.5zM440 124h3.5v3.5h-3.5zM440 127h3.5v3.5h-3.5zM524 127h3.5v3.5h-3.5zM443 133h3.5v3.5h-3.5zM488 133h3.5v3.5h-3.5zM521 133h3.5v3.5h-3.5zM446 139h3.5v3.5h-3.5zM449 142h3.5v3.5h-3.5zM452 145h3.5v3.5h-3.5zM506 148h3.5v3.5h-3.5zM461 151h3.5v3.5h-3.5zM500 151h3.5v3.5h-3.5zM467 154h3.5v3.5h-3.5z"/>
<path fill="#fccc34" d="M506 82h3.5v3.5h-3.5zM509 82h3.5v3.5h-3.5zM506 85h3.5v3.5h-3.5zM515 85h3.5v3.5h-3.5zM518 88h3.5v3.5h-3.5zM509 94h3.5v3.5h-3.5zM527 112h3.5v3.5h-3.5zM506 118h3.5v3.5h-3.5zM443 124h3.5v3.5h-3.5zM446 124h3.5v3.5h-3.5zM443 127h3.5v3.5h-3.5zM443 130h3.5v3.5h-3.5zM455 130h3.5v3.5h-3.5zM461 133h3.5v3.5h-3.5zM446 136h3.5v3.5h-3.5zM491 154h3.5v3.5h-3.5z"/>
<path fill="#fbce33" d="M509 85h3.5v3.5h-3.5zM512 85h3.5v3.5h-3.5zM515 88h3.5v3.5h-3.5zM509 91h3.5v3.5h-3.5zM518 91h3.5v3.5h-3.5zM521 94h3.5v3.5h-3.5zM524 100h3.5v3.5h-3.5zM524 124h3.5v3.5h-3.5zM446 127h3.5v3.5h-3.5zM449 127h3.5v3.5h-3.5zM446 133h3.5v3.5h-3.5zM518 136h3.5v3.5h-3.5zM449 139h3.5v3.5h-3.5zM515 139h3.5v3.5h-3.5zM512 142h3.5v3.5h-3.5zM509 145h3.5v3.5h-3.5zM458 148h3.5v3.5h-3.5zM470 154h3.5v3.5h-3.5zM488 154h3.5v3.5h-3.5z"/>
<path fill="#fbd032" d="M509 88h3.5v3.5h-3.5zM512 88h3.5v3.5h-3.5zM521 97h3.5v3.5h-3.5zM524 103h3.5v3.5h-3.5zM509 112h3.5v3.5h-3.5zM524 121h3.5v3.5h-3.5zM446 130h3.5v3.5h-3.5zM452 130h3.5v3.5h-3.5zM521 130h3.5v3.5h-3.5zM449 136h3.5v3.5h-3.5zM452 142h3.5v3.5h-3.5zM455 145h3.5v3.5h-3.5zM503 148h3.5v3.5h-3.5zM464 151h3.5v3.5h-3.5zM497 151h3.5v3.5h-3.5zM473 154h3.5v3.5h-3.5zM485 154h3.5v3.5h-3.5z"/>
<path fill="#fbd231" d="M512 91h3.5v3.5h-3.5zM515 91h3.5v3.5h-3.5zM518 94h3.5v3.5h-3.5zM524 106h3.5v3.5h-3.5zM524 118h3.5v3.5h-3.5zM503 124h3.5v3.5h-3.5zM500 127h3.5v3.5h-3.5zM449 130h3.5v3.5h-3.5zM449 133h3.5v3.5h-3.5zM458 133h3.5v3.5h-3.5zM473 136h3.5v3.5h-3.5zM476 136h3.5v3.5h-3.5zM452 139h3.5v3.5h-3.5zM476 154h3.5v3.5h-3.5zM479 154h3.5v3.5h-3.5zM482 154h3.5v3.5h-3.5z"/>
<path fill="#fad430" d="M512 94h3.5v3.5h-3.5zM515 94h3.5v3.5h-3.5zM512 97h3.5v3.5h-3.5zM521 100h3.5v3.5h-3.5zM524 109h3.5v3.5h-3.5zM524 112h3.5v3.5h-3.5zM524 115h3.5v3.5h-3.5zM521 127h3.5v3.5h-3.5zM452 133h3.5v3.5h-3.5zM455 133h3.5v3.5h-3.5zM491 133h3.5v3.5h-3.5zM518 133h3.5v3.5h-3.5zM452 136h3.5v3.5h-3.5zM470 136h3.5v3.5h-3.5zM479 136h3.5v3.5h-3.5zM455 142h3.5v3.5h-3.5zM458 145h3.5v3.5h-3.5zM506 145h3.5v3.5h-3.5zM461 148h3.5v3.5h-3.5zM467 151h3.5v3.5h-3.5zM494 151h3.5v3.5h-3.5z"/>
<path fill="#fad62f" d="M515 97h3.5v3.5h-3.5zM518 97h3.5v3.5h-3.5zM512 100h3.5v3.5h-3.5zM512 103h3.5v3.5h-3.5zM521 103h3.5v3.5h-3.5zM509 115h3.5v3.5h-3.5zM497 130h3.5v3.5h-3.5zM467 136h3.5v3.5h-3.5zM482 136h3.5v3.5h-3.5zM515 136h3.5v3.5h-3.5zM512 139h3.5v3.5h-3.5zM509 142h3.5v3.5h-3.5zM500 148h3.5v3.5h-3.5z"/>
<path fill="#f9d82d" d="M518 100h3.5v3.5h-3.5zM512 106h3.5v3.5h-3.5zM521 106h3.5v3.5h-3.5zM506 121h3.5v3.5h-3.5zM521 124h3.5v3.5h-3.5zM518 130h3.5v3.5h-3.5zM455 136h3.5v3.5h-3.5zM464 136h3.5v3.5h-3.5zM455 139h3.5v3.5h-3.5zM464 148h3.5v3.5h-3.5zM470 151h3.5v3.5h-3.5zM491 151h3.5v3.5h-3.5z"/>
<path fill="#f8da2c" d="M515 100h3.5v3.5h-3.5zM518 103h3.5v3.5h-3.5zM512 109h3.5v3.5h-3.5zM521 109h3.5v3.5h-3.5zM521 112h3.5v3.5h-3.5zM521 121h3.5v3.5h-3.5zM458 136h3.5v3.5h-3.5zM461 136h3.5v3.5h-3.5zM458 142h3.5v3.5h-3.5zM461 145h3.5v3.5h-3.5zM503 145h3.5v3.5h-3.5zM497 148h3.5v3.5h-3.5zM488 151h3.5v3.5h-3.5z"/>
<path fill="#f8dc2a" d="M515 103h3.5v3.5h-3.5zM518 106h3.5v3.5h-3.5zM521 115h3.5v3.5h-3.5zM521 118h3.5v3.5h-3.5zM518 127h3.5v3.5h-3.5zM515 133h3.5v3.5h-3.5zM485 136h3.5v3.5h-3.5zM458 139h3.5v3.5h-3.5zM506 142h3.5v3.5h-3.5zM473 151h3.5v3.5h-3.5z"/>
<path fill="#f7df29" d="M515 106h3.5v3.5h-3.5zM518 109h3.5v3.5h-3.5zM512 112h3.5v3.5h-3.5zM509 118h3.5v3.5h-3.5zM494 133h3.5v3.5h-3.5zM512 136h3.5v3.5h-3.5zM461 139h3.5v3.5h-3.5zM509 139h3.5v3.5h-3.5zM461 142h3.5v3.5h-3.5zM500 145h3.5v3.5h-3.5zM467 148h3.5v3.5h-3.5zM494 148h3.5v3.5h-3.5zM476 151h3.5v3.5h-3.5zM485 151h3.5v3.5h-3.5z"/>
<path fill="#f7e128" d="M515 109h3.5v3.5h-3.5zM518 112h3.5v3.5h-3.5zM518 124h3.5v3.5h-3.5zM503 127h3.5v3.5h-3.5zM515 130h3.5v3.5h-3.5zM464 145h3.5v3.5h-3.5zM479 151h3.5v3.5h-3.5zM482 151h3.5v3.5h-3.5z"/>
<path fill="#f6e326" d="M515 112h3.5v3.5h-3.5zM512 115h3.5v3.5h-3.5zM518 115h3.5v3.5h-3.5zM518 118h3.5v3.5h-3.5zM518 121h3.5v3.5h-3.5zM506 124h3.5v3.5h-3.5zM500 130h3.5v3.5h-3.5zM512 133h3.5v3.5h-3.5zM488 136h3.5v3.5h-3.5zM464 139h3.5v3.5h-3.5zM464 142h3.5v3.5h-3.5zM503 142h3.5v3.5h-3.5zM470 148h3.5v3.5h-3.5zM491 148h3.5v3.5h-3.5z"/>
<path fill="#f6e525" d="M515 115h3.5v3.5h-3.5zM509 121h3.5v3.5h-3.5zM515 127h3.5v3.5h-3.5zM509 136h3.5v3.5h-3.5zM467 139h3.5v3.5h-3.5zM506 139h3.5v3.5h-3.5zM467 145h3.5v3.5h-3.5zM497 145h3.5v3.5h-3.5z"/>
<path fill="#f5e823" d="M512 118h3.5v3.5h-3.5zM515 118h3.5v3.5h-3.5zM515 121h3.5v3.5h-3.5zM515 124h3.5v3.5h-3.5zM512 130h3.5v3.5h-3.5zM497 133h3.5v3.5h-3.5zM470 139h3.5v3.5h-3.5zM500 142h3.5v3.5h-3.5zM473 148h3.5v3.5h-3.5zM488 148h3.5v3.5h-3.5z"/>
<path fill="#f5ea22" d="M512 121h3.5v3.5h-3.5zM509 133h3.5v3.5h-3.5zM491 136h3.5v3.5h-3.5zM473 139h3.5v3.5h-3.5zM476 139h3.5v3.5h-3.5zM503 139h3.5v3.5h-3.5zM467 142h3.5v3.5h-3.5zM494 145h3.5v3.5h-3.5zM485 148h3.5v3.5h-3.5z"/>
<path fill="#f6ec20" d="M509 124h3.5v3.5h-3.5zM512 124h3.5v3.5h-3.5zM506 127h3.5v3.5h-3.5zM512 127h3.5v3.5h-3.5zM506 136h3.5v3.5h-3.5zM479 139h3.5v3.5h-3.5zM470 145h3.5v3.5h-3.5zM476 148h3.5v3.5h-3.5zM479 148h3.5v3.5h-3.5zM482 148h3.5v3.5h-3.5z"/>
<path fill="#f6ee1e" d="M509 127h3.5v3.5h-3.5zM503 130h3.5v3.5h-3.5zM509 130h3.5v3.5h-3.5zM506 133h3.5v3.5h-3.5zM482 139h3.5v3.5h-3.5zM500 139h3.5v3.5h-3.5zM470 142h3.5v3.5h-3.5zM497 142h3.5v3.5h-3.5zM491 145h3.5v3.5h-3.5z"/>
<path fill="#f7f01d" d="M506 130h3.5v3.5h-3.5zM500 133h3.5v3.5h-3.5zM503 133h3.5v3.5h-3.5zM494 136h3.5v3.5h-3.5zM503 136h3.5v3.5h-3.5zM494 142h3.5v3.5h-3.5zM473 145h3.5v3.5h-3.5zM488 145h3.5v3.5h-3.5z"/>
<path fill="#f7f21b" d="M497 136h3.5v3.5h-3.5zM500 136h3.5v3.5h-3.5zM485 139h3.5v3.5h-3.5zM497 139h3.5v3.5h-3.5zM473 142h3.5v3.5h-3.5zM491 142h3.5v3.5h-3.5zM476 145h3.5v3.5h-3.5zM485 145h3.5v3.5h-3.5z"/>
<path fill="#f8f51a" d="M488 139h3.5v3.5h-3.5zM491 139h3.5v3.5h-3.5zM494 139h3.5v3.5h-3.5zM476 142h3.5v3.5h-3.5zM488 142h3.5v3.5h-3.5zM479 145h3.5v3.5h-3.5zM482 145h3.5v3.5h-3.5z"/>
<path fill="#f8f718" d="M479 142h3.5v3.5h-3.5zM482 142h3.5v3.5h-3.5zM485 142h3.5v3.5h-3.5z"/>
</g></g>
<rect x="382.2" y="25" width="193" height="179.8" fill="none" stroke="#262626" stroke-width="3.6"/>
<line x1="430.12" y1="26.8" x2="430.12" y2="29.3" stroke="#262626" stroke-width="2"/>
<line x1="430.12" y1="203" x2="430.12" y2="200.5" stroke="#262626" stroke-width="2"/>
<line x1="384" y1="69.95" x2="386.5" y2="69.95" stroke="#262626" stroke-width="2"/>
<line x1="575.2" y1="69.95" x2="572.7" y2="69.95" stroke="#262626" stroke-width="2"/>
<line x1="477.85" y1="26.8" x2="477.85" y2="29.3" stroke="#262626" stroke-width="2"/>
<line x1="477.85" y1="203" x2="477.85" y2="200.5" stroke="#262626" stroke-width="2"/>
<line x1="384" y1="114.9" x2="386.5" y2="114.9" stroke="#262626" stroke-width="2"/>
<line x1="575.2" y1="114.9" x2="572.7" y2="114.9" stroke="#262626" stroke-width="2"/>
<line x1="525.57" y1="26.8" x2="525.57" y2="29.3" stroke="#262626" stroke-width="2"/>
<line x1="525.57" y1="203" x2="525.57" y2="200.5" stroke="#262626" stroke-width="2"/>
<line x1="384" y1="159.85" x2="386.5" y2="159.85" stroke="#262626" stroke-width="2"/>
<line x1="575.2" y1="159.85" x2="572.7" y2="159.85" stroke="#262626" stroke-width="2"/>
<text transform="translate(360.79 30.8)" font-family="'Liberation Sans','DejaVu Sans',sans-serif" font-size="16" fill="#262626">-4</text>
<text transform="translate(372.98 229)" font-family="'Liberation Sans','DejaVu Sans',sans-serif" font-size="16" fill="#262626">-4</text>
<text transform="translate(361.11 75.75)" font-family="'Liberation Sans','DejaVu Sans',sans-serif" font-size="16" fill="#262626">-2</text>
<text transform="translate(420.86 229)" font-family="'Liberation Sans','DejaVu Sans',sans-serif" font-size="16" fill="#262626">-2</text>
<text transform="translate(366.28 120.7)" font-family="'Liberation Sans','DejaVu Sans',sans-serif" font-size="16" fill="#262626">0</text>
<text transform="translate(473.41 229)" font-family="'Liberation Sans','DejaVu Sans',sans-serif" font-size="16" fill="#262626">0</text>
<text transform="translate(366.44 165.65)" font-family="'Liberation Sans','DejaVu Sans',sans-serif" font-size="16" fill="#262626">2</text>
<text transform="translate(521.09 229)" font-family="'Liberation Sans','DejaVu Sans',sans-serif" font-size="16" fill="#262626">2</text>
<text transform="translate(366.12 210.6)" font-family="'Liberation Sans','DejaVu Sans',sans-serif" font-size="16" fill="#262626">4</text>
<text transform="translate(568.9 229)" font-family="'Liberation Sans','DejaVu Sans',sans-serif" font-size="16" fill="#262626">4</text>
<text transform="translate(473.75 250.3)" font-family="'Liberation Serif','DejaVu Serif',serif" font-size="22.83" font-style="italic" fill="#262626">x</text>
<text transform="translate(350.5 115.6) rotate(-90) translate(-4.1 0)" font-family="'Liberation Serif','DejaVu Serif',serif" font-size="20" font-style="italic" fill="#262626">p</text>
<rect x="28" y="129" width="285.5" height="99.5" rx="15" ry="15" fill="#c0ffff" stroke="#0d0df0" stroke-width="3.8"/>
<text transform="translate(42.42 174.73) scale(1.052 1.000)" font-family="'Liberation Serif','DejaVu Serif',serif" font-size="26.36">|in⟩</text>
<text transform="translate(83.98 176.6) scale(1.250 1.000)" font-family="'Liberation Serif','DejaVu Serif',serif" font-size="28.8">=</text>
<text transform="translate(86.68 162.84) scale(2.955 1.000)" font-family="'Liberation Serif','DejaVu Serif',serif" font-size="10.75">^</text>
<text transform="translate(112.8 184.05) scale(1.221 1.750)" font-family="'Liberation Serif','DejaVu Serif',serif" font-size="38.93">(</text>
<text transform="translate(286.57 184.05) scale(1.225 1.750)" font-family="'Liberation Serif','DejaVu Serif',serif" font-size="38.93">)</text>
<text transform="translate(177.88 158.7) scale(1.010 1.000)" font-family="'Liberation Serif','DejaVu Serif',serif" font-size="26">0.304</text>
<text transform="translate(126.68 189.3) scale(1.015 1.000)" font-family="'Liberation Serif','DejaVu Serif',serif" font-size="26">0.279</text>
<text transform="translate(191.98 189.3) scale(1.296 1.000)" font-family="'Liberation Serif','DejaVu Serif',serif" font-size="26">+</text>
<text transform="translate(217.28 189.3) scale(0.609 1.000)" font-family="'Liberation Serif','DejaVu Serif',serif" font-size="26">i</text>
<text transform="translate(222.9 189.3) scale(1.104 1.000)" font-family="'Liberation Serif','DejaVu Serif',serif" font-size="26">0.911</text>
<text transform="translate(33.6 211.5) scale(1.014 1.000)" font-family="'Liberation Serif','DejaVu Serif',serif" font-size="30.94">qubit</text>
<path d="M251.8 157.3 C255 118 283 79 334 74.5" fill="none" stroke="#cfab52" stroke-width="20.5"/>
<polygon points="333.2,48 360.4,73.2 335.2,100.8" fill="#cfab52"/>
<text transform="translate(245.5 48.5) rotate(-38) translate(-50.72 0)" font-family="'Liberation Serif','DejaVu Serif',serif" font-size="29.5">sq. “cat”</text>
<text transform="translate(269.5 78.5) rotate(-38) translate(-54.36 0)" font-family="'Liberation Serif','DejaVu Serif',serif" font-size="29.5">encoding</text>
<rect x="262.85" y="260.15" width="358.7" height="52.3" rx="12" ry="12" fill="#fde0c6" stroke="#ee1111" stroke-width="3.5"/>
<text transform="translate(267.71 293.6) scale(1.040 1.000)" font-family="'Liberation Serif','DejaVu Serif',serif" font-size="25.5">|enc. in</text>
<text transform="translate(341.32 293.6) scale(1.115 1.000)" font-family="'Liberation Serif','DejaVu Serif',serif" font-size="25.5">⟩</text>
<text transform="translate(359.28 293.6) scale(1.412 1.000)" font-family="'Liberation Serif','DejaVu Serif',serif" font-size="25.5">=</text>
<text transform="translate(387.37 293.6) scale(0.957 1.000)" font-family="'Liberation Serif','DejaVu Serif',serif" font-size="25.5">|0</text>
<text transform="translate(415.86 293.6) scale(1.049 1.000)" font-family="'Liberation Serif','DejaVu Serif',serif" font-size="25.5">⟩⟨0|in⟩</text>
<text transform="translate(492.75 293.6) scale(1.354 1.000)" font-family="'Liberation Serif','DejaVu Serif',serif" font-size="25.5">+</text>
<text transform="translate(517.62 293.6) scale(1.138 1.000)" font-family="'Liberation Serif','DejaVu Serif',serif" font-size="25.5">|1</text>
<text transform="translate(547.28 293.6) scale(1.039 1.000)" font-family="'Liberation Serif','DejaVu Serif',serif" font-size="25.5">⟩⟨1|in⟩</text>
<text transform="translate(406.42 297.2) scale(1.006 1.000)" font-family="'Liberation Serif','DejaVu Serif',serif" font-size="15">L</text>
<text transform="translate(537.79 297.2) scale(1.094 1.000)" font-family="'Liberation Serif','DejaVu Serif',serif" font-size="15">L</text>
<path d="M461 312 L461 360 C461 396 447 410.6 424 410.6" fill="none" stroke="#cfab52" stroke-width="20.3"/>
<polygon points="398,410.6 424.7,384 424.7,436.8" fill="#cfab52"/>
<rect x="316" y="400.6" width="22" height="20.2" fill="#cfab52"/>
<polygon points="292.7,410.6 317.5,384 317.5,436.8" fill="#cfab52"/>
<rect x="178" y="400.6" width="24" height="20.2" fill="#cfab52"/>
<polygon points="153.8,410.8 180,384.2 180,436.8" fill="#cfab52"/>
<rect x="72" y="400.6" width="22" height="20.2" fill="#cfab52"/>
<polygon points="48.4,410.8 73.8,384 73.8,436.8" fill="#cfab52"/>
<rect x="338.7" y="371.6" width="71.1" height="91.7" rx="10" ry="10" fill="#c056aa" stroke="#000" stroke-width="3"/>
<ellipse cx="250.4" cy="413.6" rx="50.1" ry="72.9" fill="#ff6e00" stroke="#000" stroke-width="3.2" stroke-dasharray="9.5 6"/>
<rect x="93.7" y="372.2" width="71.9" height="91.9" rx="10" ry="10" fill="#7aa87a" stroke="#000" stroke-width="3"/>
<polygon points="398,410.6 410,398 410,423.2" fill="#cfab52"/>
<polygon points="292.7,410.6 301,401.8 301,419.4" fill="#cfab52"/>
<polygon points="153.8,410.8 166.5,397.6 166.5,424" fill="#cfab52"/>
<text transform="translate(347.66 408) scale(0.995 1.000)" font-family="'Liberation Serif','DejaVu Serif',serif" font-size="30">amp</text>
<text transform="translate(347.95 443.2) scale(0.997 1.000)" font-family="'Liberation Serif','DejaVu Serif',serif" font-size="30">PSG</text>
<text transform="translate(207.15 403.2) scale(0.983 1.000)" font-family="'Liberation Serif','DejaVu Serif',serif" font-size="30">thermal</text>
<text transform="translate(220.9 438.7) scale(0.993 1.000)" font-family="'Liberation Serif','DejaVu Serif',serif" font-size="30">noise</text>
<text transform="translate(102.24 409.3) scale(1.007 1.000)" font-family="'Liberation Serif','DejaVu Serif',serif" font-size="30">attn</text>
<text transform="translate(102.53 445.6) scale(1.027 1.000)" font-family="'Liberation Serif','DejaVu Serif',serif" font-size="30">PSG</text>
<text transform="translate(1.2 415.58) scale(0.981 1.000)" font-family="'Liberation Serif','DejaVu Serif',serif" font-size="30.59" font-style="italic">ρ</text>
<text transform="translate(14.25 419.66) scale(1.146 1.000)" font-family="'Liberation Serif','DejaVu Serif',serif" font-size="23.65">out</text>
<text transform="translate(585.23 38.77) scale(1.113 1.000)" font-family="'Liberation Serif','DejaVu Serif',serif" font-size="39.67">(b)</text>
<line x1="653" y1="19.1" x2="742.1" y2="19.1" stroke="#0000ff" stroke-width="1.3"/>
<rect x="676.5" y="12" width="14.2" height="14.2" fill="#fff" stroke="#0000ff" stroke-width="1.3"/>
<rect x="703.2" y="11.3" width="15.6" height="15.6" fill="#0000ff"/>
<line x1="653" y1="60.6" x2="742.1" y2="60.6" stroke="#006400" stroke-width="1.3"/>
<polygon points="682.9,48.7 693.2,66.6 672.6,66.6" fill="#fff" stroke="#006400" stroke-width="1.3" stroke-linejoin="miter"/>
<polygon points="711.3,47.5 722.8,67.2 699.8,67.2" fill="#006400"/>
<line x1="889.1" y1="20.8" x2="977.9" y2="20.8" stroke="#ff0000" stroke-width="1.3"/>
<circle cx="919.3" cy="20.8" r="8.7" fill="#fff" stroke="#ff0000" stroke-width="1.3"/>
<circle cx="948.1" cy="20.8" r="9.7" fill="#ff0000"/>
<line x1="889.1" y1="59.9" x2="977.9" y2="59.9" stroke="#000000" stroke-width="1.3"/>
<polygon points="918.9,71.8 929.2,53.9 908.6,53.9" fill="#fff" stroke="#000000" stroke-width="1.3" stroke-linejoin="miter"/>
<polygon points="946.3,73 957.7,53.3 934.9,53.3" fill="#000000"/>
<text transform="translate(750.41 28) scale(1.108 1.000)" font-family="'Liberation Serif','DejaVu Serif',serif" font-size="37.1" font-style="italic">N</text>
<text transform="translate(790.6 29.81) scale(1.541 1.000)" font-family="'Liberation Serif','DejaVu Serif',serif" font-size="33.2">=</text>
<text transform="translate(827.84 28.04) scale(1.013 1.000)" font-family="'Liberation Serif','DejaVu Serif',serif" font-size="35.56">10</text>
<text transform="translate(750.41 69) scale(1.108 1.000)" font-family="'Liberation Serif','DejaVu Serif',serif" font-size="37.1" font-style="italic">N</text>
<text transform="translate(790.6 70.81) scale(1.541 1.000)" font-family="'Liberation Serif','DejaVu Serif',serif" font-size="33.2">=</text>
<text transform="translate(827.84 69.04) scale(1.013 1.000)" font-family="'Liberation Serif','DejaVu Serif',serif" font-size="35.56">10</text>
<text transform="translate(863.38 56.6) scale(1.042 1.000)" font-family="'Liberation Serif','DejaVu Serif',serif" font-size="24">3</text>
<text transform="translate(986.81 28) scale(1.108 1.000)" font-family="'Liberation Serif','DejaVu Serif',serif" font-size="37.1" font-style="italic">N</text>
<text transform="translate(1027 29.81) scale(1.541 1.000)" font-family="'Liberation Serif','DejaVu Serif',serif" font-size="33.2">=</text>
<text transform="translate(1064.24 28.04) scale(1.013 1.000)" font-family="'Liberation Serif','DejaVu Serif',serif" font-size="35.56">10</text>
<text transform="translate(1099.86 15.6) scale(1.080 1.000)" font-family="'Liberation Serif','DejaVu Serif',serif" font-size="24">2</text>
<text transform="translate(986.81 69) scale(1.108 1.000)" font-family="'Liberation Serif','DejaVu Serif',serif" font-size="37.1" font-style="italic">N</text>
<text transform="translate(1027 70.81) scale(1.541 1.000)" font-family="'Liberation Serif','DejaVu Serif',serif" font-size="33.2">=</text>
<text transform="translate(1064.24 69.04) scale(1.013 1.000)" font-family="'Liberation Serif','DejaVu Serif',serif" font-size="35.56">10</text>
<text transform="translate(1100.56 56.6) scale(0.931 1.000)" font-family="'Liberation Serif','DejaVu Serif',serif" font-size="24">4</text>
<rect x="724.5" y="133" width="388.5" height="269" fill="none" stroke="#262626" stroke-width="1.3"/>
<line x1="724.5" y1="402" x2="729.5" y2="402" stroke="#262626" stroke-width="1.3"/>
<line x1="1113" y1="402" x2="1108" y2="402" stroke="#262626" stroke-width="1.3"/>
<text transform="translate(690.38 415.5)" font-family="'Liberation Sans','DejaVu Sans',sans-serif" font-size="36" fill="#262626" stroke="#262626" stroke-width="0.35">0</text>
<line x1="724.5" y1="267.5" x2="729.5" y2="267.5" stroke="#262626" stroke-width="1.3"/>
<line x1="1113" y1="267.5" x2="1108" y2="267.5" stroke="#262626" stroke-width="1.3"/>
<text transform="translate(690.56 281)" font-family="'Liberation Sans','DejaVu Sans',sans-serif" font-size="36" fill="#262626" stroke="#262626" stroke-width="0.35">5</text>
<line x1="724.5" y1="133" x2="729.5" y2="133" stroke="#262626" stroke-width="1.3"/>
<line x1="1113" y1="133" x2="1108" y2="133" stroke="#262626" stroke-width="1.3"/>
<text transform="translate(670.36 146.5)" font-family="'Liberation Sans','DejaVu Sans',sans-serif" font-size="36" fill="#262626" stroke="#262626" stroke-width="0.35">10</text>
<line x1="724.5" y1="402" x2="724.5" y2="397" stroke="#262626" stroke-width="1.3"/>
<line x1="724.5" y1="133" x2="724.5" y2="138" stroke="#262626" stroke-width="1.3"/>
<text transform="translate(699.59 453)" font-family="'Liberation Sans','DejaVu Sans',sans-serif" font-size="36" fill="#262626" stroke="#262626" stroke-width="0.35">0.6</text>
<line x1="835.5" y1="402" x2="835.5" y2="397" stroke="#262626" stroke-width="1.3"/>
<line x1="835.5" y1="133" x2="835.5" y2="138" stroke="#262626" stroke-width="1.3"/>
<text transform="translate(810.68 453)" font-family="'Liberation Sans','DejaVu Sans',sans-serif" font-size="36" fill="#262626" stroke="#262626" stroke-width="0.35">0.7</text>
<line x1="946.5" y1="402" x2="946.5" y2="397" stroke="#262626" stroke-width="1.3"/>
<line x1="946.5" y1="133" x2="946.5" y2="138" stroke="#262626" stroke-width="1.3"/>
<text transform="translate(921.59 453)" font-family="'Liberation Sans','DejaVu Sans',sans-serif" font-size="36" fill="#262626" stroke="#262626" stroke-width="0.35">0.8</text>
<line x1="1057.5" y1="402" x2="1057.5" y2="397" stroke="#262626" stroke-width="1.3"/>
<line x1="1057.5" y1="133" x2="1057.5" y2="138" stroke="#262626" stroke-width="1.3"/>
<text transform="translate(1032.68 453)" font-family="'Liberation Sans','DejaVu Sans',sans-serif" font-size="36" fill="#262626" stroke="#262626" stroke-width="0.35">0.9</text>
<text transform="translate(724.38 125.03) scale(1.021 1.000)" font-family="'DejaVu Sans','Liberation Sans',sans-serif" font-size="32.57" font-weight="200" fill="#262626">×</text>
<text transform="translate(754.14 124.1) scale(0.949 1.000)" font-family="'Liberation Sans','DejaVu Sans',sans-serif" font-size="36" fill="#262626">10</text>
<text transform="translate(793.2 107) scale(1.150 1.000)" font-family="'Liberation Sans','DejaVu Sans',sans-serif" font-size="26" fill="#262626">5</text>
<text transform="translate(908.72 496.67) scale(1.099 1.000)" font-family="'Liberation Serif','DejaVu Serif',serif" font-size="40.6" font-style="italic" fill="#262626">μ</text>
<text transform="translate(666.5 320.2) rotate(-90) translate(-3.39 -0.81) scale(1.222 1.000)" font-family="'DejaVu Math TeX Gyre','DejaVu Serif',serif" font-size="34.66" fill="#262626">𝒟</text>
<text transform="translate(666.5 320.2) rotate(-90) translate(33.22 6) scale(1.183 1.000)" font-family="'Liberation Serif','DejaVu Serif',serif" font-size="24" fill="#262626">unc th</text>
<polyline points="724.5,133 744.8,133.27 771.1,139.46 797.4,182.23 823.7,351.86 850,402 876.3,402 902.6,402 928.9,402 955.2,402 981.5,402 1007.8,402 1034.1,402 1060.4,402 1086.7,359.77 1113,135.42" fill="none" stroke="#0000ff" stroke-width="1.2" stroke-linejoin="round"/>
<rect x="738.25" y="126.72" width="13.1" height="13.1" fill="none" stroke="#0000ff" stroke-width="1.3"/>
<rect x="764.55" y="132.91" width="13.1" height="13.1" fill="none" stroke="#0000ff" stroke-width="1.3"/>
<rect x="790.85" y="175.68" width="13.1" height="13.1" fill="none" stroke="#0000ff" stroke-width="1.3"/>
<rect x="817.15" y="345.31" width="13.1" height="13.1" fill="none" stroke="#0000ff" stroke-width="1.3"/>
<rect x="843.45" y="395.45" width="13.1" height="13.1" fill="none" stroke="#0000ff" stroke-width="1.3"/>
<rect x="869.75" y="395.45" width="13.1" height="13.1" fill="none" stroke="#0000ff" stroke-width="1.3"/>
<rect x="896.05" y="395.45" width="13.1" height="13.1" fill="none" stroke="#0000ff" stroke-width="1.3"/>
<rect x="922.35" y="395.45" width="13.1" height="13.1" fill="none" stroke="#0000ff" stroke-width="1.3"/>
<rect x="948.65" y="395.45" width="13.1" height="13.1" fill="none" stroke="#0000ff" stroke-width="1.3"/>
<rect x="974.95" y="395.45" width="13.1" height="13.1" fill="none" stroke="#0000ff" stroke-width="1.3"/>
<rect x="1001.25" y="395.45" width="13.1" height="13.1" fill="none" stroke="#0000ff" stroke-width="1.3"/>
<rect x="1027.55" y="395.45" width="13.1" height="13.1" fill="none" stroke="#0000ff" stroke-width="1.3"/>
<rect x="1053.85" y="395.45" width="13.1" height="13.1" fill="none" stroke="#0000ff" stroke-width="1.3"/>
<rect x="1080.15" y="353.22" width="13.1" height="13.1" fill="none" stroke="#0000ff" stroke-width="1.3"/>
<rect x="1106.45" y="128.87" width="13.1" height="13.1" fill="none" stroke="#0000ff" stroke-width="1.3"/>
<polyline points="724.5,134.7 744.8,141.34 771.1,200.79 797.4,380.02 823.7,402 850,402 876.3,402 902.6,402 928.9,402 955.2,402 981.5,402 1007.8,402 1034.1,402 1060.4,402 1086.7,402 1113,133" fill="none" stroke="#ff0000" stroke-width="1.2" stroke-linejoin="round"/>
<circle cx="744.8" cy="141.34" r="8.6" fill="none" stroke="#ff0000" stroke-width="1.3"/>
<circle cx="771.1" cy="200.79" r="8.6" fill="none" stroke="#ff0000" stroke-width="1.3"/>
<circle cx="797.4" cy="380.02" r="8.6" fill="none" stroke="#ff0000" stroke-width="1.3"/>
<circle cx="823.7" cy="402" r="8.6" fill="none" stroke="#ff0000" stroke-width="1.3"/>
<circle cx="850" cy="402" r="8.6" fill="none" stroke="#ff0000" stroke-width="1.3"/>
<circle cx="876.3" cy="402" r="8.6" fill="none" stroke="#ff0000" stroke-width="1.3"/>
<circle cx="902.6" cy="402" r="8.6" fill="none" stroke="#ff0000" stroke-width="1.3"/>
<circle cx="928.9" cy="402" r="8.6" fill="none" stroke="#ff0000" stroke-width="1.3"/>
<circle cx="955.2" cy="402" r="8.6" fill="none" stroke="#ff0000" stroke-width="1.3"/>
<circle cx="981.5" cy="402" r="8.6" fill="none" stroke="#ff0000" stroke-width="1.3"/>
<circle cx="1007.8" cy="402" r="8.6" fill="none" stroke="#ff0000" stroke-width="1.3"/>
<circle cx="1034.1" cy="402" r="8.6" fill="none" stroke="#ff0000" stroke-width="1.3"/>
<circle cx="1060.4" cy="402" r="8.6" fill="none" stroke="#ff0000" stroke-width="1.3"/>
<circle cx="1086.7" cy="402" r="8.6" fill="none" stroke="#ff0000" stroke-width="1.3"/>
<circle cx="1113" cy="133" r="8.6" fill="none" stroke="#ff0000" stroke-width="1.3"/>
<polyline points="724.5,158.2 744.8,216.93 771.1,390.43 797.4,402 823.7,402 850,402 876.3,402 902.6,402 928.9,402 955.2,402 981.5,402 1007.8,402 1034.1,402 1060.4,402 1086.7,402 1113,133" fill="none" stroke="#006400" stroke-width="1.2" stroke-linejoin="round"/>
<polygon points="744.8,205.33 754.8,222.73 734.8,222.73" fill="none" stroke="#006400" stroke-width="1.3" stroke-linejoin="miter"/>
<polygon points="771.1,378.83 781.1,396.23 761.1,396.23" fill="none" stroke="#006400" stroke-width="1.3" stroke-linejoin="miter"/>
<polygon points="797.4,390.4 807.4,407.8 787.4,407.8" fill="none" stroke="#006400" stroke-width="1.3" stroke-linejoin="miter"/>
<polygon points="823.7,390.4 833.7,407.8 813.7,407.8" fill="none" stroke="#006400" stroke-width="1.3" stroke-linejoin="miter"/>
<polygon points="850,390.4 860,407.8 840,407.8" fill="none" stroke="#006400" stroke-width="1.3" stroke-linejoin="miter"/>
<polygon points="876.3,390.4 886.3,407.8 866.3,407.8" fill="none" stroke="#006400" stroke-width="1.3" stroke-linejoin="miter"/>
<polygon points="902.6,390.4 912.6,407.8 892.6,407.8" fill="none" stroke="#006400" stroke-width="1.3" stroke-linejoin="miter"/>
<polygon points="928.9,390.4 938.9,407.8 918.9,407.8" fill="none" stroke="#006400" stroke-width="1.3" stroke-linejoin="miter"/>
<polygon points="955.2,390.4 965.2,407.8 945.2,407.8" fill="none" stroke="#006400" stroke-width="1.3" stroke-linejoin="miter"/>
<polygon points="981.5,390.4 991.5,407.8 971.5,407.8" fill="none" stroke="#006400" stroke-width="1.3" stroke-linejoin="miter"/>
<polygon points="1007.8,390.4 1017.8,407.8 997.8,407.8" fill="none" stroke="#006400" stroke-width="1.3" stroke-linejoin="miter"/>
<polygon points="1034.1,390.4 1044.1,407.8 1024.1,407.8" fill="none" stroke="#006400" stroke-width="1.3" stroke-linejoin="miter"/>
<polygon points="1060.4,390.4 1070.4,407.8 1050.4,407.8" fill="none" stroke="#006400" stroke-width="1.3" stroke-linejoin="miter"/>
<polygon points="1086.7,390.4 1096.7,407.8 1076.7,407.8" fill="none" stroke="#006400" stroke-width="1.3" stroke-linejoin="miter"/>
<polygon points="1113,121.4 1123,138.8 1103,138.8" fill="none" stroke="#006400" stroke-width="1.3" stroke-linejoin="miter"/>
<polyline points="724.5,199.6 744.8,336.9 771.1,402 797.4,402 823.7,402 850,402 876.3,402 902.6,402 928.9,402 955.2,402 981.5,402 1007.8,402 1034.1,402 1060.4,402 1086.7,402 1113,149.68" fill="none" stroke="#000000" stroke-width="1.2" stroke-linejoin="round"/>
<polygon points="744.8,348.5 754.8,331.1 734.8,331.1" fill="none" stroke="#000000" stroke-width="1.3" stroke-linejoin="miter"/>
<polygon points="771.1,413.6 781.1,396.2 761.1,396.2" fill="none" stroke="#000000" stroke-width="1.3" stroke-linejoin="miter"/>
<polygon points="797.4,413.6 807.4,396.2 787.4,396.2" fill="none" stroke="#000000" stroke-width="1.3" stroke-linejoin="miter"/>
<polygon points="823.7,413.6 833.7,396.2 813.7,396.2" fill="none" stroke="#000000" stroke-width="1.3" stroke-linejoin="miter"/>
<polygon points="850,413.6 860,396.2 840,396.2" fill="none" stroke="#000000" stroke-width="1.3" stroke-linejoin="miter"/>
<polygon points="876.3,413.6 886.3,396.2 866.3,396.2" fill="none" stroke="#000000" stroke-width="1.3" stroke-linejoin="miter"/>
<polygon points="902.6,413.6 912.6,396.2 892.6,396.2" fill="none" stroke="#000000" stroke-width="1.3" stroke-linejoin="miter"/>
<polygon points="928.9,413.6 938.9,396.2 918.9,396.2" fill="none" stroke="#000000" stroke-width="1.3" stroke-linejoin="miter"/>
<polygon points="955.2,413.6 965.2,396.2 945.2,396.2" fill="none" stroke="#000000" stroke-width="1.3" stroke-linejoin="miter"/>
<polygon points="981.5,413.6 991.5,396.2 971.5,396.2" fill="none" stroke="#000000" stroke-width="1.3" stroke-linejoin="miter"/>
<polygon points="1007.8,413.6 1017.8,396.2 997.8,396.2" fill="none" stroke="#000000" stroke-width="1.3" stroke-linejoin="miter"/>
<polygon points="1034.1,413.6 1044.1,396.2 1024.1,396.2" fill="none" stroke="#000000" stroke-width="1.3" stroke-linejoin="miter"/>
<polygon points="1060.4,413.6 1070.4,396.2 1050.4,396.2" fill="none" stroke="#000000" stroke-width="1.3" stroke-linejoin="miter"/>
<polygon points="1086.7,413.6 1096.7,396.2 1076.7,396.2" fill="none" stroke="#000000" stroke-width="1.3" stroke-linejoin="miter"/>
<polygon points="1113,161.28 1123,143.88 1103,143.88" fill="none" stroke="#000000" stroke-width="1.3" stroke-linejoin="miter"/>
<rect x="860" y="146.5" width="242.6" height="169.2" fill="none" stroke="#262626" stroke-width="1.3"/>
<line x1="860" y1="315.7" x2="864" y2="315.7" stroke="#262626" stroke-width="1.3"/>
<line x1="1102.6" y1="315.7" x2="1098.6" y2="315.7" stroke="#262626" stroke-width="1.3"/>
<text transform="translate(843.48 325)" font-family="'Liberation Sans','DejaVu Sans',sans-serif" font-size="26" fill="#262626">0</text>
<line x1="860" y1="259.3" x2="864" y2="259.3" stroke="#262626" stroke-width="1.3"/>
<line x1="1102.6" y1="259.3" x2="1098.6" y2="259.3" stroke="#262626" stroke-width="1.3"/>
<text transform="translate(822.06 268.6)" font-family="'Liberation Sans','DejaVu Sans',sans-serif" font-size="26" fill="#262626">0.2</text>
<line x1="860" y1="202.9" x2="864" y2="202.9" stroke="#262626" stroke-width="1.3"/>
<line x1="1102.6" y1="202.9" x2="1098.6" y2="202.9" stroke="#262626" stroke-width="1.3"/>
<text transform="translate(821.54 212.2)" font-family="'Liberation Sans','DejaVu Sans',sans-serif" font-size="26" fill="#262626">0.4</text>
<line x1="860" y1="146.5" x2="864" y2="146.5" stroke="#262626" stroke-width="1.3"/>
<line x1="1102.6" y1="146.5" x2="1098.6" y2="146.5" stroke="#262626" stroke-width="1.3"/>
<text transform="translate(821.93 155.8)" font-family="'Liberation Sans','DejaVu Sans',sans-serif" font-size="26" fill="#262626">0.6</text>
<line x1="860" y1="315.7" x2="860" y2="311.7" stroke="#262626" stroke-width="1.3"/>
<line x1="860" y1="146.5" x2="860" y2="150.5" stroke="#262626" stroke-width="1.3"/>
<text transform="translate(842.01 346)" font-family="'Liberation Sans','DejaVu Sans',sans-serif" font-size="26" fill="#262626">0.6</text>
<line x1="929.31" y1="315.7" x2="929.31" y2="311.7" stroke="#262626" stroke-width="1.3"/>
<line x1="929.31" y1="146.5" x2="929.31" y2="150.5" stroke="#262626" stroke-width="1.3"/>
<text transform="translate(911.39 346)" font-family="'Liberation Sans','DejaVu Sans',sans-serif" font-size="26" fill="#262626">0.7</text>
<line x1="998.63" y1="315.7" x2="998.63" y2="311.7" stroke="#262626" stroke-width="1.3"/>
<line x1="998.63" y1="146.5" x2="998.63" y2="150.5" stroke="#262626" stroke-width="1.3"/>
<text transform="translate(980.64 346)" font-family="'Liberation Sans','DejaVu Sans',sans-serif" font-size="26" fill="#262626">0.8</text>
<line x1="1067.94" y1="315.7" x2="1067.94" y2="311.7" stroke="#262626" stroke-width="1.3"/>
<line x1="1067.94" y1="146.5" x2="1067.94" y2="150.5" stroke="#262626" stroke-width="1.3"/>
<text transform="translate(1050.02 346)" font-family="'Liberation Sans','DejaVu Sans',sans-serif" font-size="26" fill="#262626">0.9</text>
<text transform="translate(970.77 364.55) scale(1.419 1.000)" font-family="'Liberation Serif','DejaVu Serif',serif" font-size="24.03" font-style="italic" fill="#262626">μ</text>
<text transform="translate(891 274) rotate(-90) translate(-2.34 -0.74) scale(1.091 1.000)" font-family="'DejaVu Math TeX Gyre','DejaVu Serif',serif" font-size="26.83" fill="#262626">𝒟</text>
<text transform="translate(891 274) rotate(-90) translate(23.98 4.2) scale(1.240 1.000)" font-family="'Liberation Serif','DejaVu Serif',serif" font-size="19" fill="#262626">con th</text>
<polyline points="860,174.7 872.8,174.7 889.2,174.7 905.6,174.7 922,174.7 938.4,174.7 954.8,179.21 971.2,195.57 987.6,244.35 1004,290.32 1020.4,300.75 1036.8,301.32 1053.2,292.01 1069.6,205.16 1086,173.29 1102.4,173.57" fill="none" stroke="#0000ff" stroke-width="1.2" stroke-linejoin="round"/>
<rect x="867.9" y="169.8" width="9.8" height="9.8" fill="#0000ff"/>
<rect x="884.3" y="169.8" width="9.8" height="9.8" fill="#0000ff"/>
<rect x="900.7" y="169.8" width="9.8" height="9.8" fill="#0000ff"/>
<rect x="917.1" y="169.8" width="9.8" height="9.8" fill="#0000ff"/>
<rect x="933.5" y="169.8" width="9.8" height="9.8" fill="#0000ff"/>
<rect x="949.9" y="174.31" width="9.8" height="9.8" fill="#0000ff"/>
<rect x="966.3" y="190.67" width="9.8" height="9.8" fill="#0000ff"/>
<rect x="982.7" y="239.45" width="9.8" height="9.8" fill="#0000ff"/>
<rect x="999.1" y="285.42" width="9.8" height="9.8" fill="#0000ff"/>
<rect x="1015.5" y="295.85" width="9.8" height="9.8" fill="#0000ff"/>
<rect x="1031.9" y="296.42" width="9.8" height="9.8" fill="#0000ff"/>
<rect x="1048.3" y="287.11" width="9.8" height="9.8" fill="#0000ff"/>
<rect x="1064.7" y="200.26" width="9.8" height="9.8" fill="#0000ff"/>
<rect x="1081.1" y="168.39" width="9.8" height="9.8" fill="#0000ff"/>
<rect x="1097.5" y="168.67" width="9.8" height="9.8" fill="#0000ff"/>
<polyline points="860,174.7 872.8,174.7 889.2,174.7 905.6,174.7 922,175.83 938.4,183.44 954.8,220.67 971.2,297.65 987.6,312.6 1004,315.7 1020.4,315.7 1036.8,315.7 1053.2,315.7 1069.6,306.11 1086,176.39 1102.4,174.7" fill="none" stroke="#ff0000" stroke-width="1.2" stroke-linejoin="round"/>
<circle cx="872.8" cy="174.7" r="6" fill="#ff0000"/>
<circle cx="889.2" cy="174.7" r="6" fill="#ff0000"/>
<circle cx="905.6" cy="174.7" r="6" fill="#ff0000"/>
<circle cx="922" cy="175.83" r="6" fill="#ff0000"/>
<circle cx="938.4" cy="183.44" r="6" fill="#ff0000"/>
<circle cx="954.8" cy="220.67" r="6" fill="#ff0000"/>
<circle cx="971.2" cy="297.65" r="6" fill="#ff0000"/>
<circle cx="987.6" cy="312.6" r="6" fill="#ff0000"/>
<circle cx="1004" cy="315.7" r="6" fill="#ff0000"/>
<circle cx="1020.4" cy="315.7" r="6" fill="#ff0000"/>
<circle cx="1036.8" cy="315.7" r="6" fill="#ff0000"/>
<circle cx="1053.2" cy="315.7" r="6" fill="#ff0000"/>
<circle cx="1069.6" cy="306.11" r="6" fill="#ff0000"/>
<circle cx="1086" cy="176.39" r="6" fill="#ff0000"/>
<circle cx="1102.4" cy="174.7" r="6" fill="#ff0000"/>
<polyline points="860,174.7 872.8,174.7 889.2,174.7 905.6,174.7 922,191.06 938.4,255.92 954.8,310.06 971.2,315.7 987.6,315.7 1004,315.7 1020.4,315.7 1036.8,315.7 1053.2,315.7 1069.6,315.7 1086,193.88 1102.4,174.7" fill="none" stroke="#006400" stroke-width="1.2" stroke-linejoin="round"/>
<polygon points="872.8,167.3 879.8,178.4 865.8,178.4" fill="#006400"/>
<polygon points="889.2,167.3 896.2,178.4 882.2,178.4" fill="#006400"/>
<polygon points="905.6,167.3 912.6,178.4 898.6,178.4" fill="#006400"/>
<polygon points="922,183.66 929,194.76 915,194.76" fill="#006400"/>
<polygon points="938.4,248.52 945.4,259.62 931.4,259.62" fill="#006400"/>
<polygon points="954.8,302.66 961.8,313.76 947.8,313.76" fill="#006400"/>
<polygon points="971.2,308.3 978.2,319.4 964.2,319.4" fill="#006400"/>
<polygon points="987.6,308.3 994.6,319.4 980.6,319.4" fill="#006400"/>
<polygon points="1004,308.3 1011,319.4 997,319.4" fill="#006400"/>
<polygon points="1020.4,308.3 1027.4,319.4 1013.4,319.4" fill="#006400"/>
<polygon points="1036.8,308.3 1043.8,319.4 1029.8,319.4" fill="#006400"/>
<polygon points="1053.2,308.3 1060.2,319.4 1046.2,319.4" fill="#006400"/>
<polygon points="1069.6,308.3 1076.6,319.4 1062.6,319.4" fill="#006400"/>
<polygon points="1086,186.48 1093,197.58 1079,197.58" fill="#006400"/>
<polygon points="1102.4,167.3 1109.4,178.4 1095.4,178.4" fill="#006400"/>
<polyline points="860,174.7 872.8,174.7 889.2,174.7 905.6,182.88 922,223.2 938.4,304.42 954.8,315.7 971.2,315.7 987.6,315.7 1004,315.7 1020.4,315.7 1036.8,315.7 1053.2,315.7 1069.6,315.7 1086,226.02 1102.4,174.7" fill="none" stroke="#000000" stroke-width="1.2" stroke-linejoin="round"/>
<polygon points="872.8,182.1 879.8,171 865.8,171" fill="#000000"/>
<polygon points="889.2,182.1 896.2,171 882.2,171" fill="#000000"/>
<polygon points="905.6,190.28 912.6,179.18 898.6,179.18" fill="#000000"/>
<polygon points="922,230.6 929,219.5 915,219.5" fill="#000000"/>
<polygon points="938.4,311.82 945.4,300.72 931.4,300.72" fill="#000000"/>
<polygon points="954.8,323.1 961.8,312 947.8,312" fill="#000000"/>
<polygon points="971.2,323.1 978.2,312 964.2,312" fill="#000000"/>
<polygon points="987.6,323.1 994.6,312 980.6,312" fill="#000000"/>
<polygon points="1004,323.1 1011,312 997,312" fill="#000000"/>
<polygon points="1020.4,323.1 1027.4,312 1013.4,312" fill="#000000"/>
<polygon points="1036.8,323.1 1043.8,312 1029.8,312" fill="#000000"/>
<polygon points="1053.2,323.1 1060.2,312 1046.2,312" fill="#000000"/>
<polygon points="1069.6,323.1 1076.6,312 1062.6,312" fill="#000000"/>
<polygon points="1086,233.42 1093,222.32 1079,222.32" fill="#000000"/>
<polygon points="1102.4,182.1 1109.4,171 1095.4,171" fill="#000000"/>
<circle cx="330.8" cy="537.2" r="9.7" fill="#ff0000"/>
<rect x="322.8" y="562.1" width="16" height="16" fill="#0000ff"/>
<text transform="translate(383.22 545.8) scale(1.105 1.000)" font-family="'Liberation Serif','DejaVu Serif',serif" font-size="34">unc</text>
<text transform="translate(381.69 579) scale(1.097 1.000)" font-family="'Liberation Serif','DejaVu Serif',serif" font-size="34">con</text>
<line x1="486.6" y1="537.4" x2="576.5" y2="537.4" stroke="#ff0000" stroke-width="4.6" stroke-dasharray="14.2 3.5 7.3 3.5"/>
<line x1="486.6" y1="570.4" x2="576.5" y2="570.4" stroke="#0000ff" stroke-width="4.7" stroke-dasharray="3.9 3.2"/>
<text transform="translate(583.6 545.8) scale(1.190 1.000)" font-family="'Liberation Serif','DejaVu Serif',serif" font-size="34">unc th</text>
<text transform="translate(582.62 579) scale(1.156 1.000)" font-family="'Liberation Serif','DejaVu Serif',serif" font-size="34">con th</text>
<line x1="731.2" y1="536.6" x2="820.8" y2="536.6" stroke="#000000" stroke-width="4.6" stroke-dasharray="16 11.2"/>
<line x1="731.9" y1="569.4" x2="820.8" y2="569.4" stroke="#006400" stroke-width="4.6"/>
<text transform="translate(829.71 544.9) scale(1.140 1.000)" font-family="'Liberation Serif','DejaVu Serif',serif" font-size="36.18" font-style="italic">N</text>
<text transform="translate(861.47 548.86) scale(0.706 1.000)" font-family="'Liberation Serif','DejaVu Serif',serif" font-size="74.58">→</text>
<text transform="translate(915.58 550.07) scale(1.121 1.000)" font-family="'Liberation Serif','DejaVu Serif',serif" font-size="43.9">∞</text>
<text transform="translate(828.04 578) scale(1.120 1.000)" font-family="'Liberation Serif','DejaVu Serif',serif" font-size="34">nomit</text>
<text transform="translate(309.15 651.2)" font-family="'Liberation Serif','DejaVu Serif',serif" font-size="43.3">Two-projector obs. measurement</text>
<text transform="translate(141.89 1114.8)" font-family="'Liberation Serif','DejaVu Serif',serif" font-size="43.3">Squeezed displaced-Fock-projector obs. measurement</text>
<text transform="translate(20.62 701.03) scale(1.106 1.000)" font-family="'Liberation Serif','DejaVu Serif',serif" font-size="40.33">(c)</text>
<text transform="translate(585.78 700.94) scale(1.044 1.000)" font-family="'Liberation Serif','DejaVu Serif',serif" font-size="41.21">(d)</text>
<text transform="translate(21.07 1166.03) scale(1.063 1.000)" font-family="'Liberation Serif','DejaVu Serif',serif" font-size="40.77">(e)</text>
<text transform="translate(585.78 1165.94) scale(1.044 1.000)" font-family="'Liberation Serif','DejaVu Serif',serif" font-size="41.2">(f)</text>
<defs><clipPath id="clipc"><rect x="157.2" y="689.6" width="389.2" height="270"/></clipPath></defs>
<circle cx="157.2" cy="722.5" r="9.3" fill="#ff0000"/>
<circle cx="212.8" cy="781.7" r="9.3" fill="#ff0000"/>
<circle cx="268.4" cy="828.7" r="9.3" fill="#ff0000"/>
<circle cx="324" cy="887.4" r="9.3" fill="#ff0000"/>
<circle cx="379.6" cy="936.6" r="9.3" fill="#ff0000"/>
<circle cx="435.2" cy="942.4" r="9.3" fill="#ff0000"/>
<circle cx="490.8" cy="941.3" r="9.3" fill="#ff0000"/>
<circle cx="546.4" cy="940.8" r="9.3" fill="#ff0000"/>
<rect x="149.6" y="767.8" width="15.2" height="15.2" fill="#0000ff"/>
<rect x="205.2" y="801.9" width="15.2" height="15.2" fill="#0000ff"/>
<rect x="260.8" y="838.2" width="15.2" height="15.2" fill="#0000ff"/>
<rect x="316.4" y="887.9" width="15.2" height="15.2" fill="#0000ff"/>
<rect x="372" y="929" width="15.2" height="15.2" fill="#0000ff"/>
<rect x="427.6" y="934.8" width="15.2" height="15.2" fill="#0000ff"/>
<rect x="483.2" y="933.7" width="15.2" height="15.2" fill="#0000ff"/>
<rect x="538.8" y="933.2" width="15.2" height="15.2" fill="#0000ff"/>
<g clip-path="url(#clipc)">
<polyline points="157.2,709.2 268.1,826.4 323.5,885.2 350,911 379,928.2 407,935.5 435,939.2 490,940.5 546.4,940.8" fill="none" stroke="#ff0000" stroke-width="4.6" stroke-dasharray="14.2 3.5 7.3 3.5" stroke-linejoin="round"/>
<polyline points="157.2,788.1 212.6,803.1 240,818.5 268.1,839.3 295,864 323.5,892.7 350,913 379,928.5 407,935.8 435,939.3 490,940.5 546.4,940.8" fill="none" stroke="#0000ff" stroke-width="4.7" stroke-dasharray="3.9 3.2" stroke-linejoin="round"/>
<line x1="157.2" y1="941" x2="546.4" y2="941" stroke="#000000" stroke-width="4.6" stroke-dasharray="14.5 13.5"/>
<line x1="157.2" y1="883.1" x2="546.4" y2="883.1" stroke="#006400" stroke-width="4.4"/>
</g>
<rect x="157.2" y="689.6" width="389.2" height="270" fill="none" stroke="#262626" stroke-width="1.3"/>
<path d="M157.2 959.6v-5M157.2 689.6v5M173.94 959.6v-2.6M173.94 689.6v2.6M183.73 959.6v-2.6M183.73 689.6v2.6M190.67 959.6v-2.6M190.67 689.6v2.6M196.06 959.6v-2.6M196.06 689.6v2.6M200.47 959.6v-2.6M200.47 689.6v2.6M204.19 959.6v-2.6M204.19 689.6v2.6M207.41 959.6v-2.6M207.41 689.6v2.6M210.26 959.6v-2.6M210.26 689.6v2.6M212.8 959.6v-5M212.8 689.6v5M229.54 959.6v-2.6M229.54 689.6v2.6M239.33 959.6v-2.6M239.33 689.6v2.6M246.27 959.6v-2.6M246.27 689.6v2.6M251.66 959.6v-2.6M251.66 689.6v2.6M256.07 959.6v-2.6M256.07 689.6v2.6M259.79 959.6v-2.6M259.79 689.6v2.6M263.01 959.6v-2.6M263.01 689.6v2.6M265.86 959.6v-2.6M265.86 689.6v2.6M268.4 959.6v-5M268.4 689.6v5M285.14 959.6v-2.6M285.14 689.6v2.6M294.93 959.6v-2.6M294.93 689.6v2.6M301.87 959.6v-2.6M301.87 689.6v2.6M307.26 959.6v-2.6M307.26 689.6v2.6M311.67 959.6v-2.6M311.67 689.6v2.6M315.39 959.6v-2.6M315.39 689.6v2.6M318.61 959.6v-2.6M318.61 689.6v2.6M321.46 959.6v-2.6M321.46 689.6v2.6M324 959.6v-5M324 689.6v5M340.74 959.6v-2.6M340.74 689.6v2.6M350.53 959.6v-2.6M350.53 689.6v2.6M357.47 959.6v-2.6M357.47 689.6v2.6M362.86 959.6v-2.6M362.86 689.6v2.6M367.27 959.6v-2.6M367.27 689.6v2.6M370.99 959.6v-2.6M370.99 689.6v2.6M374.21 959.6v-2.6M374.21 689.6v2.6M377.06 959.6v-2.6M377.06 689.6v2.6M379.6 959.6v-5M379.6 689.6v5M396.34 959.6v-2.6M396.34 689.6v2.6M406.13 959.6v-2.6M406.13 689.6v2.6M413.07 959.6v-2.6M413.07 689.6v2.6M418.46 959.6v-2.6M418.46 689.6v2.6M422.87 959.6v-2.6M422.87 689.6v2.6M426.59 959.6v-2.6M426.59 689.6v2.6M429.81 959.6v-2.6M429.81 689.6v2.6M432.66 959.6v-2.6M432.66 689.6v2.6M435.2 959.6v-5M435.2 689.6v5M451.94 959.6v-2.6M451.94 689.6v2.6M461.73 959.6v-2.6M461.73 689.6v2.6M468.67 959.6v-2.6M468.67 689.6v2.6M474.06 959.6v-2.6M474.06 689.6v2.6M478.47 959.6v-2.6M478.47 689.6v2.6M482.19 959.6v-2.6M482.19 689.6v2.6M485.41 959.6v-2.6M485.41 689.6v2.6M488.26 959.6v-2.6M488.26 689.6v2.6M490.8 959.6v-5M490.8 689.6v5M507.54 959.6v-2.6M507.54 689.6v2.6M517.33 959.6v-2.6M517.33 689.6v2.6M524.27 959.6v-2.6M524.27 689.6v2.6M529.66 959.6v-2.6M529.66 689.6v2.6M534.07 959.6v-2.6M534.07 689.6v2.6M537.79 959.6v-2.6M537.79 689.6v2.6M541.01 959.6v-2.6M541.01 689.6v2.6M543.86 959.6v-2.6M543.86 689.6v2.6M546.4 959.6v-5M546.4 689.6v5M157.2 958.17h2.6M546.4 958.17h-2.6M157.2 954.63h2.6M546.4 954.63h-2.6M157.2 951.5h2.6M546.4 951.5h-2.6M157.2 948.71h5M546.4 948.71h-5M157.2 930.33h2.6M546.4 930.33h-2.6M157.2 919.57h2.6M546.4 919.57h-2.6M157.2 911.94h2.6M546.4 911.94h-2.6M157.2 906.02h2.6M546.4 906.02h-2.6M157.2 901.19h2.6M546.4 901.19h-2.6M157.2 897.1h2.6M546.4 897.1h-2.6M157.2 893.56h2.6M546.4 893.56h-2.6M157.2 890.43h2.6M546.4 890.43h-2.6M157.2 887.64h5M546.4 887.64h-5M157.2 869.26h2.6M546.4 869.26h-2.6M157.2 858.5h2.6M546.4 858.5h-2.6M157.2 850.87h2.6M546.4 850.87h-2.6M157.2 844.95h2.6M546.4 844.95h-2.6M157.2 840.12h2.6M546.4 840.12h-2.6M157.2 836.03h2.6M546.4 836.03h-2.6M157.2 832.49h2.6M546.4 832.49h-2.6M157.2 829.36h2.6M546.4 829.36h-2.6M157.2 826.57h5M546.4 826.57h-5M157.2 808.19h2.6M546.4 808.19h-2.6M157.2 797.43h2.6M546.4 797.43h-2.6M157.2 789.8h2.6M546.4 789.8h-2.6M157.2 783.88h2.6M546.4 783.88h-2.6M157.2 779.05h2.6M546.4 779.05h-2.6M157.2 774.96h2.6M546.4 774.96h-2.6M157.2 771.42h2.6M546.4 771.42h-2.6M157.2 768.29h2.6M546.4 768.29h-2.6M157.2 765.5h5M546.4 765.5h-5M157.2 747.12h2.6M546.4 747.12h-2.6M157.2 736.36h2.6M546.4 736.36h-2.6M157.2 728.73h2.6M546.4 728.73h-2.6M157.2 722.81h2.6M546.4 722.81h-2.6M157.2 717.98h2.6M546.4 717.98h-2.6M157.2 713.89h2.6M546.4 713.89h-2.6M157.2 710.35h2.6M546.4 710.35h-2.6M157.2 707.22h2.6M546.4 707.22h-2.6M157.2 704.43h5M546.4 704.43h-5" fill="none" stroke="#262626" stroke-width="1.3"/>
<text x="156.7" y="1018.2" text-anchor="middle" font-family="'Liberation Sans','DejaVu Sans',sans-serif" font-size="36" fill="#262626" stroke="#262626" stroke-width="0.35">10<tspan font-size="28.6" dy="-16">0</tspan></text>
<text x="267.9" y="1018.2" text-anchor="middle" font-family="'Liberation Sans','DejaVu Sans',sans-serif" font-size="36" fill="#262626" stroke="#262626" stroke-width="0.35">10<tspan font-size="28.6" dy="-16">2</tspan></text>
<text x="379.1" y="1018.2" text-anchor="middle" font-family="'Liberation Sans','DejaVu Sans',sans-serif" font-size="36" fill="#262626" stroke="#262626" stroke-width="0.35">10<tspan font-size="28.6" dy="-16">4</tspan></text>
<text x="490.3" y="1018.2" text-anchor="middle" font-family="'Liberation Sans','DejaVu Sans',sans-serif" font-size="36" fill="#262626" stroke="#262626" stroke-width="0.35">10<tspan font-size="28.6" dy="-16">6</tspan></text>
<text x="145.2" y="723.63" text-anchor="end" font-family="'Liberation Sans','DejaVu Sans',sans-serif" font-size="36" fill="#262626" stroke="#262626" stroke-width="0.35">10<tspan font-size="28.6" dy="-16">1</tspan></text>
<text x="145.2" y="784.7" text-anchor="end" font-family="'Liberation Sans','DejaVu Sans',sans-serif" font-size="36" fill="#262626" stroke="#262626" stroke-width="0.35">10<tspan font-size="28.6" dy="-16">0</tspan></text>
<text x="145.2" y="845.77" text-anchor="end" font-family="'Liberation Sans','DejaVu Sans',sans-serif" font-size="36" fill="#262626" stroke="#262626" stroke-width="0.35">10<tspan font-size="28.6" dy="-16">-1</tspan></text>
<text x="145.2" y="906.84" text-anchor="end" font-family="'Liberation Sans','DejaVu Sans',sans-serif" font-size="36" fill="#262626" stroke="#262626" stroke-width="0.35">10<tspan font-size="28.6" dy="-16">-2</tspan></text>
<text transform="translate(336.55 1063.7) scale(1.100 1.000)" font-family="'Liberation Serif','DejaVu Serif',serif" font-size="40.61" font-style="italic" fill="#262626">N</text>
<line x1="21.85" y1="808.85" x2="21.85" y2="840.35" stroke="#262626" stroke-width="1.9"/>
<text transform="translate(54 839.5) rotate(-90) translate(-3.06 -1.17) scale(1.146 1.000)" font-family="'DejaVu Math TeX Gyre','DejaVu Serif',serif" font-size="33.42" fill="#262626">𝒟</text>
<text transform="translate(318.09 727.12) scale(1.180 1.000)" font-family="'DejaVu Math TeX Gyre','DejaVu Serif',serif" font-size="34.01">ℱ</text>
<text transform="translate(347.18 731.1) scale(1.250 1.000)" font-family="'Liberation Serif','DejaVu Serif',serif" font-size="25">nomit</text>
<text transform="translate(433.18 728.4) scale(1.508 1.000)" font-family="'Liberation Serif','DejaVu Serif',serif" font-size="35.6">=</text>
<text transform="translate(468.7 725.4) scale(1.117 1.000)" font-family="'Liberation Serif','DejaVu Serif',serif" font-size="33.24">0.89</text>
<text transform="translate(349.19 764.82) scale(1.180 1.000)" font-family="'DejaVu Math TeX Gyre','DejaVu Serif',serif" font-size="34.01">ℱ</text>
<text transform="translate(378.27 768.8) scale(1.254 1.000)" font-family="'Liberation Serif','DejaVu Serif',serif" font-size="25">mit</text>
<text transform="translate(433.18 766.1) scale(1.508 1.000)" font-family="'Liberation Serif','DejaVu Serif',serif" font-size="35.6">=</text>
<text transform="translate(468.71 763.1) scale(1.107 1.000)" font-family="'Liberation Serif','DejaVu Serif',serif" font-size="33.24">0.96</text>
<defs><clipPath id="clipd"><rect x="724.9" y="686.9" width="389.2" height="269.3"/></clipPath></defs>
<circle cx="724.9" cy="704.6" r="9.3" fill="#ff0000"/>
<circle cx="780.5" cy="770.6" r="9.3" fill="#ff0000"/>
<circle cx="836.1" cy="839.3" r="9.3" fill="#ff0000"/>
<circle cx="891.7" cy="891" r="9.3" fill="#ff0000"/>
<circle cx="947.3" cy="928.3" r="9.3" fill="#ff0000"/>
<circle cx="1002.9" cy="934.2" r="9.3" fill="#ff0000"/>
<circle cx="1058.5" cy="935.4" r="9.3" fill="#ff0000"/>
<circle cx="1114.1" cy="935.4" r="9.3" fill="#ff0000"/>
<rect x="717.3" y="775.2" width="15.2" height="15.2" fill="#0000ff"/>
<rect x="772.9" y="796.6" width="15.2" height="15.2" fill="#0000ff"/>
<rect x="828.5" y="848.5" width="15.2" height="15.2" fill="#0000ff"/>
<rect x="884.1" y="884.1" width="15.2" height="15.2" fill="#0000ff"/>
<rect x="939.7" y="920.7" width="15.2" height="15.2" fill="#0000ff"/>
<rect x="995.3" y="926.6" width="15.2" height="15.2" fill="#0000ff"/>
<rect x="1050.9" y="927.8" width="15.2" height="15.2" fill="#0000ff"/>
<rect x="1106.5" y="927.8" width="15.2" height="15.2" fill="#0000ff"/>
<g clip-path="url(#clipd)">
<polyline points="724.9,705.5 780.6,770.6 836,839.3 891.1,890.7 918,911 947.2,924.8 975,930.5 1002.5,933 1057.9,935 1114.1,935.4" fill="none" stroke="#ff0000" stroke-width="4.6" stroke-dasharray="14.2 3.5 7.3 3.5" stroke-linejoin="round"/>
<polyline points="724.9,794.5 780.6,807.6 808,826 836,850.5 860,872 885.5,893.5 915,911 947.2,924.8 975,930.5 1002.5,933 1057.9,935 1114.1,935.4" fill="none" stroke="#0000ff" stroke-width="4.7" stroke-dasharray="3.9 3.2" stroke-linejoin="round"/>
<line x1="724.9" y1="936.2" x2="1114.1" y2="936.2" stroke="#000000" stroke-width="4.6" stroke-dasharray="14.5 13.5"/>
<line x1="724.9" y1="898.9" x2="1114.1" y2="898.9" stroke="#006400" stroke-width="4.4"/>
</g>
<rect x="724.9" y="686.9" width="389.2" height="269.3" fill="none" stroke="#262626" stroke-width="1.3"/>
<path d="M724.9 956.2v-5M724.9 686.9v5M741.64 956.2v-2.6M741.64 686.9v2.6M751.43 956.2v-2.6M751.43 686.9v2.6M758.37 956.2v-2.6M758.37 686.9v2.6M763.76 956.2v-2.6M763.76 686.9v2.6M768.17 956.2v-2.6M768.17 686.9v2.6M771.89 956.2v-2.6M771.89 686.9v2.6M775.11 956.2v-2.6M775.11 686.9v2.6M777.96 956.2v-2.6M777.96 686.9v2.6M780.5 956.2v-5M780.5 686.9v5M797.24 956.2v-2.6M797.24 686.9v2.6M807.03 956.2v-2.6M807.03 686.9v2.6M813.97 956.2v-2.6M813.97 686.9v2.6M819.36 956.2v-2.6M819.36 686.9v2.6M823.77 956.2v-2.6M823.77 686.9v2.6M827.49 956.2v-2.6M827.49 686.9v2.6M830.71 956.2v-2.6M830.71 686.9v2.6M833.56 956.2v-2.6M833.56 686.9v2.6M836.1 956.2v-5M836.1 686.9v5M852.84 956.2v-2.6M852.84 686.9v2.6M862.63 956.2v-2.6M862.63 686.9v2.6M869.57 956.2v-2.6M869.57 686.9v2.6M874.96 956.2v-2.6M874.96 686.9v2.6M879.37 956.2v-2.6M879.37 686.9v2.6M883.09 956.2v-2.6M883.09 686.9v2.6M886.31 956.2v-2.6M886.31 686.9v2.6M889.16 956.2v-2.6M889.16 686.9v2.6M891.7 956.2v-5M891.7 686.9v5M908.44 956.2v-2.6M908.44 686.9v2.6M918.23 956.2v-2.6M918.23 686.9v2.6M925.17 956.2v-2.6M925.17 686.9v2.6M930.56 956.2v-2.6M930.56 686.9v2.6M934.97 956.2v-2.6M934.97 686.9v2.6M938.69 956.2v-2.6M938.69 686.9v2.6M941.91 956.2v-2.6M941.91 686.9v2.6M944.76 956.2v-2.6M944.76 686.9v2.6M947.3 956.2v-5M947.3 686.9v5M964.04 956.2v-2.6M964.04 686.9v2.6M973.83 956.2v-2.6M973.83 686.9v2.6M980.77 956.2v-2.6M980.77 686.9v2.6M986.16 956.2v-2.6M986.16 686.9v2.6M990.57 956.2v-2.6M990.57 686.9v2.6M994.29 956.2v-2.6M994.29 686.9v2.6M997.51 956.2v-2.6M997.51 686.9v2.6M1000.36 956.2v-2.6M1000.36 686.9v2.6M1002.9 956.2v-5M1002.9 686.9v5M1019.64 956.2v-2.6M1019.64 686.9v2.6M1029.43 956.2v-2.6M1029.43 686.9v2.6M1036.37 956.2v-2.6M1036.37 686.9v2.6M1041.76 956.2v-2.6M1041.76 686.9v2.6M1046.17 956.2v-2.6M1046.17 686.9v2.6M1049.89 956.2v-2.6M1049.89 686.9v2.6M1053.11 956.2v-2.6M1053.11 686.9v2.6M1055.96 956.2v-2.6M1055.96 686.9v2.6M1058.5 956.2v-5M1058.5 686.9v5M1075.24 956.2v-2.6M1075.24 686.9v2.6M1085.03 956.2v-2.6M1085.03 686.9v2.6M1091.97 956.2v-2.6M1091.97 686.9v2.6M1097.36 956.2v-2.6M1097.36 686.9v2.6M1101.77 956.2v-2.6M1101.77 686.9v2.6M1105.49 956.2v-2.6M1105.49 686.9v2.6M1108.71 956.2v-2.6M1108.71 686.9v2.6M1111.56 956.2v-2.6M1111.56 686.9v2.6M1114.1 956.2v-5M1114.1 686.9v5M724.9 950.34h2.6M1114.1 950.34h-2.6M724.9 938.49h2.6M1114.1 938.49h-2.6M724.9 930.08h2.6M1114.1 930.08h-2.6M724.9 923.56h2.6M1114.1 923.56h-2.6M724.9 918.23h2.6M1114.1 918.23h-2.6M724.9 913.72h2.6M1114.1 913.72h-2.6M724.9 909.82h2.6M1114.1 909.82h-2.6M724.9 906.38h2.6M1114.1 906.38h-2.6M724.9 903.3h5M1114.1 903.3h-5M724.9 883.04h2.6M1114.1 883.04h-2.6M724.9 871.19h2.6M1114.1 871.19h-2.6M724.9 862.78h2.6M1114.1 862.78h-2.6M724.9 856.26h2.6M1114.1 856.26h-2.6M724.9 850.93h2.6M1114.1 850.93h-2.6M724.9 846.42h2.6M1114.1 846.42h-2.6M724.9 842.52h2.6M1114.1 842.52h-2.6M724.9 839.08h2.6M1114.1 839.08h-2.6M724.9 836h5M1114.1 836h-5M724.9 815.74h2.6M1114.1 815.74h-2.6M724.9 803.89h2.6M1114.1 803.89h-2.6M724.9 795.48h2.6M1114.1 795.48h-2.6M724.9 788.96h2.6M1114.1 788.96h-2.6M724.9 783.63h2.6M1114.1 783.63h-2.6M724.9 779.12h2.6M1114.1 779.12h-2.6M724.9 775.22h2.6M1114.1 775.22h-2.6M724.9 771.78h2.6M1114.1 771.78h-2.6M724.9 768.7h5M1114.1 768.7h-5M724.9 748.44h2.6M1114.1 748.44h-2.6M724.9 736.59h2.6M1114.1 736.59h-2.6M724.9 728.18h2.6M1114.1 728.18h-2.6M724.9 721.66h2.6M1114.1 721.66h-2.6M724.9 716.33h2.6M1114.1 716.33h-2.6M724.9 711.82h2.6M1114.1 711.82h-2.6M724.9 707.92h2.6M1114.1 707.92h-2.6M724.9 704.48h2.6M1114.1 704.48h-2.6M724.9 701.4h5M1114.1 701.4h-5" fill="none" stroke="#262626" stroke-width="1.3"/>
<text x="724.4" y="1014.8" text-anchor="middle" font-family="'Liberation Sans','DejaVu Sans',sans-serif" font-size="36" fill="#262626" stroke="#262626" stroke-width="0.35">10<tspan font-size="28.6" dy="-16">0</tspan></text>
<text x="835.6" y="1014.8" text-anchor="middle" font-family="'Liberation Sans','DejaVu Sans',sans-serif" font-size="36" fill="#262626" stroke="#262626" stroke-width="0.35">10<tspan font-size="28.6" dy="-16">2</tspan></text>
<text x="946.8" y="1014.8" text-anchor="middle" font-family="'Liberation Sans','DejaVu Sans',sans-serif" font-size="36" fill="#262626" stroke="#262626" stroke-width="0.35">10<tspan font-size="28.6" dy="-16">4</tspan></text>
<text x="1058" y="1014.8" text-anchor="middle" font-family="'Liberation Sans','DejaVu Sans',sans-serif" font-size="36" fill="#262626" stroke="#262626" stroke-width="0.35">10<tspan font-size="28.6" dy="-16">6</tspan></text>
<text x="712.9" y="720.6" text-anchor="end" font-family="'Liberation Sans','DejaVu Sans',sans-serif" font-size="36" fill="#262626" stroke="#262626" stroke-width="0.35">10<tspan font-size="28.6" dy="-16">1</tspan></text>
<text x="712.9" y="787.9" text-anchor="end" font-family="'Liberation Sans','DejaVu Sans',sans-serif" font-size="36" fill="#262626" stroke="#262626" stroke-width="0.35">10<tspan font-size="28.6" dy="-16">0</tspan></text>
<text x="712.9" y="855.2" text-anchor="end" font-family="'Liberation Sans','DejaVu Sans',sans-serif" font-size="36" fill="#262626" stroke="#262626" stroke-width="0.35">10<tspan font-size="28.6" dy="-16">-1</tspan></text>
<text x="712.9" y="922.5" text-anchor="end" font-family="'Liberation Sans','DejaVu Sans',sans-serif" font-size="36" fill="#262626" stroke="#262626" stroke-width="0.35">10<tspan font-size="28.6" dy="-16">-2</tspan></text>
<text transform="translate(904.25 1060.3) scale(1.100 1.000)" font-family="'Liberation Serif','DejaVu Serif',serif" font-size="40.61" font-style="italic" fill="#262626">N</text>
<line x1="589.55" y1="805.8" x2="589.55" y2="837.3" stroke="#262626" stroke-width="1.9"/>
<text transform="translate(621.7 836.45) rotate(-90) translate(-3.06 -1.17) scale(1.146 1.000)" font-family="'DejaVu Math TeX Gyre','DejaVu Serif',serif" font-size="33.42" fill="#262626">𝒟</text>
<text transform="translate(890.89 727.82) scale(1.180 1.000)" font-family="'DejaVu Math TeX Gyre','DejaVu Serif',serif" font-size="34.01">ℱ</text>
<text transform="translate(919.98 731.8) scale(1.250 1.000)" font-family="'Liberation Serif','DejaVu Serif',serif" font-size="25">nomit</text>
<text transform="translate(1004.98 729.1) scale(1.508 1.000)" font-family="'Liberation Serif','DejaVu Serif',serif" font-size="35.6">=</text>
<text transform="translate(1040.5 726.1) scale(1.117 1.000)" font-family="'Liberation Serif','DejaVu Serif',serif" font-size="33.24">0.89</text>
<text transform="translate(921.79 765.12) scale(1.180 1.000)" font-family="'DejaVu Math TeX Gyre','DejaVu Serif',serif" font-size="34.01">ℱ</text>
<text transform="translate(950.89 769.1) scale(1.230 1.000)" font-family="'Liberation Serif','DejaVu Serif',serif" font-size="25">mit</text>
<text transform="translate(1004.98 766.4) scale(1.508 1.000)" font-family="'Liberation Serif','DejaVu Serif',serif" font-size="35.6">=</text>
<text transform="translate(1040.52 763.4) scale(1.101 1.000)" font-family="'Liberation Serif','DejaVu Serif',serif" font-size="33.24">0.94</text>
<defs><clipPath id="clipe"><rect x="158.1" y="1148.4" width="385.2" height="269.9"/></clipPath></defs>
<circle cx="286.5" cy="1152" r="9.3" fill="#ff0000"/>
<circle cx="329.3" cy="1208.8" r="9.3" fill="#ff0000"/>
<circle cx="372.1" cy="1271.2" r="9.3" fill="#ff0000"/>
<circle cx="414.9" cy="1341.8" r="9.3" fill="#ff0000"/>
<circle cx="457.7" cy="1387.8" r="9.3" fill="#ff0000"/>
<circle cx="500.5" cy="1400" r="9.3" fill="#ff0000"/>
<circle cx="543.3" cy="1398.6" r="9.3" fill="#ff0000"/>
<rect x="150.5" y="1223.1" width="15.2" height="15.2" fill="#0000ff"/>
<rect x="193.3" y="1217.2" width="15.2" height="15.2" fill="#0000ff"/>
<rect x="236.1" y="1226.3" width="15.2" height="15.2" fill="#0000ff"/>
<rect x="278.9" y="1227.1" width="15.2" height="15.2" fill="#0000ff"/>
<rect x="321.7" y="1238.5" width="15.2" height="15.2" fill="#0000ff"/>
<rect x="364.5" y="1277.2" width="15.2" height="15.2" fill="#0000ff"/>
<rect x="407.3" y="1341.3" width="15.2" height="15.2" fill="#0000ff"/>
<rect x="450.1" y="1382.2" width="15.2" height="15.2" fill="#0000ff"/>
<rect x="492.9" y="1392.4" width="15.2" height="15.2" fill="#0000ff"/>
<rect x="535.7" y="1391" width="15.2" height="15.2" fill="#0000ff"/>
<g clip-path="url(#clipe)">
<polyline points="283,1146.5 286.5,1152 329.2,1208.8 371.3,1271.2 393,1306 414.9,1340 436,1364 456.8,1380.6 478,1391 500.7,1397 543.3,1398.6" fill="none" stroke="#ff0000" stroke-width="4.6" stroke-dasharray="14.2 3.5 7.3 3.5" stroke-linejoin="round"/>
<polyline points="158.1,1232.8 200.9,1232.2 243.3,1233.9 286.5,1236.5 308,1241 329.2,1249.3 350,1262 371.3,1281.3 393,1310 414.9,1340 436,1364 456.8,1380.6 478,1391 500.7,1397 543.3,1398.6" fill="none" stroke="#0000ff" stroke-width="4.7" stroke-dasharray="3.9 3.2" stroke-linejoin="round"/>
<line x1="158.1" y1="1398.8" x2="543.3" y2="1398.8" stroke="#000000" stroke-width="4.6" stroke-dasharray="14.5 13.5"/>
<line x1="158.1" y1="1337.3" x2="543.3" y2="1337.3" stroke="#006400" stroke-width="4.4"/>
</g>
<rect x="158.1" y="1148.4" width="385.2" height="269.9" fill="none" stroke="#262626" stroke-width="1.3"/>
<path d="M158.1 1418.3v-5M158.1 1148.4v5M170.98 1418.3v-2.6M170.98 1148.4v2.6M178.52 1418.3v-2.6M178.52 1148.4v2.6M183.87 1418.3v-2.6M183.87 1148.4v2.6M188.02 1418.3v-2.6M188.02 1148.4v2.6M191.4 1418.3v-2.6M191.4 1148.4v2.6M194.27 1418.3v-2.6M194.27 1148.4v2.6M196.75 1418.3v-2.6M196.75 1148.4v2.6M198.94 1418.3v-2.6M198.94 1148.4v2.6M200.9 1418.3v-5M200.9 1148.4v5M213.78 1418.3v-2.6M213.78 1148.4v2.6M221.32 1418.3v-2.6M221.32 1148.4v2.6M226.67 1418.3v-2.6M226.67 1148.4v2.6M230.82 1418.3v-2.6M230.82 1148.4v2.6M234.2 1418.3v-2.6M234.2 1148.4v2.6M237.07 1418.3v-2.6M237.07 1148.4v2.6M239.55 1418.3v-2.6M239.55 1148.4v2.6M241.74 1418.3v-2.6M241.74 1148.4v2.6M243.7 1418.3v-5M243.7 1148.4v5M256.58 1418.3v-2.6M256.58 1148.4v2.6M264.12 1418.3v-2.6M264.12 1148.4v2.6M269.47 1418.3v-2.6M269.47 1148.4v2.6M273.62 1418.3v-2.6M273.62 1148.4v2.6M277 1418.3v-2.6M277 1148.4v2.6M279.87 1418.3v-2.6M279.87 1148.4v2.6M282.35 1418.3v-2.6M282.35 1148.4v2.6M284.54 1418.3v-2.6M284.54 1148.4v2.6M286.5 1418.3v-5M286.5 1148.4v5M299.38 1418.3v-2.6M299.38 1148.4v2.6M306.92 1418.3v-2.6M306.92 1148.4v2.6M312.27 1418.3v-2.6M312.27 1148.4v2.6M316.42 1418.3v-2.6M316.42 1148.4v2.6M319.8 1418.3v-2.6M319.8 1148.4v2.6M322.67 1418.3v-2.6M322.67 1148.4v2.6M325.15 1418.3v-2.6M325.15 1148.4v2.6M327.34 1418.3v-2.6M327.34 1148.4v2.6M329.3 1418.3v-5M329.3 1148.4v5M342.18 1418.3v-2.6M342.18 1148.4v2.6M349.72 1418.3v-2.6M349.72 1148.4v2.6M355.07 1418.3v-2.6M355.07 1148.4v2.6M359.22 1418.3v-2.6M359.22 1148.4v2.6M362.6 1418.3v-2.6M362.6 1148.4v2.6M365.47 1418.3v-2.6M365.47 1148.4v2.6M367.95 1418.3v-2.6M367.95 1148.4v2.6M370.14 1418.3v-2.6M370.14 1148.4v2.6M372.1 1418.3v-5M372.1 1148.4v5M384.98 1418.3v-2.6M384.98 1148.4v2.6M392.52 1418.3v-2.6M392.52 1148.4v2.6M397.87 1418.3v-2.6M397.87 1148.4v2.6M402.02 1418.3v-2.6M402.02 1148.4v2.6M405.4 1418.3v-2.6M405.4 1148.4v2.6M408.27 1418.3v-2.6M408.27 1148.4v2.6M410.75 1418.3v-2.6M410.75 1148.4v2.6M412.94 1418.3v-2.6M412.94 1148.4v2.6M414.9 1418.3v-5M414.9 1148.4v5M427.78 1418.3v-2.6M427.78 1148.4v2.6M435.32 1418.3v-2.6M435.32 1148.4v2.6M440.67 1418.3v-2.6M440.67 1148.4v2.6M444.82 1418.3v-2.6M444.82 1148.4v2.6M448.2 1418.3v-2.6M448.2 1148.4v2.6M451.07 1418.3v-2.6M451.07 1148.4v2.6M453.55 1418.3v-2.6M453.55 1148.4v2.6M455.74 1418.3v-2.6M455.74 1148.4v2.6M457.7 1418.3v-5M457.7 1148.4v5M470.58 1418.3v-2.6M470.58 1148.4v2.6M478.12 1418.3v-2.6M478.12 1148.4v2.6M483.47 1418.3v-2.6M483.47 1148.4v2.6M487.62 1418.3v-2.6M487.62 1148.4v2.6M491 1418.3v-2.6M491 1148.4v2.6M493.87 1418.3v-2.6M493.87 1148.4v2.6M496.35 1418.3v-2.6M496.35 1148.4v2.6M498.54 1418.3v-2.6M498.54 1148.4v2.6M500.5 1418.3v-5M500.5 1148.4v5M513.38 1418.3v-2.6M513.38 1148.4v2.6M520.92 1418.3v-2.6M520.92 1148.4v2.6M526.27 1418.3v-2.6M526.27 1148.4v2.6M530.42 1418.3v-2.6M530.42 1148.4v2.6M533.8 1418.3v-2.6M533.8 1148.4v2.6M536.67 1418.3v-2.6M536.67 1148.4v2.6M539.15 1418.3v-2.6M539.15 1148.4v2.6M541.34 1418.3v-2.6M541.34 1148.4v2.6M543.3 1418.3v-5M543.3 1148.4v5M158.1 1416.08h2.6M543.3 1416.08h-2.6M158.1 1412.34h2.6M543.3 1412.34h-2.6M158.1 1409.05h2.6M543.3 1409.05h-2.6M158.1 1406.1h5M543.3 1406.1h-5M158.1 1386.71h2.6M543.3 1386.71h-2.6M158.1 1375.37h2.6M543.3 1375.37h-2.6M158.1 1367.33h2.6M543.3 1367.33h-2.6M158.1 1361.09h2.6M543.3 1361.09h-2.6M158.1 1355.99h2.6M543.3 1355.99h-2.6M158.1 1351.68h2.6M543.3 1351.68h-2.6M158.1 1347.94h2.6M543.3 1347.94h-2.6M158.1 1344.65h2.6M543.3 1344.65h-2.6M158.1 1341.7h5M543.3 1341.7h-5M158.1 1322.31h2.6M543.3 1322.31h-2.6M158.1 1310.97h2.6M543.3 1310.97h-2.6M158.1 1302.93h2.6M543.3 1302.93h-2.6M158.1 1296.69h2.6M543.3 1296.69h-2.6M158.1 1291.59h2.6M543.3 1291.59h-2.6M158.1 1287.28h2.6M543.3 1287.28h-2.6M158.1 1283.54h2.6M543.3 1283.54h-2.6M158.1 1280.25h2.6M543.3 1280.25h-2.6M158.1 1277.3h5M543.3 1277.3h-5M158.1 1257.91h2.6M543.3 1257.91h-2.6M158.1 1246.57h2.6M543.3 1246.57h-2.6M158.1 1238.53h2.6M543.3 1238.53h-2.6M158.1 1232.29h2.6M543.3 1232.29h-2.6M158.1 1227.19h2.6M543.3 1227.19h-2.6M158.1 1222.88h2.6M543.3 1222.88h-2.6M158.1 1219.14h2.6M543.3 1219.14h-2.6M158.1 1215.85h2.6M543.3 1215.85h-2.6M158.1 1212.9h5M543.3 1212.9h-5M158.1 1193.51h2.6M543.3 1193.51h-2.6M158.1 1182.17h2.6M543.3 1182.17h-2.6M158.1 1174.13h2.6M543.3 1174.13h-2.6M158.1 1167.89h2.6M543.3 1167.89h-2.6M158.1 1162.79h2.6M543.3 1162.79h-2.6M158.1 1158.48h2.6M543.3 1158.48h-2.6M158.1 1154.74h2.6M543.3 1154.74h-2.6M158.1 1151.45h2.6M543.3 1151.45h-2.6M158.1 1148.5h5M543.3 1148.5h-5" fill="none" stroke="#262626" stroke-width="1.3"/>
<text x="157.6" y="1476.9" text-anchor="middle" font-family="'Liberation Sans','DejaVu Sans',sans-serif" font-size="36" fill="#262626" stroke="#262626" stroke-width="0.35">10<tspan font-size="28.6" dy="-16">0</tspan></text>
<text x="243.2" y="1476.9" text-anchor="middle" font-family="'Liberation Sans','DejaVu Sans',sans-serif" font-size="36" fill="#262626" stroke="#262626" stroke-width="0.35">10<tspan font-size="28.6" dy="-16">2</tspan></text>
<text x="328.8" y="1476.9" text-anchor="middle" font-family="'Liberation Sans','DejaVu Sans',sans-serif" font-size="36" fill="#262626" stroke="#262626" stroke-width="0.35">10<tspan font-size="28.6" dy="-16">4</tspan></text>
<text x="414.4" y="1476.9" text-anchor="middle" font-family="'Liberation Sans','DejaVu Sans',sans-serif" font-size="36" fill="#262626" stroke="#262626" stroke-width="0.35">10<tspan font-size="28.6" dy="-16">6</tspan></text>
<text x="500" y="1476.9" text-anchor="middle" font-family="'Liberation Sans','DejaVu Sans',sans-serif" font-size="36" fill="#262626" stroke="#262626" stroke-width="0.35">10<tspan font-size="28.6" dy="-16">8</tspan></text>
<text x="146.1" y="1167.7" text-anchor="end" font-family="'Liberation Sans','DejaVu Sans',sans-serif" font-size="36" fill="#262626" stroke="#262626" stroke-width="0.35">10<tspan font-size="28.6" dy="-16">1</tspan></text>
<text x="146.1" y="1232.1" text-anchor="end" font-family="'Liberation Sans','DejaVu Sans',sans-serif" font-size="36" fill="#262626" stroke="#262626" stroke-width="0.35">10<tspan font-size="28.6" dy="-16">0</tspan></text>
<text x="146.1" y="1296.5" text-anchor="end" font-family="'Liberation Sans','DejaVu Sans',sans-serif" font-size="36" fill="#262626" stroke="#262626" stroke-width="0.35">10<tspan font-size="28.6" dy="-16">-1</tspan></text>
<text x="146.1" y="1360.9" text-anchor="end" font-family="'Liberation Sans','DejaVu Sans',sans-serif" font-size="36" fill="#262626" stroke="#262626" stroke-width="0.35">10<tspan font-size="28.6" dy="-16">-2</tspan></text>
<text transform="translate(335.45 1520.9) scale(1.100 1.000)" font-family="'Liberation Serif','DejaVu Serif',serif" font-size="40.61" font-style="italic" fill="#262626">N</text>
<line x1="22.75" y1="1267.6" x2="22.75" y2="1299.1" stroke="#262626" stroke-width="1.9"/>
<text transform="translate(54.9 1298.25) rotate(-90) translate(-3.06 -1.17) scale(1.146 1.000)" font-family="'DejaVu Math TeX Gyre','DejaVu Serif',serif" font-size="33.42" fill="#262626">𝒟</text>
<text transform="translate(317.79 1186.22) scale(1.180 1.000)" font-family="'DejaVu Math TeX Gyre','DejaVu Serif',serif" font-size="34.01">ℱ</text>
<text transform="translate(346.88 1190.2) scale(1.250 1.000)" font-family="'Liberation Serif','DejaVu Serif',serif" font-size="25">nomit</text>
<text transform="translate(433.98 1187.5) scale(1.508 1.000)" font-family="'Liberation Serif','DejaVu Serif',serif" font-size="35.6">=</text>
<text transform="translate(469.5 1184.5) scale(1.117 1.000)" font-family="'Liberation Serif','DejaVu Serif',serif" font-size="33.24">0.89</text>
<text transform="translate(348.99 1224.32) scale(1.180 1.000)" font-family="'DejaVu Math TeX Gyre','DejaVu Serif',serif" font-size="34.01">ℱ</text>
<text transform="translate(378.06 1228.3) scale(1.285 1.000)" font-family="'Liberation Serif','DejaVu Serif',serif" font-size="25">mit</text>
<text transform="translate(433.98 1225.6) scale(1.508 1.000)" font-family="'Liberation Serif','DejaVu Serif',serif" font-size="35.6">=</text>
<text transform="translate(469.51 1222.6) scale(1.107 1.000)" font-family="'Liberation Serif','DejaVu Serif',serif" font-size="33.24">0.96</text>
<defs><clipPath id="clipf"><rect x="727.6" y="1148.4" width="385.2" height="270"/></clipPath></defs>
<circle cx="898.8" cy="1220" r="9.3" fill="#ff0000"/>
<circle cx="941.6" cy="1297.2" r="9.3" fill="#ff0000"/>
<circle cx="984.4" cy="1361" r="9.3" fill="#ff0000"/>
<circle cx="1027.2" cy="1385.6" r="9.3" fill="#ff0000"/>
<circle cx="1070" cy="1395" r="9.3" fill="#ff0000"/>
<circle cx="1112.8" cy="1396.4" r="9.3" fill="#ff0000"/>
<rect x="720" y="1227.1" width="15.2" height="15.2" fill="#0000ff"/>
<rect x="762.8" y="1226.3" width="15.2" height="15.2" fill="#0000ff"/>
<rect x="805.6" y="1235.9" width="15.2" height="15.2" fill="#0000ff"/>
<rect x="848.4" y="1247.1" width="15.2" height="15.2" fill="#0000ff"/>
<rect x="891.2" y="1255.6" width="15.2" height="15.2" fill="#0000ff"/>
<rect x="934" y="1303.2" width="15.2" height="15.2" fill="#0000ff"/>
<rect x="976.8" y="1359.4" width="15.2" height="15.2" fill="#0000ff"/>
<rect x="1019.6" y="1378" width="15.2" height="15.2" fill="#0000ff"/>
<rect x="1062.4" y="1387.4" width="15.2" height="15.2" fill="#0000ff"/>
<rect x="1105.2" y="1388.8" width="15.2" height="15.2" fill="#0000ff"/>
<g clip-path="url(#clipf)">
<polyline points="856.5,1146.5 899.2,1220 941.6,1295 963,1330 984,1358 1005,1373 1026,1383 1048,1390 1069.6,1394 1112.8,1396.4" fill="none" stroke="#ff0000" stroke-width="4.6" stroke-dasharray="14.2 3.5 7.3 3.5" stroke-linejoin="round"/>
<polyline points="727.6,1241.3 770.4,1241.8 813.2,1245.3 856,1248 878,1254 898.8,1265.3 920,1280 941.6,1297.3 963,1325 984,1353 1005,1371 1026,1383 1048,1390 1069.6,1394 1112.8,1396.4" fill="none" stroke="#0000ff" stroke-width="4.7" stroke-dasharray="3.9 3.2" stroke-linejoin="round"/>
<line x1="727.6" y1="1396.5" x2="1112.8" y2="1396.5" stroke="#000000" stroke-width="4.6" stroke-dasharray="14.5 13.5"/>
<line x1="727.6" y1="1357.4" x2="1112.8" y2="1357.4" stroke="#006400" stroke-width="4.4"/>
</g>
<rect x="727.6" y="1148.4" width="385.2" height="270" fill="none" stroke="#262626" stroke-width="1.3"/>
<path d="M727.6 1418.4v-5M727.6 1148.4v5M740.48 1418.4v-2.6M740.48 1148.4v2.6M748.02 1418.4v-2.6M748.02 1148.4v2.6M753.37 1418.4v-2.6M753.37 1148.4v2.6M757.52 1418.4v-2.6M757.52 1148.4v2.6M760.9 1418.4v-2.6M760.9 1148.4v2.6M763.77 1418.4v-2.6M763.77 1148.4v2.6M766.25 1418.4v-2.6M766.25 1148.4v2.6M768.44 1418.4v-2.6M768.44 1148.4v2.6M770.4 1418.4v-5M770.4 1148.4v5M783.28 1418.4v-2.6M783.28 1148.4v2.6M790.82 1418.4v-2.6M790.82 1148.4v2.6M796.17 1418.4v-2.6M796.17 1148.4v2.6M800.32 1418.4v-2.6M800.32 1148.4v2.6M803.7 1418.4v-2.6M803.7 1148.4v2.6M806.57 1418.4v-2.6M806.57 1148.4v2.6M809.05 1418.4v-2.6M809.05 1148.4v2.6M811.24 1418.4v-2.6M811.24 1148.4v2.6M813.2 1418.4v-5M813.2 1148.4v5M826.08 1418.4v-2.6M826.08 1148.4v2.6M833.62 1418.4v-2.6M833.62 1148.4v2.6M838.97 1418.4v-2.6M838.97 1148.4v2.6M843.12 1418.4v-2.6M843.12 1148.4v2.6M846.5 1418.4v-2.6M846.5 1148.4v2.6M849.37 1418.4v-2.6M849.37 1148.4v2.6M851.85 1418.4v-2.6M851.85 1148.4v2.6M854.04 1418.4v-2.6M854.04 1148.4v2.6M856 1418.4v-5M856 1148.4v5M868.88 1418.4v-2.6M868.88 1148.4v2.6M876.42 1418.4v-2.6M876.42 1148.4v2.6M881.77 1418.4v-2.6M881.77 1148.4v2.6M885.92 1418.4v-2.6M885.92 1148.4v2.6M889.3 1418.4v-2.6M889.3 1148.4v2.6M892.17 1418.4v-2.6M892.17 1148.4v2.6M894.65 1418.4v-2.6M894.65 1148.4v2.6M896.84 1418.4v-2.6M896.84 1148.4v2.6M898.8 1418.4v-5M898.8 1148.4v5M911.68 1418.4v-2.6M911.68 1148.4v2.6M919.22 1418.4v-2.6M919.22 1148.4v2.6M924.57 1418.4v-2.6M924.57 1148.4v2.6M928.72 1418.4v-2.6M928.72 1148.4v2.6M932.1 1418.4v-2.6M932.1 1148.4v2.6M934.97 1418.4v-2.6M934.97 1148.4v2.6M937.45 1418.4v-2.6M937.45 1148.4v2.6M939.64 1418.4v-2.6M939.64 1148.4v2.6M941.6 1418.4v-5M941.6 1148.4v5M954.48 1418.4v-2.6M954.48 1148.4v2.6M962.02 1418.4v-2.6M962.02 1148.4v2.6M967.37 1418.4v-2.6M967.37 1148.4v2.6M971.52 1418.4v-2.6M971.52 1148.4v2.6M974.9 1418.4v-2.6M974.9 1148.4v2.6M977.77 1418.4v-2.6M977.77 1148.4v2.6M980.25 1418.4v-2.6M980.25 1148.4v2.6M982.44 1418.4v-2.6M982.44 1148.4v2.6M984.4 1418.4v-5M984.4 1148.4v5M997.28 1418.4v-2.6M997.28 1148.4v2.6M1004.82 1418.4v-2.6M1004.82 1148.4v2.6M1010.17 1418.4v-2.6M1010.17 1148.4v2.6M1014.32 1418.4v-2.6M1014.32 1148.4v2.6M1017.7 1418.4v-2.6M1017.7 1148.4v2.6M1020.57 1418.4v-2.6M1020.57 1148.4v2.6M1023.05 1418.4v-2.6M1023.05 1148.4v2.6M1025.24 1418.4v-2.6M1025.24 1148.4v2.6M1027.2 1418.4v-5M1027.2 1148.4v5M1040.08 1418.4v-2.6M1040.08 1148.4v2.6M1047.62 1418.4v-2.6M1047.62 1148.4v2.6M1052.97 1418.4v-2.6M1052.97 1148.4v2.6M1057.12 1418.4v-2.6M1057.12 1148.4v2.6M1060.5 1418.4v-2.6M1060.5 1148.4v2.6M1063.37 1418.4v-2.6M1063.37 1148.4v2.6M1065.85 1418.4v-2.6M1065.85 1148.4v2.6M1068.04 1418.4v-2.6M1068.04 1148.4v2.6M1070 1418.4v-5M1070 1148.4v5M1082.88 1418.4v-2.6M1082.88 1148.4v2.6M1090.42 1418.4v-2.6M1090.42 1148.4v2.6M1095.77 1418.4v-2.6M1095.77 1148.4v2.6M1099.92 1418.4v-2.6M1099.92 1148.4v2.6M1103.3 1418.4v-2.6M1103.3 1148.4v2.6M1106.17 1418.4v-2.6M1106.17 1148.4v2.6M1108.65 1418.4v-2.6M1108.65 1148.4v2.6M1110.84 1418.4v-2.6M1110.84 1148.4v2.6M1112.8 1418.4v-5M1112.8 1148.4v5M727.6 1412.04h2.6M1112.8 1412.04h-2.6M727.6 1399.48h2.6M1112.8 1399.48h-2.6M727.6 1390.57h2.6M1112.8 1390.57h-2.6M727.6 1383.66h2.6M1112.8 1383.66h-2.6M727.6 1378.02h2.6M1112.8 1378.02h-2.6M727.6 1373.24h2.6M1112.8 1373.24h-2.6M727.6 1369.11h2.6M1112.8 1369.11h-2.6M727.6 1365.46h2.6M1112.8 1365.46h-2.6M727.6 1362.2h5M1112.8 1362.2h-5M727.6 1340.74h2.6M1112.8 1340.74h-2.6M727.6 1328.18h2.6M1112.8 1328.18h-2.6M727.6 1319.27h2.6M1112.8 1319.27h-2.6M727.6 1312.36h2.6M1112.8 1312.36h-2.6M727.6 1306.72h2.6M1112.8 1306.72h-2.6M727.6 1301.94h2.6M1112.8 1301.94h-2.6M727.6 1297.81h2.6M1112.8 1297.81h-2.6M727.6 1294.16h2.6M1112.8 1294.16h-2.6M727.6 1290.9h5M1112.8 1290.9h-5M727.6 1269.44h2.6M1112.8 1269.44h-2.6M727.6 1256.88h2.6M1112.8 1256.88h-2.6M727.6 1247.97h2.6M1112.8 1247.97h-2.6M727.6 1241.06h2.6M1112.8 1241.06h-2.6M727.6 1235.42h2.6M1112.8 1235.42h-2.6M727.6 1230.64h2.6M1112.8 1230.64h-2.6M727.6 1226.51h2.6M1112.8 1226.51h-2.6M727.6 1222.86h2.6M1112.8 1222.86h-2.6M727.6 1219.6h5M1112.8 1219.6h-5M727.6 1198.14h2.6M1112.8 1198.14h-2.6M727.6 1185.58h2.6M1112.8 1185.58h-2.6M727.6 1176.67h2.6M1112.8 1176.67h-2.6M727.6 1169.76h2.6M1112.8 1169.76h-2.6M727.6 1164.12h2.6M1112.8 1164.12h-2.6M727.6 1159.34h2.6M1112.8 1159.34h-2.6M727.6 1155.21h2.6M1112.8 1155.21h-2.6M727.6 1151.56h2.6M1112.8 1151.56h-2.6" fill="none" stroke="#262626" stroke-width="1.3"/>
<text x="727.1" y="1477" text-anchor="middle" font-family="'Liberation Sans','DejaVu Sans',sans-serif" font-size="36" fill="#262626" stroke="#262626" stroke-width="0.35">10<tspan font-size="28.6" dy="-16">0</tspan></text>
<text x="812.7" y="1477" text-anchor="middle" font-family="'Liberation Sans','DejaVu Sans',sans-serif" font-size="36" fill="#262626" stroke="#262626" stroke-width="0.35">10<tspan font-size="28.6" dy="-16">2</tspan></text>
<text x="898.3" y="1477" text-anchor="middle" font-family="'Liberation Sans','DejaVu Sans',sans-serif" font-size="36" fill="#262626" stroke="#262626" stroke-width="0.35">10<tspan font-size="28.6" dy="-16">4</tspan></text>
<text x="983.9" y="1477" text-anchor="middle" font-family="'Liberation Sans','DejaVu Sans',sans-serif" font-size="36" fill="#262626" stroke="#262626" stroke-width="0.35">10<tspan font-size="28.6" dy="-16">6</tspan></text>
<text x="1069.5" y="1477" text-anchor="middle" font-family="'Liberation Sans','DejaVu Sans',sans-serif" font-size="36" fill="#262626" stroke="#262626" stroke-width="0.35">10<tspan font-size="28.6" dy="-16">8</tspan></text>
<text x="715.6" y="1167.5" text-anchor="end" font-family="'Liberation Sans','DejaVu Sans',sans-serif" font-size="36" fill="#262626" stroke="#262626" stroke-width="0.35">10<tspan font-size="28.6" dy="-16">1</tspan></text>
<text x="715.6" y="1238.8" text-anchor="end" font-family="'Liberation Sans','DejaVu Sans',sans-serif" font-size="36" fill="#262626" stroke="#262626" stroke-width="0.35">10<tspan font-size="28.6" dy="-16">0</tspan></text>
<text x="715.6" y="1310.1" text-anchor="end" font-family="'Liberation Sans','DejaVu Sans',sans-serif" font-size="36" fill="#262626" stroke="#262626" stroke-width="0.35">10<tspan font-size="28.6" dy="-16">-1</tspan></text>
<text x="715.6" y="1381.4" text-anchor="end" font-family="'Liberation Sans','DejaVu Sans',sans-serif" font-size="36" fill="#262626" stroke="#262626" stroke-width="0.35">10<tspan font-size="28.6" dy="-16">-2</tspan></text>
<text transform="translate(904.95 1521) scale(1.100 1.000)" font-family="'Liberation Serif','DejaVu Serif',serif" font-size="40.61" font-style="italic" fill="#262626">N</text>
<line x1="592.25" y1="1267.65" x2="592.25" y2="1299.15" stroke="#262626" stroke-width="1.9"/>
<text transform="translate(624.4 1298.3) rotate(-90) translate(-3.06 -1.17) scale(1.146 1.000)" font-family="'DejaVu Math TeX Gyre','DejaVu Serif',serif" font-size="33.42" fill="#262626">𝒟</text>
<text transform="translate(890.89 1185.62) scale(1.180 1.000)" font-family="'DejaVu Math TeX Gyre','DejaVu Serif',serif" font-size="34.01">ℱ</text>
<text transform="translate(919.98 1189.6) scale(1.250 1.000)" font-family="'Liberation Serif','DejaVu Serif',serif" font-size="25">nomit</text>
<text transform="translate(1004.98 1186.9) scale(1.508 1.000)" font-family="'Liberation Serif','DejaVu Serif',serif" font-size="35.6">=</text>
<text transform="translate(1040.5 1183.9) scale(1.117 1.000)" font-family="'Liberation Serif','DejaVu Serif',serif" font-size="33.24">0.89</text>
<text transform="translate(921.79 1224.02) scale(1.180 1.000)" font-family="'DejaVu Math TeX Gyre','DejaVu Serif',serif" font-size="34.01">ℱ</text>
<text transform="translate(950.89 1228) scale(1.230 1.000)" font-family="'Liberation Serif','DejaVu Serif',serif" font-size="25">mit</text>
<text transform="translate(1004.98 1225.3) scale(1.508 1.000)" font-family="'Liberation Serif','DejaVu Serif',serif" font-size="35.6">=</text>
<text transform="translate(1040.52 1222.3) scale(1.101 1.000)" font-family="'Liberation Serif','DejaVu Serif',serif" font-size="33.24">0.94</text>
</svg>
</body></html>
